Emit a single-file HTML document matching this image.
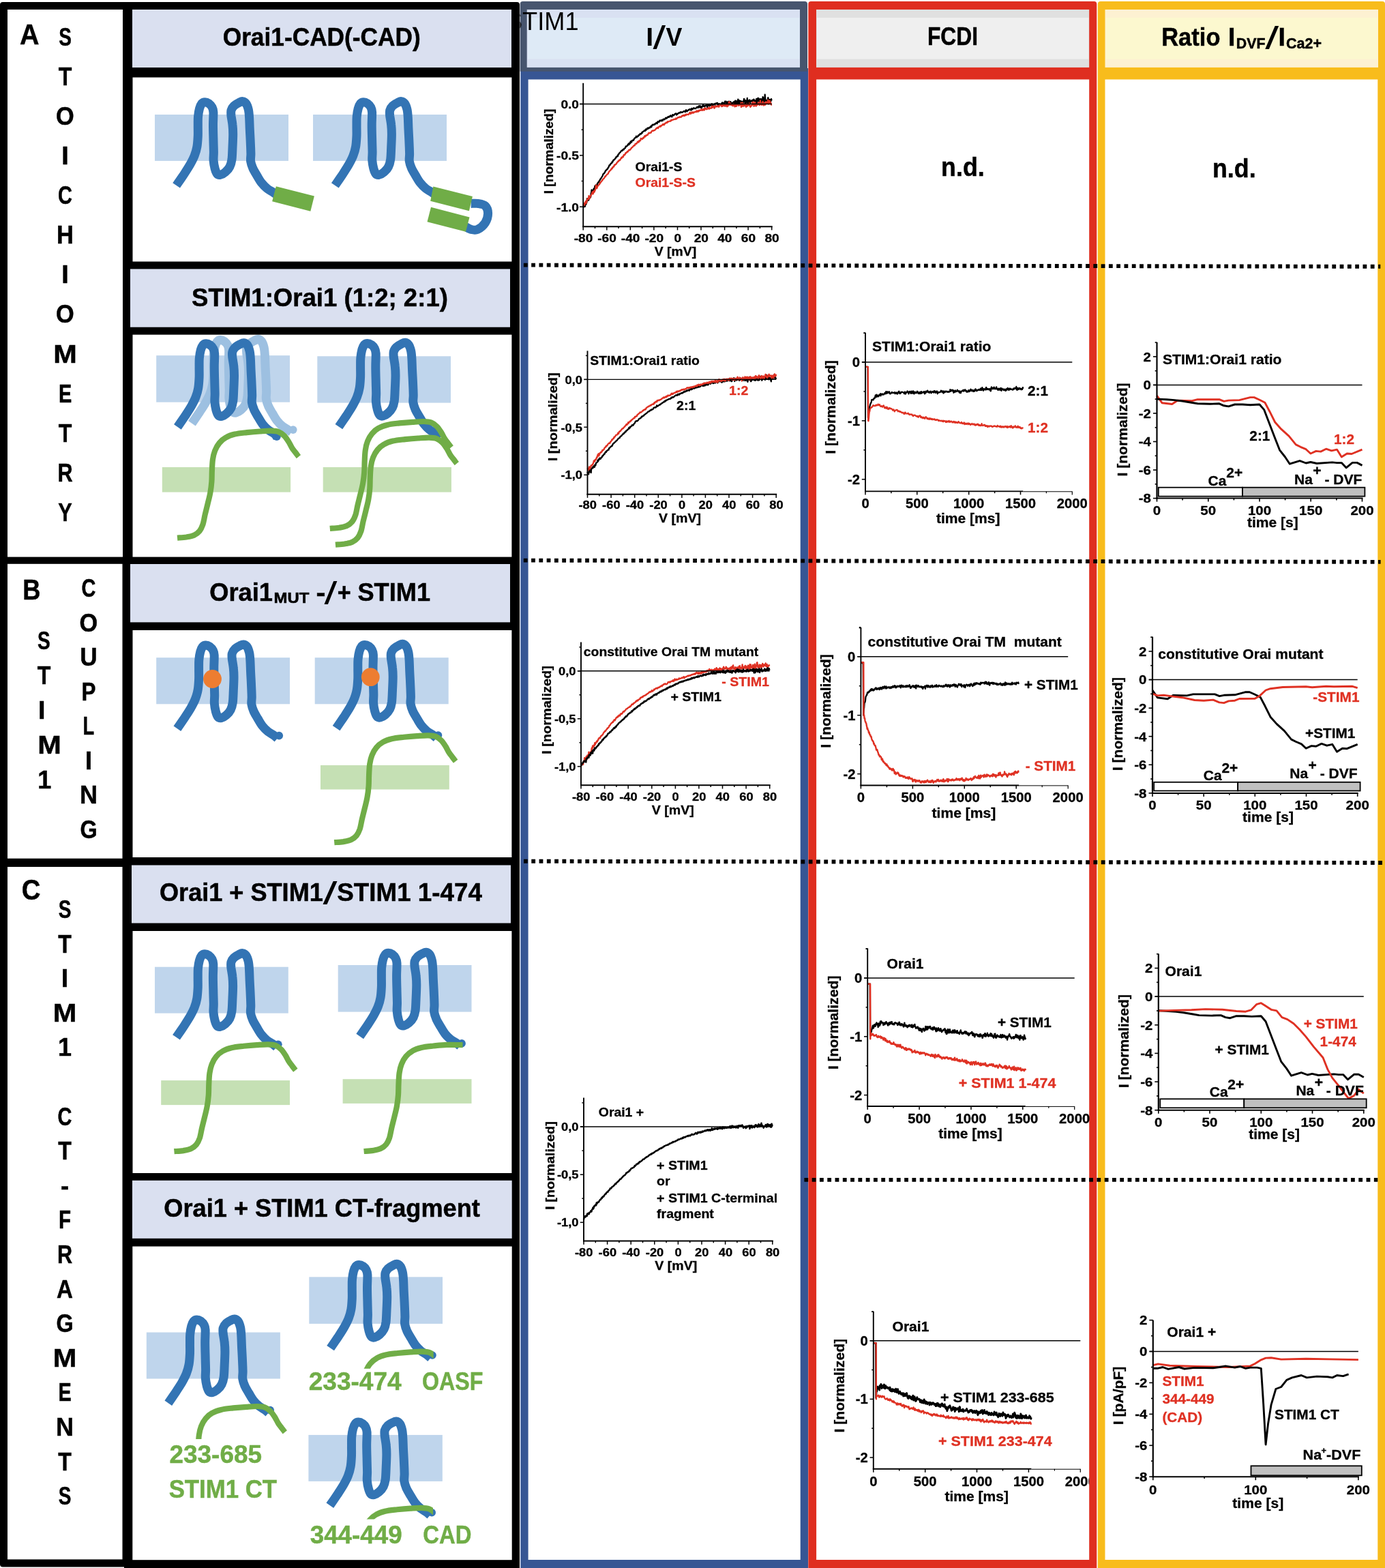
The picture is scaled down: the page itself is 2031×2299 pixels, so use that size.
<!DOCTYPE html>
<html lang="en">
<head>
<meta charset="utf-8">
<title>STIM1 / Orai1 stoichiometry, coupling and CT-fragments</title>
<style>
html,body{margin:0;padding:0;background:#fff;}
body{width:2031px;height:2299px;overflow:hidden;}
svg{display:block;font-family:"Liberation Sans",sans-serif;font-weight:bold;}
</style>
</head>
<body>
<svg width="2031" height="2299" viewBox="0 0 2031 2299">
<rect x="0" y="0" width="2031" height="2299" fill="#fff"/>
<path d="M0 7Q0 3 4 3H758Q762 3 762 7V2299H182V2297.5H4Q0 2297.5 0 2293.5Z" fill="#000"/>
<rect x="11" y="14" width="169" height="802.6" fill="#fff"/>
<rect x="11" y="826.8" width="168.5" height="431.9" fill="#fff"/>
<rect x="11" y="1271" width="168.5" height="1015.4" fill="#fff"/>
<rect x="194" y="14" width="556" height="85" fill="#DAE0F0"/>
<rect x="191" y="394.4" width="557" height="85.3" fill="#DAE0F0"/>
<rect x="191" y="827" width="557" height="85.4" fill="#DAE0F0"/>
<rect x="193" y="1268.5" width="556" height="85" fill="#DAE0F0"/>
<rect x="194" y="1730.8" width="556.7" height="85" fill="#DAE0F0"/>
<rect x="194.5" y="113.5" width="555.9" height="270" fill="#fff"/>
<rect x="194.5" y="490.7" width="555.9" height="325.9" fill="#fff"/>
<rect x="194.5" y="924" width="555.9" height="333" fill="#fff"/>
<rect x="194.5" y="1365" width="555.9" height="355" fill="#fff"/>
<rect x="194.3" y="1827.5" width="556.4" height="459.7" fill="#fff"/>
<rect x="763.3" y="100" width="421.7" height="2199" fill="#375694"/>
<rect x="774.6" y="116.5" width="399.1" height="2170.5" fill="#fff"/>
<path d="M762.7 6Q762.7 2 766.7 2H1180Q1184 2 1184 6V104.8H762.7Z" fill="#47556E"/>
<rect x="772.7" y="14" width="400.3" height="84.9" fill="#D9E1F2"/>
<rect x="774" y="26" width="398.5" height="60.6" fill="#DEEAF6"/>
<path d="M1185.3 6Q1185.3 2 1189.3 2H1604.3Q1608.3 2 1608.3 6V2299H1185.3Z" fill="#DF2E20"/>
<rect x="1197.1" y="116.5" width="400.1" height="2170.5" fill="#fff"/>
<rect x="1197" y="14" width="400.2" height="84.9" fill="#E0E0E0"/>
<rect x="1198" y="26" width="398.5" height="60.6" fill="#EFEFEF"/>
<path d="M1609.8 6Q1609.8 2 1613.8 2H2027Q2031 2 2031 6V2299H1609.8Z" fill="#F8BC1C"/>
<rect x="1620.5" y="116.5" width="399.8" height="2170.5" fill="#fff"/>
<rect x="1620.5" y="14" width="400.5" height="84.9" fill="#FDF1D2"/>
<rect x="1621.5" y="26" width="398.5" height="60.6" fill="#FCF8CF"/>
<clipPath id="cst"><rect x="762.6" y="0" width="200" height="110"/></clipPath>
<g clip-path="url(#cst)">
<text x="742" y="43.7" font-size="36" font-weight="normal" textLength="106.5" lengthAdjust="spacingAndGlyphs">STIM1</text>
</g>
<path d="M767.9 388.6L2024.3 390.8" stroke="#000" stroke-width="5.9" stroke-dasharray="5.8 5.49" fill="none"/>
<path d="M767.8 821.6L2024.6 823.9" stroke="#000" stroke-width="5.9" stroke-dasharray="5.8 5.49" fill="none"/>
<path d="M768 1262.7L2027.9 1265" stroke="#000" stroke-width="5.9" stroke-dasharray="5.8 5.49" fill="none"/>
<path d="M1179.4 1729.9L2020.3 1729.9" stroke="#000" stroke-width="5.9" stroke-dasharray="5.8 5.49" fill="none"/>
<text><tspan x="947.6" y="66.8" font-size="37.4" stroke="#000" stroke-width="0.2">I</tspan><tspan x="957.6" y="72.4" font-size="48.6" font-weight="normal" textLength="18.6" lengthAdjust="spacingAndGlyphs">/</tspan><tspan x="976.6" y="66.8" font-size="37.4" stroke="#000" stroke-width="0" textLength="23.9" lengthAdjust="spacingAndGlyphs">V</tspan></text>
<text x="1359.9" y="66.4" font-size="37.4" stroke="#000" stroke-width="0.5" textLength="74.1" lengthAdjust="spacingAndGlyphs">FCDI</text>
<text x="1380" y="257.5" font-size="38.4" stroke="#000" stroke-width="0.5" textLength="63.8" lengthAdjust="spacingAndGlyphs">n.d.</text>
<text x="1778" y="260.2" font-size="38.4" stroke="#000" stroke-width="0.5" textLength="63.6" lengthAdjust="spacingAndGlyphs">n.d.</text>
<text><tspan x="1703.2" y="67" font-size="37.4" stroke="#000" stroke-width="0.5" textLength="86.3" lengthAdjust="spacingAndGlyphs">Ratio</tspan> <tspan x="1801.1" y="67" font-size="37.4" stroke="#000" stroke-width="0.5">I</tspan><tspan x="1812.8" y="70.8" font-size="22.5" stroke="#000" stroke-width="0.5" textLength="42.7" lengthAdjust="spacingAndGlyphs">DVF</tspan><tspan x="1855.3" y="71.6" font-size="47" font-weight="normal" textLength="20" lengthAdjust="spacingAndGlyphs">/</tspan><tspan x="1874.5" y="67" font-size="37.4" stroke="#000" stroke-width="0.5">I</tspan><tspan x="1886" y="70.8" font-size="22.5" stroke="#000" stroke-width="0.5" textLength="52" lengthAdjust="spacingAndGlyphs">Ca2+</tspan></text>
<text x="326.7" y="67.1" font-size="37.4" stroke="#000" stroke-width="0.5" textLength="290.1" lengthAdjust="spacingAndGlyphs">Orai1-CAD(-CAD)</text>
<text x="281" y="448.5" font-size="37.4" stroke="#000" stroke-width="0.5" textLength="375.9" lengthAdjust="spacingAndGlyphs">STIM1:Orai1 (1:2; 2:1)</text>
<text><tspan x="307.3" y="880.5" font-size="37.4" stroke="#000" stroke-width="0.5" textLength="92.7" lengthAdjust="spacingAndGlyphs">Orai1</tspan><tspan x="401.4" y="884.2" font-size="22.5" stroke="#000" stroke-width="0.5" textLength="52" lengthAdjust="spacingAndGlyphs">MUT</tspan> <tspan x="463.4" y="880.5" font-size="37.4" stroke="#000" stroke-width="0.5" textLength="14" lengthAdjust="spacingAndGlyphs">-</tspan><tspan x="475.4" y="885.6" font-size="47" font-weight="normal" textLength="18.9" lengthAdjust="spacingAndGlyphs">/</tspan><tspan x="494.8" y="880.5" font-size="37.4" stroke="#000" stroke-width="0.5" textLength="19.9" lengthAdjust="spacingAndGlyphs">+</tspan> <tspan x="524.5" y="880.5" font-size="37.4" stroke="#000" stroke-width="0.5" textLength="106.5" lengthAdjust="spacingAndGlyphs">STIM1</tspan></text>
<text><tspan x="234" y="1321" font-size="37.4" stroke="#000" stroke-width="0.5" textLength="239.8" lengthAdjust="spacingAndGlyphs">Orai1 + STIM1</tspan><tspan x="473.6" y="1326.2" font-size="47" font-weight="normal" textLength="21" lengthAdjust="spacingAndGlyphs">/</tspan><tspan x="494.3" y="1321" font-size="37.4" stroke="#000" stroke-width="0.5" textLength="212.6" lengthAdjust="spacingAndGlyphs">STIM1 1-474</tspan></text>
<text x="240.3" y="1784.2" font-size="37.4" stroke="#000" stroke-width="0.5" textLength="463.6" lengthAdjust="spacingAndGlyphs">Orai1 + STIM1 CT-fragment</text>
<text x="28.9" y="65" font-size="43.4" stroke="#000" stroke-width="0.5" textLength="28.5" lengthAdjust="spacingAndGlyphs">A</text>
<text><tspan x="86.2" y="66.9" font-size="37.4" stroke="#000" stroke-width="0.5" textLength="18.7" lengthAdjust="spacingAndGlyphs">S</tspan><tspan x="85.7" y="125" font-size="37.4" stroke="#000" stroke-width="0.5" textLength="19.6" lengthAdjust="spacingAndGlyphs">T</tspan><tspan x="82.1" y="183" font-size="37.4" stroke="#000" stroke-width="0.5" textLength="26.7" lengthAdjust="spacingAndGlyphs">O</tspan><tspan x="90.2" y="241.1" font-size="37.4" stroke="#000" stroke-width="0.5" textLength="10.5" lengthAdjust="spacingAndGlyphs">I</tspan><tspan x="85.1" y="299.2" font-size="37.4" stroke="#000" stroke-width="0.5" textLength="20.9" lengthAdjust="spacingAndGlyphs">C</tspan><tspan x="83.1" y="357.2" font-size="37.4" stroke="#000" stroke-width="0.5" textLength="24.9" lengthAdjust="spacingAndGlyphs">H</tspan><tspan x="90.2" y="415.3" font-size="37.4" stroke="#000" stroke-width="0.5" textLength="10.5" lengthAdjust="spacingAndGlyphs">I</tspan><tspan x="82.1" y="473.4" font-size="37.4" stroke="#000" stroke-width="0.5" textLength="26.7" lengthAdjust="spacingAndGlyphs">O</tspan><tspan x="78.2" y="531.5" font-size="37.4" stroke="#000" stroke-width="0.5" textLength="34.6" lengthAdjust="spacingAndGlyphs">M</tspan><tspan x="85.9" y="589.5" font-size="37.4" stroke="#000" stroke-width="0.5" textLength="19.3" lengthAdjust="spacingAndGlyphs">E</tspan><tspan x="85.7" y="647.6" font-size="37.4" stroke="#000" stroke-width="0.5" textLength="19.6" lengthAdjust="spacingAndGlyphs">T</tspan><tspan x="84.4" y="705.7" font-size="37.4" stroke="#000" stroke-width="0.5" textLength="22.2" lengthAdjust="spacingAndGlyphs">R</tspan><tspan x="85.2" y="763.7" font-size="37.4" stroke="#000" stroke-width="0.5" textLength="20.5" lengthAdjust="spacingAndGlyphs">Y</tspan></text>
<text x="33.3" y="878.7" font-size="43.4" stroke="#000" stroke-width="0.5" textLength="26.2" lengthAdjust="spacingAndGlyphs">B</text>
<text><tspan x="119.6" y="875" font-size="37.4" stroke="#000" stroke-width="0.5" textLength="20.9" lengthAdjust="spacingAndGlyphs">C</tspan><tspan x="116.6" y="925.5" font-size="37.4" stroke="#000" stroke-width="0.5" textLength="26.7" lengthAdjust="spacingAndGlyphs">O</tspan><tspan x="117.3" y="976" font-size="37.4" stroke="#000" stroke-width="0.5" textLength="25.4" lengthAdjust="spacingAndGlyphs">U</tspan><tspan x="119.5" y="1026.5" font-size="37.4" stroke="#000" stroke-width="0.5" textLength="21" lengthAdjust="spacingAndGlyphs">P</tspan><tspan x="121.6" y="1077" font-size="37.4" stroke="#000" stroke-width="0.5" textLength="16.7" lengthAdjust="spacingAndGlyphs">L</tspan><tspan x="124.7" y="1127.5" font-size="37.4" stroke="#000" stroke-width="0.5" textLength="10.5" lengthAdjust="spacingAndGlyphs">I</tspan><tspan x="117" y="1178" font-size="37.4" stroke="#000" stroke-width="0.5" textLength="26" lengthAdjust="spacingAndGlyphs">N</tspan><tspan x="117.4" y="1228.5" font-size="37.4" stroke="#000" stroke-width="0.5" textLength="25.2" lengthAdjust="spacingAndGlyphs">G</tspan></text>
<text><tspan x="54.9" y="952" font-size="37.4" stroke="#000" stroke-width="0.5" textLength="18.7" lengthAdjust="spacingAndGlyphs">S</tspan><tspan x="54.7" y="1003.2" font-size="37.4" stroke="#000" stroke-width="0.5" textLength="19.6" lengthAdjust="spacingAndGlyphs">T</tspan><tspan x="55.9" y="1053.6" font-size="37.4" stroke="#000" stroke-width="0.5" textLength="10.5" lengthAdjust="spacingAndGlyphs">I</tspan><tspan x="55.2" y="1104.8" font-size="37.4" stroke="#000" stroke-width="0.5" textLength="34.6" lengthAdjust="spacingAndGlyphs">M</tspan><tspan x="55.3" y="1155.5" font-size="37.4" stroke="#000" stroke-width="0.5" textLength="20" lengthAdjust="spacingAndGlyphs">1</tspan></text>
<text x="31.8" y="1319" font-size="43.4" stroke="#000" stroke-width="0.5" textLength="27.7" lengthAdjust="spacingAndGlyphs">C</text>
<text><tspan x="85.7" y="1346" font-size="37.4" stroke="#000" stroke-width="0.5" textLength="18.7" lengthAdjust="spacingAndGlyphs">S</tspan><tspan x="85.2" y="1396.6" font-size="37.4" stroke="#000" stroke-width="0.5" textLength="19.6" lengthAdjust="spacingAndGlyphs">T</tspan><tspan x="89.7" y="1447.2" font-size="37.4" stroke="#000" stroke-width="0.5" textLength="10.5" lengthAdjust="spacingAndGlyphs">I</tspan><tspan x="77.7" y="1497.8" font-size="37.4" stroke="#000" stroke-width="0.5" textLength="34.6" lengthAdjust="spacingAndGlyphs">M</tspan><tspan x="85" y="1548.4" font-size="37.4" stroke="#000" stroke-width="0.5" textLength="20" lengthAdjust="spacingAndGlyphs">1</tspan> <tspan x="84.6" y="1649.6" font-size="37.4" stroke="#000" stroke-width="0.5" textLength="20.9" lengthAdjust="spacingAndGlyphs">C</tspan><tspan x="85.2" y="1700.2" font-size="37.4" stroke="#000" stroke-width="0.5" textLength="19.6" lengthAdjust="spacingAndGlyphs">T</tspan><tspan x="89" y="1750.8" font-size="37.4" stroke="#000" stroke-width="0.5" textLength="12.1" lengthAdjust="spacingAndGlyphs">-</tspan><tspan x="85.9" y="1801.4" font-size="37.4" stroke="#000" stroke-width="0.5" textLength="18.1" lengthAdjust="spacingAndGlyphs">F</tspan><tspan x="83.9" y="1852" font-size="37.4" stroke="#000" stroke-width="0.5" textLength="22.2" lengthAdjust="spacingAndGlyphs">R</tspan><tspan x="83.1" y="1902.6" font-size="37.4" stroke="#000" stroke-width="0.5" textLength="23.9" lengthAdjust="spacingAndGlyphs">A</tspan><tspan x="82.4" y="1953.2" font-size="37.4" stroke="#000" stroke-width="0.5" textLength="25.2" lengthAdjust="spacingAndGlyphs">G</tspan><tspan x="77.7" y="2003.8" font-size="37.4" stroke="#000" stroke-width="0.5" textLength="34.6" lengthAdjust="spacingAndGlyphs">M</tspan><tspan x="85.4" y="2054.4" font-size="37.4" stroke="#000" stroke-width="0.5" textLength="19.3" lengthAdjust="spacingAndGlyphs">E</tspan><tspan x="82" y="2105" font-size="37.4" stroke="#000" stroke-width="0.5" textLength="26" lengthAdjust="spacingAndGlyphs">N</tspan><tspan x="85.2" y="2155.6" font-size="37.4" stroke="#000" stroke-width="0.5" textLength="19.6" lengthAdjust="spacingAndGlyphs">T</tspan><tspan x="85.7" y="2206.2" font-size="37.4" stroke="#000" stroke-width="0.5" textLength="18.7" lengthAdjust="spacingAndGlyphs">S</tspan></text>
<text><tspan x="248.5" y="2144.9" font-size="37.4" stroke="#70AD47" stroke-width="0.5" fill="#70AD47" textLength="135.5" lengthAdjust="spacingAndGlyphs">233-685</tspan> <tspan x="247.7" y="2196.2" font-size="37.4" stroke="#70AD47" stroke-width="0.5" fill="#70AD47" textLength="158.3" lengthAdjust="spacingAndGlyphs">STIM1 CT</tspan></text>
<text><tspan x="452.7" y="2038" font-size="37.4" stroke="#70AD47" stroke-width="0.5" fill="#70AD47" textLength="136" lengthAdjust="spacingAndGlyphs">233-474</tspan> <tspan x="618.9" y="2038" font-size="37.4" stroke="#70AD47" stroke-width="0.5" fill="#70AD47" textLength="89.4" lengthAdjust="spacingAndGlyphs">OASF</tspan></text>
<text><tspan x="454.7" y="2262.7" font-size="37.4" stroke="#70AD47" stroke-width="0.5" fill="#70AD47" textLength="134.9" lengthAdjust="spacingAndGlyphs">344-449</tspan> <tspan x="620.3" y="2262.7" font-size="37.4" stroke="#70AD47" stroke-width="0.5" fill="#70AD47" textLength="71.2" lengthAdjust="spacingAndGlyphs">CAD</tspan></text>
<rect x="227" y="168" width="196" height="67.9" fill="#BFD5EC"/>
<rect x="459" y="168" width="196" height="67.9" fill="#BFD5EC"/>
<path d="M258.6 271.9C260.4 269.3 265.9 261.3 269.3 256.3C272.6 251.2 275.9 246.3 278.6 241.6C281.2 237 283.5 232.8 285.2 228.3C286.9 223.9 288.1 219.9 288.9 215.1C289.8 210.2 290 204.4 290.3 199.1C290.5 193.8 290.2 187.8 290.3 183.2C290.3 178.5 290.2 175.2 290.5 171.2C290.9 167.2 291.6 162.5 292.5 159.2C293.4 156 294.5 153.5 295.8 151.9C297.2 150.3 298.7 149.7 300.5 149.7C302.3 149.7 304.7 150.7 306.5 151.9C308.3 153.2 310.1 155.1 311.1 157.3C312.2 159.4 312.6 160.2 312.9 164.6C313.1 168.9 312.5 176.7 312.5 183.2C312.5 189.6 312.7 196.5 312.9 203.1C313 209.7 313.3 217.7 313.4 223C313.4 228.3 312.8 231 313.1 235C313.4 239 314.2 243.6 315.1 247C316 250.3 317.1 253.4 318.4 254.9C319.8 256.5 321.1 256.7 323.1 256.3C325.1 255.8 328.1 254.3 330.4 252.3C332.7 250.3 335.5 247.4 337 244.3C338.6 241.2 339.3 238.3 340 233.7C340.6 229 340.7 222.6 341 216.4C341.3 210.2 341.7 202 341.7 196.5C341.7 190.9 341.5 187.6 341 183.2C340.6 178.7 339.4 173.4 339 169.9C338.7 166.3 338.4 164.3 339 161.9C339.7 159.5 341.1 157.1 343 155.3C344.9 153.4 348.2 151.7 350.3 150.6C352.4 149.5 353.9 148.4 355.6 148.6C357.4 148.8 359.5 149.9 361 151.9C362.4 153.9 363.5 157.1 364.3 160.6C365.1 164 365.3 167.7 365.6 172.5C365.9 177.4 366 183.6 366.3 189.8C366.6 196 367.1 203.8 367.3 209.7C367.6 215.7 367.8 221.3 367.9 225.7C367.9 230.1 367.1 232.8 367.6 236.3C368.1 239.9 369.4 243.4 370.9 247C372.5 250.5 374.8 254 376.9 257.6C379 261.1 381.1 265.1 383.6 268.2C386 271.3 388.7 273.9 391.5 276.2C394.4 278.5 398.5 280.6 400.8 282.2C403.2 283.7 404.7 284.9 405.5 285.5" fill="none" stroke="#3374B4" stroke-width="13" stroke-linejoin="round"/>
<polygon points="404.8,273.3 460.9,287.5 455.3,309.7 399.1,295.2" fill="#70AD47"/>
<path d="M491.3 271.9C493.1 269.3 498.6 261.3 502 256.3C505.3 251.2 508.6 246.3 511.3 241.6C513.9 237 516.2 232.8 517.9 228.3C519.6 223.9 520.8 219.9 521.6 215.1C522.5 210.2 522.7 204.4 523 199.1C523.2 193.8 522.9 187.8 523 183.2C523 178.5 522.9 175.2 523.2 171.2C523.6 167.2 524.3 162.5 525.2 159.2C526.1 156 527.2 153.5 528.5 151.9C529.9 150.3 531.4 149.7 533.2 149.7C535 149.7 537.4 150.7 539.2 151.9C541 153.2 542.8 155.1 543.8 157.3C544.9 159.4 545.3 160.2 545.6 164.6C545.8 168.9 545.2 176.7 545.2 183.2C545.2 189.6 545.4 196.5 545.6 203.1C545.7 209.7 546 217.7 546.1 223C546.1 228.3 545.5 231 545.8 235C546.1 239 546.9 243.6 547.8 247C548.7 250.3 549.8 253.4 551.1 254.9C552.5 256.5 553.8 256.7 555.8 256.3C557.8 255.8 560.8 254.3 563.1 252.3C565.4 250.3 568.2 247.4 569.7 244.3C571.3 241.2 572 238.3 572.7 233.7C573.3 229 573.4 222.6 573.7 216.4C574 210.2 574.4 202 574.4 196.5C574.4 190.9 574.2 187.6 573.7 183.2C573.3 178.7 572.1 173.4 571.7 169.9C571.4 166.3 571.1 164.3 571.7 161.9C572.4 159.5 573.8 157.1 575.7 155.3C577.6 153.4 580.9 151.7 583 150.6C585.1 149.5 586.6 148.4 588.3 148.6C590.1 148.8 592.2 149.9 593.7 151.9C595.1 153.9 596.2 157.1 597 160.6C597.8 164 598 167.7 598.3 172.5C598.6 177.4 598.7 183.6 599 189.8C599.3 196 599.8 203.8 600 209.7C600.3 215.7 600.5 221.3 600.6 225.7C600.6 230.1 599.8 232.8 600.3 236.3C600.8 239.9 602.1 243.4 603.6 247C605.2 250.5 607.5 254 609.6 257.6C611.7 261.1 613.8 265.1 616.3 268.2C618.7 271.3 621.4 273.9 624.2 276.2C627.1 278.5 631.2 280.6 633.5 282.2C635.9 283.7 637.4 284.9 638.2 285.5" fill="none" stroke="#3374B4" stroke-width="13" stroke-linejoin="round"/>
<path d="M690.7 298.4C692.3 298.4 696.9 297.9 700.4 298.4C703.8 299 708.9 299.4 711.5 301.8C714 304.2 715.6 308.7 715.6 312.8C715.6 317 714 322.8 711.5 326.7C708.9 330.6 703.8 334.8 700.4 336.4C696.9 338 693.7 337.1 690.7 336.4C687.7 335.7 683.8 332.9 682.4 332.2" fill="none" stroke="#3374B4" stroke-width="13"/>
<polygon points="635.3,273.5 692.9,288 687.9,309.2 631.2,294.8" fill="#70AD47"/>
<polygon points="632,303.7 688.5,318.4 683,339.7 626.5,325.3" fill="#70AD47"/>
<rect x="229.2" y="521.2" width="195.8" height="68.5" fill="#BFD5EC"/>
<rect x="237.8" y="685" width="188.3" height="36.6" fill="#C5E0B4"/>
<rect x="465.3" y="522.3" width="195.7" height="68.3" fill="#BFD5EC"/>
<rect x="473.7" y="685" width="188.2" height="36.6" fill="#C5E0B4"/>
<path d="M281.4 620.7C283.2 618.1 288.7 610.1 292.1 605.1C295.4 600 298.7 595.1 301.4 590.4C304 585.8 306.3 581.6 308 577.1C309.7 572.7 310.9 568.7 311.7 563.9C312.6 559 312.8 553.2 313.1 547.9C313.3 542.6 313 536.6 313.1 532C313.1 527.3 313 524 313.3 520C313.7 516 314.4 511.3 315.3 508C316.2 504.8 317.3 502.3 318.6 500.7C320 499.1 321.5 498.5 323.3 498.5C325.1 498.5 327.5 499.5 329.3 500.7C331.1 502 332.9 503.9 333.9 506.1C335 508.2 335.4 509 335.7 513.4C335.9 517.7 335.3 525.5 335.3 532C335.3 538.4 335.5 545.3 335.7 551.9C335.8 558.5 336.1 566.5 336.2 571.8C336.2 577.1 335.6 579.8 335.9 583.8C336.2 587.8 337 592.4 337.9 595.8C338.8 599.1 339.9 602.2 341.2 603.7C342.6 605.3 343.9 605.5 345.9 605.1C347.9 604.6 350.9 603.1 353.2 601.1C355.5 599.1 358.3 596.2 359.8 593.1C361.4 590 362.1 587.1 362.8 582.5C363.4 577.8 363.5 571.4 363.8 565.2C364.1 559 364.5 550.8 364.5 545.3C364.5 539.7 364.3 536.4 363.8 532C363.4 527.5 362.2 522.2 361.8 518.7C361.5 515.1 361.2 513.1 361.8 510.7C362.5 508.3 363.9 505.9 365.8 504.1C367.7 502.2 371 500.5 373.1 499.4C375.2 498.3 376.7 497.2 378.4 497.4C380.2 497.6 382.3 498.7 383.8 500.7C385.2 502.7 386.3 505.9 387.1 509.4C387.9 512.8 388.1 516.5 388.4 521.3C388.7 526.2 388.8 532.4 389.1 538.6C389.4 544.8 389.9 552.6 390.1 558.5C390.4 564.5 390.6 570.1 390.7 574.5C390.7 578.9 389.9 581.6 390.4 585.1C390.9 588.7 392.2 592.2 393.7 595.8C395.3 599.3 397.6 602.8 399.7 606.4C401.8 609.9 403.9 613.9 406.4 617C408.8 620.1 411.5 622.7 414.3 625C417.2 627.3 421.5 629.5 423.6 631C425.8 632.4 426.7 633.2 427.3 633.6" fill="none" stroke="#9DC0E1" stroke-width="13" stroke-linejoin="round"/>
<circle cx="429.8" cy="630.1" r="5.8" fill="#9DC0E1"/>
<path d="M260.4 626C262.2 623.4 267.7 615.4 271.1 610.4C274.4 605.3 277.7 600.4 280.4 595.7C283 591.1 285.3 586.9 287 582.4C288.7 578 289.9 574 290.7 569.2C291.6 564.3 291.8 558.5 292.1 553.2C292.3 547.9 292 541.9 292.1 537.3C292.1 532.6 292 529.3 292.3 525.3C292.7 521.3 293.4 516.6 294.3 513.3C295.2 510.1 296.3 507.6 297.6 506C299 504.4 300.5 503.8 302.3 503.8C304.1 503.8 306.5 504.8 308.3 506C310.1 507.3 311.9 509.2 312.9 511.4C314 513.5 314.4 514.3 314.7 518.7C314.9 523 314.3 530.8 314.3 537.3C314.3 543.7 314.5 550.6 314.7 557.2C314.8 563.8 315.1 571.8 315.2 577.1C315.2 582.4 314.6 585.1 314.9 589.1C315.2 593.1 316 597.7 316.9 601.1C317.8 604.4 318.9 607.5 320.2 609C321.6 610.6 322.9 610.8 324.9 610.4C326.9 609.9 329.9 608.4 332.2 606.4C334.5 604.4 337.3 601.5 338.8 598.4C340.4 595.3 341.1 592.4 341.8 587.8C342.4 583.1 342.5 576.7 342.8 570.5C343.1 564.3 343.5 556.1 343.5 550.6C343.5 545 343.3 541.7 342.8 537.3C342.4 532.8 341.2 527.5 340.8 524C340.5 520.4 340.2 518.4 340.8 516C341.5 513.6 342.9 511.2 344.8 509.4C346.7 507.5 350 505.8 352.1 504.7C354.2 503.6 355.7 502.5 357.4 502.7C359.2 502.9 361.3 504 362.8 506C364.2 508 365.3 511.2 366.1 514.7C366.9 518.1 367.1 521.8 367.4 526.6C367.7 531.5 367.8 537.7 368.1 543.9C368.4 550.1 368.9 557.9 369.1 563.8C369.4 569.8 369.6 575.4 369.7 579.8C369.7 584.2 368.9 586.9 369.4 590.4C369.9 594 371.2 597.5 372.7 601.1C374.3 604.6 376.6 608.1 378.7 611.7C380.8 615.2 382.9 619.2 385.4 622.3C387.8 625.4 390.5 628 393.3 630.3C396.2 632.6 400.5 634.4 402.6 636.3C404.8 638.1 405.7 640.5 406.3 641.4" fill="none" stroke="#3374B4" stroke-width="13" stroke-linejoin="round"/>
<circle cx="405.8" cy="639.9" r="6" fill="#3374B4"/>
<path d="M260 788.6C262.2 788.4 269.2 788.1 273.3 787.5C277.3 786.8 281.3 786.2 284.6 784.7C287.8 783.2 290.5 781.2 292.6 778.6C294.8 775.9 296.1 772.9 297.5 768.9C298.8 764.9 299.5 759.5 300.7 754.4C301.9 749.3 303.4 743.6 304.7 738.2C306 732.9 307.5 727.5 308.4 722.1C309.4 716.7 310 711.3 310.4 706C310.8 700.6 310.6 695.2 310.9 689.8C311.1 684.4 311.3 678.5 312 673.7C312.7 668.8 313.6 664.8 315.2 660.8C316.8 656.7 319 652.7 321.7 649.5C324.4 646.2 327.6 643.5 331.4 641.4C335.1 639.2 339.2 637.8 344.3 636.6C349.4 635.3 355.8 634.8 362 634.1C368.2 633.5 375.5 632.9 381.4 632.5C387.3 632.1 393 631.6 397.5 631.7C402.1 631.8 405.6 632.1 408.8 633.3C412.1 634.5 414.5 636.6 416.9 639C419.3 641.4 421.5 644.9 423.4 647.9C425.2 650.8 426.6 654.2 428.2 656.7C429.8 659.3 431.4 661 433 663.2C434.7 665.3 437.1 668.6 437.9 669.6" fill="none" stroke="#70AD47" stroke-width="8.2" stroke-linejoin="round"/>
<path d="M496.9 625.6C498.7 623 504.2 615 507.6 610C510.9 604.9 514.2 600 516.9 595.3C519.5 590.7 521.8 586.5 523.5 582C525.2 577.6 526.4 573.6 527.2 568.8C528.1 563.9 528.3 558.1 528.6 552.8C528.8 547.5 528.5 541.5 528.6 536.9C528.6 532.2 528.5 528.9 528.8 524.9C529.2 520.9 529.9 516.2 530.8 512.9C531.7 509.7 532.8 507.2 534.1 505.6C535.5 504 537 503.4 538.8 503.4C540.6 503.4 543 504.4 544.8 505.6C546.6 506.9 548.4 508.8 549.4 511C550.5 513.1 550.9 513.9 551.2 518.3C551.4 522.6 550.8 530.4 550.8 536.9C550.8 543.3 551 550.2 551.2 556.8C551.3 563.4 551.6 571.4 551.7 576.7C551.7 582 551.1 584.7 551.4 588.7C551.7 592.7 552.5 597.3 553.4 600.7C554.3 604 555.4 607.1 556.7 608.6C558.1 610.2 559.4 610.4 561.4 610C563.4 609.5 566.4 608 568.7 606C571 604 573.8 601.1 575.3 598C576.9 594.9 577.6 592 578.3 587.4C578.9 582.7 579 576.3 579.3 570.1C579.6 563.9 580 555.7 580 550.2C580 544.6 579.8 541.3 579.3 536.9C578.9 532.4 577.7 527.1 577.3 523.6C577 520 576.7 518 577.3 515.6C578 513.2 579.4 510.8 581.3 509C583.2 507.1 586.5 505.4 588.6 504.3C590.7 503.2 592.2 502.1 593.9 502.3C595.7 502.5 597.8 503.6 599.3 505.6C600.7 507.6 601.8 510.8 602.6 514.3C603.4 517.7 603.6 521.4 603.9 526.2C604.2 531.1 604.3 537.3 604.6 543.5C604.9 549.7 605.4 557.5 605.6 563.4C605.9 569.4 606.1 575 606.2 579.4C606.2 583.8 605.4 586.5 605.9 590C606.4 593.6 607.7 597.1 609.2 600.7C610.8 604.2 613.1 607.7 615.2 611.3C617.3 614.8 619.4 618.8 621.9 621.9C624.3 625 627 627.6 629.8 629.9C632.7 632.2 637.1 634.4 639.1 635.9C641.1 637.4 641.4 638.5 641.8 639" fill="none" stroke="#3374B4" stroke-width="13" stroke-linejoin="round"/>
<circle cx="641.3" cy="637.5" r="6" fill="#3374B4"/>
<path d="M483.8 774.9C486 774.7 493 774.4 497.1 773.8C501.1 773.1 505.1 772.5 508.4 771C511.6 769.5 514.3 767.5 516.4 764.9C518.6 762.2 519.9 759.2 521.3 755.2C522.6 751.2 523.3 745.8 524.5 740.7C525.7 735.6 527.2 729.9 528.5 724.5C529.8 719.2 531.3 713.8 532.2 708.4C533.2 703 533.8 697.6 534.2 692.3C534.6 686.9 534.4 681.5 534.7 676.1C534.9 670.7 535.1 664.8 535.8 660C536.5 655.1 537.4 651.1 539 647.1C540.6 643 542.8 639 545.5 635.8C548.2 632.5 551.4 629.8 555.2 627.7C558.9 625.5 563 624.1 568.1 622.9C573.2 621.6 579.6 621.1 585.8 620.4C592 619.8 599.3 619.2 605.2 618.8C611.1 618.4 616.8 617.9 621.3 618C625.9 618.1 629.4 618.4 632.6 619.6C635.9 620.8 638.3 622.9 640.7 625.3C643.1 627.7 645.3 631.2 647.2 634.2C649 637.1 650.4 640.5 652 643C653.6 645.6 655.2 647.3 656.8 649.5C658.5 651.6 660.9 654.9 661.7 655.9" fill="none" stroke="#70AD47" stroke-width="8.2" stroke-linejoin="round"/>
<path d="M491.9 798.6C494.1 798.4 501.1 798.1 505.2 797.5C509.2 796.8 513.2 796.2 516.5 794.7C519.7 793.2 522.4 791.2 524.5 788.6C526.7 785.9 528 782.9 529.4 778.9C530.7 774.9 531.4 769.5 532.6 764.4C533.8 759.3 535.3 753.6 536.6 748.2C537.9 742.9 539.4 737.5 540.3 732.1C541.3 726.7 541.9 721.3 542.3 716C542.7 710.6 542.5 705.2 542.8 699.8C543 694.4 543.2 688.5 543.9 683.7C544.6 678.8 545.5 674.8 547.1 670.8C548.7 666.7 550.9 662.7 553.6 659.5C556.3 656.2 559.5 653.5 563.3 651.4C567 649.2 571.1 647.8 576.2 646.6C581.3 645.3 587.7 644.8 593.9 644.1C600.1 643.5 607.4 642.9 613.3 642.5C619.2 642.1 624.9 641.6 629.4 641.7C634 641.8 637.5 642.1 640.7 643.3C644 644.5 646.4 646.6 648.8 649C651.2 651.4 653.4 654.9 655.3 657.9C657.1 660.8 658.5 664.2 660.1 666.7C661.7 669.3 663.3 671 664.9 673.2C666.6 675.3 669 678.6 669.8 679.6" fill="none" stroke="#70AD47" stroke-width="8.2" stroke-linejoin="round"/>
<rect x="229.2" y="964.2" width="195.8" height="68.1" fill="#BFD5EC"/>
<rect x="461.7" y="964.2" width="196" height="68.1" fill="#BFD5EC"/>
<rect x="470" y="1122" width="188.8" height="35.5" fill="#C5E0B4"/>
<path d="M259.9 1068.2C261.7 1065.6 267.2 1057.6 270.6 1052.6C273.9 1047.5 277.2 1042.6 279.9 1037.9C282.5 1033.3 284.8 1029.1 286.5 1024.6C288.2 1020.2 289.4 1016.2 290.2 1011.4C291.1 1006.5 291.3 1000.7 291.6 995.4C291.8 990.1 291.5 984.1 291.6 979.5C291.6 974.8 291.5 971.5 291.8 967.5C292.2 963.5 292.9 958.8 293.8 955.5C294.7 952.3 295.8 949.8 297.1 948.2C298.5 946.6 300 946 301.8 946C303.6 946 306 947 307.8 948.2C309.6 949.5 311.4 951.4 312.4 953.6C313.5 955.7 313.9 956.5 314.2 960.9C314.4 965.2 313.8 973 313.8 979.5C313.8 985.9 314 992.8 314.2 999.4C314.3 1006 314.6 1014 314.7 1019.3C314.7 1024.6 314.1 1027.3 314.4 1031.3C314.7 1035.3 315.5 1039.9 316.4 1043.3C317.3 1046.6 318.4 1049.7 319.7 1051.2C321.1 1052.8 322.4 1053 324.4 1052.6C326.4 1052.1 329.4 1050.6 331.7 1048.6C334 1046.6 336.8 1043.7 338.3 1040.6C339.9 1037.5 340.6 1034.6 341.3 1030C341.9 1025.3 342 1018.9 342.3 1012.7C342.6 1006.5 343 998.3 343 992.8C343 987.2 342.8 983.9 342.3 979.5C341.9 975 340.7 969.7 340.3 966.2C340 962.6 339.7 960.6 340.3 958.2C341 955.8 342.4 953.4 344.3 951.6C346.2 949.7 349.5 948 351.6 946.9C353.7 945.8 355.2 944.7 356.9 944.9C358.7 945.1 360.8 946.2 362.3 948.2C363.7 950.2 364.8 953.4 365.6 956.9C366.4 960.3 366.6 964 366.9 968.8C367.2 973.7 367.3 979.9 367.6 986.1C367.9 992.3 368.4 1000.1 368.6 1006C368.9 1012 369.1 1017.6 369.2 1022C369.2 1026.4 368.4 1029.1 368.9 1032.6C369.4 1036.2 370.7 1039.7 372.2 1043.3C373.8 1046.8 376.1 1050.3 378.2 1053.9C380.3 1057.4 382.4 1061.4 384.9 1064.5C387.3 1067.6 390 1070.2 392.8 1072.5C395.7 1074.8 399.8 1076.8 402.1 1078.5C404.5 1080.2 406 1081.9 406.8 1082.6" fill="none" stroke="#3374B4" stroke-width="13" stroke-linejoin="round"/>
<circle cx="409.3" cy="1078.6" r="5.8" fill="#3374B4"/>
<circle cx="311.5" cy="995.5" r="13.4" fill="#ED7D31"/>
<path d="M493.1 1067.6C494.9 1065 500.4 1057 503.8 1052C507.1 1046.9 510.4 1042 513.1 1037.3C515.7 1032.7 518 1028.5 519.7 1024C521.4 1019.6 522.6 1015.6 523.4 1010.8C524.3 1005.9 524.5 1000.1 524.8 994.8C525 989.5 524.7 983.5 524.8 978.9C524.8 974.2 524.7 970.9 525 966.9C525.4 962.9 526.1 958.2 527 954.9C527.9 951.7 529 949.2 530.3 947.6C531.7 946 533.2 945.4 535 945.4C536.8 945.4 539.2 946.4 541 947.6C542.8 948.9 544.6 950.8 545.6 953C546.7 955.1 547.1 955.9 547.4 960.3C547.6 964.6 547 972.4 547 978.9C547 985.3 547.2 992.2 547.4 998.8C547.5 1005.4 547.8 1013.4 547.9 1018.7C547.9 1024 547.3 1026.7 547.6 1030.7C547.9 1034.7 548.7 1039.3 549.6 1042.7C550.5 1046 551.6 1049.1 552.9 1050.6C554.3 1052.2 555.6 1052.4 557.6 1052C559.6 1051.5 562.6 1050 564.9 1048C567.2 1046 570 1043.1 571.5 1040C573.1 1036.9 573.8 1034 574.5 1029.4C575.1 1024.7 575.2 1018.3 575.5 1012.1C575.8 1005.9 576.2 997.7 576.2 992.2C576.2 986.6 576 983.3 575.5 978.9C575.1 974.4 573.9 969.1 573.5 965.6C573.2 962 572.9 960 573.5 957.6C574.2 955.2 575.6 952.8 577.5 951C579.4 949.1 582.7 947.4 584.8 946.3C586.9 945.2 588.4 944.1 590.1 944.3C591.9 944.5 594 945.6 595.5 947.6C596.9 949.6 598 952.8 598.8 956.3C599.6 959.7 599.8 963.4 600.1 968.2C600.4 973.1 600.5 979.3 600.8 985.5C601.1 991.7 601.6 999.5 601.8 1005.4C602.1 1011.4 602.3 1017 602.4 1021.4C602.4 1025.8 601.6 1028.5 602.1 1032C602.6 1035.6 603.9 1039.1 605.4 1042.7C607 1046.2 609.3 1049.7 611.4 1053.3C613.5 1056.8 615.6 1060.8 618.1 1063.9C620.5 1067 623.2 1069.6 626 1071.9C628.9 1074.2 633 1076.2 635.3 1077.9C637.7 1079.6 639.2 1081.3 640 1082" fill="none" stroke="#3374B4" stroke-width="13" stroke-linejoin="round"/>
<circle cx="642.5" cy="1078" r="5.8" fill="#3374B4"/>
<circle cx="543.3" cy="992.7" r="13.4" fill="#ED7D31"/>
<path d="M490.2 1235.2C492.4 1235 499.4 1234.7 503.5 1234.1C507.5 1233.4 511.5 1232.8 514.8 1231.3C518 1229.8 520.7 1227.8 522.8 1225.2C525 1222.5 526.3 1219.5 527.7 1215.5C529 1211.5 529.7 1206.1 530.9 1201C532.1 1195.9 533.6 1190.2 534.9 1184.8C536.2 1179.5 537.7 1174.1 538.6 1168.7C539.6 1163.3 540.2 1157.9 540.6 1152.6C541 1147.2 540.8 1141.8 541.1 1136.4C541.3 1131 541.5 1125.1 542.2 1120.3C542.9 1115.4 543.8 1111.4 545.4 1107.4C547 1103.3 549.2 1099.3 551.9 1096.1C554.6 1092.8 557.8 1090.1 561.6 1088C565.3 1085.8 569.4 1084.4 574.5 1083.2C579.6 1081.9 586 1081.4 592.2 1080.7C598.4 1080.1 605.7 1079.5 611.6 1079.1C617.5 1078.7 623.2 1078.2 627.7 1078.3C632.3 1078.4 635.8 1078.7 639 1079.9C642.3 1081.1 644.7 1083.2 647.1 1085.6C649.5 1088 651.7 1091.5 653.6 1094.5C655.4 1097.4 656.8 1100.8 658.4 1103.3C660 1105.9 661.6 1107.6 663.2 1109.8C664.9 1111.9 667.3 1115.2 668.1 1116.2" fill="none" stroke="#70AD47" stroke-width="8.2" stroke-linejoin="round"/>
<rect x="227" y="1417.7" width="195.8" height="67.9" fill="#BFD5EC"/>
<rect x="236.2" y="1584.1" width="188.8" height="36" fill="#C5E0B4"/>
<rect x="495.7" y="1415" width="195.8" height="68.6" fill="#BFD5EC"/>
<rect x="502.6" y="1582.2" width="188.9" height="35.7" fill="#C5E0B4"/>
<path d="M258.5 1520.9C260.3 1518.3 265.8 1510.3 269.2 1505.3C272.5 1500.2 275.8 1495.3 278.5 1490.6C281.1 1486 283.4 1481.8 285.1 1477.3C286.8 1472.9 288 1468.9 288.8 1464.1C289.7 1459.2 289.9 1453.4 290.2 1448.1C290.4 1442.8 290.1 1436.8 290.2 1432.2C290.2 1427.5 290.1 1424.2 290.4 1420.2C290.8 1416.2 291.5 1411.5 292.4 1408.2C293.3 1405 294.4 1402.5 295.7 1400.9C297.1 1399.3 298.6 1398.7 300.4 1398.7C302.2 1398.7 304.6 1399.7 306.4 1400.9C308.2 1402.2 310 1404.1 311 1406.3C312.1 1408.4 312.5 1409.2 312.8 1413.6C313 1417.9 312.4 1425.7 312.4 1432.2C312.4 1438.6 312.6 1445.5 312.8 1452.1C312.9 1458.7 313.2 1466.7 313.3 1472C313.3 1477.3 312.7 1480 313 1484C313.3 1488 314.1 1492.6 315 1496C315.9 1499.3 317 1502.4 318.3 1503.9C319.7 1505.5 321 1505.7 323 1505.3C325 1504.8 328 1503.3 330.3 1501.3C332.6 1499.3 335.4 1496.4 336.9 1493.3C338.5 1490.2 339.2 1487.3 339.9 1482.7C340.5 1478 340.6 1471.6 340.9 1465.4C341.2 1459.2 341.6 1451 341.6 1445.5C341.6 1439.9 341.4 1436.6 340.9 1432.2C340.5 1427.7 339.3 1422.4 338.9 1418.9C338.6 1415.3 338.3 1413.3 338.9 1410.9C339.6 1408.5 341 1406.1 342.9 1404.3C344.8 1402.4 348.1 1400.7 350.2 1399.6C352.3 1398.5 353.8 1397.4 355.5 1397.6C357.3 1397.8 359.4 1398.9 360.9 1400.9C362.3 1402.9 363.4 1406.1 364.2 1409.6C365 1413 365.2 1416.7 365.5 1421.5C365.8 1426.4 365.9 1432.6 366.2 1438.8C366.5 1445 367 1452.8 367.2 1458.7C367.5 1464.7 367.7 1470.3 367.8 1474.7C367.8 1479.1 367 1481.8 367.5 1485.3C368 1488.9 369.3 1492.4 370.8 1496C372.4 1499.5 374.7 1503 376.8 1506.6C378.9 1510.1 381 1514.1 383.5 1517.2C385.9 1520.3 388.6 1522.9 391.4 1525.2C394.3 1527.5 398.4 1529.5 400.7 1531.2C403.1 1532.9 404.6 1534.6 405.4 1535.3" fill="none" stroke="#3374B4" stroke-width="13" stroke-linejoin="round"/>
<circle cx="407.9" cy="1531.3" r="5.8" fill="#3374B4"/>
<path d="M255.4 1688.2C257.6 1688 264.6 1687.7 268.7 1687.1C272.7 1686.4 276.7 1685.8 280 1684.3C283.2 1682.8 285.9 1680.8 288 1678.2C290.2 1675.5 291.5 1672.5 292.9 1668.5C294.2 1664.5 294.9 1659.1 296.1 1654C297.3 1648.9 298.8 1643.2 300.1 1637.8C301.4 1632.5 302.9 1627.1 303.8 1621.7C304.8 1616.3 305.4 1610.9 305.8 1605.6C306.2 1600.2 306 1594.8 306.3 1589.4C306.5 1584 306.7 1578.1 307.4 1573.3C308.1 1568.4 309 1564.4 310.6 1560.4C312.2 1556.3 314.4 1552.3 317.1 1549.1C319.8 1545.8 323 1543.1 326.8 1541C330.5 1538.8 334.6 1537.4 339.7 1536.2C344.8 1534.9 351.2 1534.4 357.4 1533.7C363.6 1533.1 370.9 1532.5 376.8 1532.1C382.7 1531.7 388.4 1531.2 392.9 1531.3C397.5 1531.4 401 1531.7 404.2 1532.9C407.5 1534.1 409.9 1536.2 412.3 1538.6C414.7 1541 416.9 1544.5 418.8 1547.5C420.6 1550.4 422 1553.8 423.6 1556.3C425.2 1558.9 426.8 1560.6 428.4 1562.8C430.1 1564.9 432.5 1568.2 433.3 1569.2" fill="none" stroke="#70AD47" stroke-width="8.2" stroke-linejoin="round"/>
<path d="M527.7 1519.5C529.5 1516.9 535 1508.9 538.4 1503.9C541.7 1498.8 545 1493.9 547.7 1489.2C550.3 1484.6 552.6 1480.4 554.3 1475.9C556 1471.5 557.2 1467.5 558 1462.7C558.9 1457.8 559.1 1452 559.4 1446.7C559.6 1441.4 559.3 1435.4 559.4 1430.8C559.4 1426.1 559.3 1422.8 559.6 1418.8C560 1414.8 560.7 1410.1 561.6 1406.8C562.5 1403.6 563.6 1401.1 564.9 1399.5C566.3 1397.9 567.8 1397.3 569.6 1397.3C571.4 1397.3 573.8 1398.3 575.6 1399.5C577.4 1400.8 579.2 1402.7 580.2 1404.9C581.3 1407 581.7 1407.8 582 1412.2C582.2 1416.5 581.6 1424.3 581.6 1430.8C581.6 1437.2 581.8 1444.1 582 1450.7C582.1 1457.3 582.4 1465.3 582.5 1470.6C582.5 1475.9 581.9 1478.6 582.2 1482.6C582.5 1486.6 583.3 1491.2 584.2 1494.6C585.1 1497.9 586.2 1501 587.5 1502.5C588.9 1504.1 590.2 1504.3 592.2 1503.9C594.2 1503.4 597.2 1501.9 599.5 1499.9C601.8 1497.9 604.6 1495 606.1 1491.9C607.7 1488.8 608.4 1485.9 609.1 1481.3C609.7 1476.6 609.8 1470.2 610.1 1464C610.4 1457.8 610.8 1449.6 610.8 1444.1C610.8 1438.5 610.6 1435.2 610.1 1430.8C609.7 1426.3 608.5 1421 608.1 1417.5C607.8 1413.9 607.5 1411.9 608.1 1409.5C608.8 1407.1 610.2 1404.7 612.1 1402.9C614 1401 617.3 1399.3 619.4 1398.2C621.5 1397.1 623 1396 624.7 1396.2C626.5 1396.4 628.6 1397.5 630.1 1399.5C631.5 1401.5 632.6 1404.7 633.4 1408.2C634.2 1411.6 634.4 1415.3 634.7 1420.1C635 1425 635.1 1431.2 635.4 1437.4C635.7 1443.6 636.2 1451.4 636.4 1457.3C636.7 1463.3 636.9 1468.9 637 1473.3C637 1477.7 636.2 1480.4 636.7 1483.9C637.2 1487.5 638.5 1491 640 1494.6C641.6 1498.1 643.9 1501.6 646 1505.2C648.1 1508.7 650.2 1512.7 652.7 1515.8C655.1 1518.9 657.8 1521.5 660.6 1523.8C663.5 1526.1 667.6 1528.1 669.9 1529.8C672.3 1531.5 673.8 1533.2 674.6 1533.9" fill="none" stroke="#3374B4" stroke-width="13" stroke-linejoin="round"/>
<circle cx="677.1" cy="1529.9" r="5.8" fill="#3374B4"/>
<path d="M533.6 1688C535.8 1687.8 542.8 1687.5 546.9 1686.9C550.9 1686.2 554.9 1685.6 558.2 1684.1C561.4 1682.6 564.1 1680.6 566.2 1678C568.4 1675.3 569.7 1672.3 571.1 1668.3C572.4 1664.3 573.1 1658.9 574.3 1653.8C575.5 1648.7 577 1643 578.3 1637.6C579.6 1632.3 581.1 1626.9 582 1621.5C583 1616.1 583.6 1610.7 584 1605.4C584.4 1600 584.2 1594.6 584.5 1589.2C584.7 1583.8 584.9 1577.9 585.6 1573.1C586.3 1568.2 587.2 1564.2 588.8 1560.2C590.4 1556.1 592.6 1552.1 595.3 1548.9C598 1545.6 601.2 1542.9 605 1540.8C608.7 1538.6 612.8 1537.2 617.9 1536C623 1534.7 629.4 1534.2 635.6 1533.5C641.8 1532.9 647.8 1532.2 655 1531.9C662.1 1531.7 674.6 1532.1 678.5 1532.1" fill="none" stroke="#70AD47" stroke-width="8.2" stroke-linejoin="round"/>
<rect x="214.8" y="1953.5" width="196.1" height="68" fill="#BFD5EC"/>
<rect x="453.3" y="1872.3" width="195.7" height="68.6" fill="#BFD5EC"/>
<rect x="452.4" y="2103.9" width="196.4" height="68" fill="#BFD5EC"/>
<path d="M246.8 2057.2C248.6 2054.6 254.1 2046.6 257.5 2041.6C260.8 2036.5 264.1 2031.6 266.8 2026.9C269.4 2022.3 271.7 2018.1 273.4 2013.6C275.1 2009.2 276.3 2005.2 277.1 2000.4C278 1995.5 278.2 1989.7 278.5 1984.4C278.7 1979.1 278.4 1973.1 278.5 1968.5C278.5 1963.8 278.4 1960.5 278.7 1956.5C279.1 1952.5 279.8 1947.8 280.7 1944.5C281.6 1941.3 282.7 1938.8 284 1937.2C285.4 1935.6 286.9 1935 288.7 1935C290.5 1935 292.9 1936 294.7 1937.2C296.5 1938.5 298.3 1940.4 299.3 1942.6C300.4 1944.7 300.8 1945.5 301.1 1949.9C301.3 1954.2 300.7 1962 300.7 1968.5C300.7 1974.9 300.9 1981.8 301.1 1988.4C301.2 1995 301.5 2003 301.6 2008.3C301.6 2013.6 301 2016.3 301.3 2020.3C301.6 2024.3 302.4 2028.9 303.3 2032.3C304.2 2035.6 305.3 2038.7 306.6 2040.2C308 2041.8 309.3 2042 311.3 2041.6C313.3 2041.1 316.3 2039.6 318.6 2037.6C320.9 2035.6 323.7 2032.7 325.2 2029.6C326.8 2026.5 327.5 2023.6 328.2 2019C328.8 2014.3 328.9 2007.9 329.2 2001.7C329.5 1995.5 329.9 1987.3 329.9 1981.8C329.9 1976.2 329.7 1972.9 329.2 1968.5C328.8 1964 327.6 1958.7 327.2 1955.2C326.9 1951.6 326.6 1949.6 327.2 1947.2C327.9 1944.8 329.3 1942.4 331.2 1940.6C333.1 1938.7 336.4 1937 338.5 1935.9C340.6 1934.8 342.1 1933.7 343.8 1933.9C345.6 1934.1 347.7 1935.2 349.2 1937.2C350.6 1939.2 351.7 1942.4 352.5 1945.9C353.3 1949.3 353.5 1953 353.8 1957.8C354.1 1962.7 354.2 1968.9 354.5 1975.1C354.8 1981.3 355.3 1989.1 355.5 1995C355.8 2001 356 2006.6 356.1 2011C356.1 2015.4 355.3 2018.1 355.8 2021.6C356.3 2025.2 357.6 2028.7 359.1 2032.3C360.7 2035.8 363 2039.3 365.1 2042.9C367.2 2046.4 369.3 2050.4 371.8 2053.5C374.2 2056.6 376.9 2059.2 379.7 2061.5C382.6 2063.8 386.7 2065.8 389 2067.5C391.4 2069.2 392.9 2070.9 393.7 2071.6" fill="none" stroke="#3374B4" stroke-width="13" stroke-linejoin="round"/>
<circle cx="396.2" cy="2067.6" r="5.8" fill="#3374B4"/>
<path d="M484.6 1976.6C486.4 1974 491.9 1966 495.3 1961C498.6 1955.9 501.9 1951 504.6 1946.3C507.2 1941.7 509.5 1937.5 511.2 1933C512.9 1928.6 514.1 1924.6 514.9 1919.8C515.8 1914.9 516 1909.1 516.3 1903.8C516.5 1898.5 516.2 1892.5 516.3 1887.9C516.3 1883.2 516.2 1879.9 516.5 1875.9C516.9 1871.9 517.6 1867.2 518.5 1863.9C519.4 1860.7 520.5 1858.2 521.8 1856.6C523.2 1855 524.7 1854.4 526.5 1854.4C528.3 1854.4 530.7 1855.4 532.5 1856.6C534.3 1857.9 536.1 1859.8 537.1 1862C538.2 1864.1 538.6 1864.9 538.9 1869.3C539.1 1873.6 538.5 1881.4 538.5 1887.9C538.5 1894.3 538.7 1901.2 538.9 1907.8C539 1914.4 539.3 1922.4 539.4 1927.7C539.4 1933 538.8 1935.7 539.1 1939.7C539.4 1943.7 540.2 1948.3 541.1 1951.7C542 1955 543.1 1958.1 544.4 1959.6C545.8 1961.2 547.1 1961.4 549.1 1961C551.1 1960.5 554.1 1959 556.4 1957C558.7 1955 561.5 1952.1 563 1949C564.6 1945.9 565.3 1943 566 1938.4C566.6 1933.7 566.7 1927.3 567 1921.1C567.3 1914.9 567.7 1906.7 567.7 1901.2C567.7 1895.6 567.5 1892.3 567 1887.9C566.6 1883.4 565.4 1878.1 565 1874.6C564.7 1871 564.4 1869 565 1866.6C565.7 1864.2 567.1 1861.8 569 1860C570.9 1858.1 574.2 1856.4 576.3 1855.3C578.4 1854.2 579.9 1853.1 581.6 1853.3C583.4 1853.5 585.5 1854.6 587 1856.6C588.4 1858.6 589.5 1861.8 590.3 1865.3C591.1 1868.7 591.3 1872.4 591.6 1877.2C591.9 1882.1 592 1888.3 592.3 1894.5C592.6 1900.7 593.1 1908.5 593.3 1914.4C593.6 1920.4 593.8 1926 593.9 1930.4C593.9 1934.8 593.1 1937.5 593.6 1941C594.1 1944.6 595.4 1948.1 596.9 1951.7C598.5 1955.2 600.8 1958.7 602.9 1962.3C605 1965.8 607.1 1969.8 609.6 1972.9C612 1976 614.7 1978.6 617.5 1980.9C620.4 1983.2 624.5 1985.2 626.8 1986.9C629.2 1988.6 630.7 1990.3 631.5 1991" fill="none" stroke="#3374B4" stroke-width="13" stroke-linejoin="round"/>
<circle cx="634" cy="1987" r="5.8" fill="#3374B4"/>
<path d="M483.8 2207.3C485.6 2204.7 491.1 2196.7 494.5 2191.7C497.8 2186.6 501.1 2181.7 503.8 2177C506.4 2172.4 508.7 2168.2 510.4 2163.7C512.1 2159.3 513.3 2155.3 514.1 2150.5C515 2145.6 515.2 2139.8 515.5 2134.5C515.7 2129.2 515.4 2123.2 515.5 2118.6C515.5 2113.9 515.4 2110.6 515.7 2106.6C516.1 2102.6 516.8 2097.9 517.7 2094.6C518.6 2091.4 519.7 2088.9 521 2087.3C522.4 2085.7 523.9 2085.1 525.7 2085.1C527.5 2085.1 529.9 2086.1 531.7 2087.3C533.5 2088.6 535.3 2090.5 536.3 2092.7C537.4 2094.8 537.8 2095.6 538.1 2100C538.3 2104.3 537.7 2112.1 537.7 2118.6C537.7 2125 537.9 2131.9 538.1 2138.5C538.2 2145.1 538.5 2153.1 538.6 2158.4C538.6 2163.7 538 2166.4 538.3 2170.4C538.6 2174.4 539.4 2179 540.3 2182.4C541.2 2185.7 542.3 2188.8 543.6 2190.3C545 2191.9 546.3 2192.1 548.3 2191.7C550.3 2191.2 553.3 2189.7 555.6 2187.7C557.9 2185.7 560.7 2182.8 562.2 2179.7C563.8 2176.6 564.5 2173.7 565.2 2169.1C565.8 2164.4 565.9 2158 566.2 2151.8C566.5 2145.6 566.9 2137.4 566.9 2131.9C566.9 2126.3 566.7 2123 566.2 2118.6C565.8 2114.1 564.6 2108.8 564.2 2105.3C563.9 2101.7 563.6 2099.7 564.2 2097.3C564.9 2094.9 566.3 2092.5 568.2 2090.7C570.1 2088.8 573.4 2087.1 575.5 2086C577.6 2084.9 579.1 2083.8 580.8 2084C582.6 2084.2 584.7 2085.3 586.2 2087.3C587.6 2089.3 588.7 2092.5 589.5 2096C590.3 2099.4 590.5 2103.1 590.8 2107.9C591.1 2112.8 591.2 2119 591.5 2125.2C591.8 2131.4 592.3 2139.2 592.5 2145.1C592.8 2151.1 593 2156.7 593.1 2161.1C593.1 2165.5 592.3 2168.2 592.8 2171.7C593.3 2175.3 594.6 2178.8 596.1 2182.4C597.7 2185.9 600 2189.4 602.1 2193C604.2 2196.5 606.3 2200.5 608.8 2203.6C611.2 2206.7 613.9 2209.3 616.7 2211.6C619.6 2213.9 623.7 2215.9 626 2217.6C628.4 2219.3 629.9 2221 630.7 2221.7" fill="none" stroke="#3374B4" stroke-width="13" stroke-linejoin="round"/>
<circle cx="633.2" cy="2217.7" r="5.8" fill="#3374B4"/>
<clipPath id="cs1"><rect x="200" y="2040" width="240" height="70"/></clipPath>
<g clip-path="url(#cs1)">
<path d="M239.9 2218.9C242.1 2218.7 249.1 2218.4 253.2 2217.8C257.2 2217.1 261.2 2216.5 264.5 2215C267.7 2213.5 270.4 2211.5 272.5 2208.9C274.7 2206.2 276 2203.2 277.4 2199.2C278.7 2195.2 279.4 2189.8 280.6 2184.7C281.8 2179.6 283.3 2173.9 284.6 2168.5C285.9 2163.2 287.4 2157.8 288.3 2152.4C289.3 2147 289.9 2141.6 290.3 2136.3C290.7 2130.9 290.5 2125.5 290.8 2120.1C291 2114.7 291.2 2108.8 291.9 2104C292.6 2099.1 293.5 2095.1 295.1 2091.1C296.7 2087 298.9 2083 301.6 2079.8C304.3 2076.5 307.5 2073.8 311.3 2071.7C315 2069.5 319.1 2068.1 324.2 2066.9C329.3 2065.6 335.7 2065.1 341.9 2064.4C348.1 2063.8 355.4 2063.2 361.3 2062.8C367.2 2062.4 372.9 2061.9 377.4 2062C382 2062.1 385.5 2062.4 388.7 2063.6C392 2064.8 394.4 2066.9 396.8 2069.3C399.2 2071.7 401.4 2075.2 403.3 2078.2C405.1 2081.1 406.5 2084.5 408.1 2087C409.7 2089.6 411.3 2091.3 412.9 2093.5C414.6 2095.6 417 2098.9 417.8 2099.9" fill="none" stroke="#70AD47" stroke-width="8.2" stroke-linejoin="round"/>
</g>
<clipPath id="cs2"><rect x="500" y="1960" width="135.7" height="46.7"/></clipPath>
<g clip-path="url(#cs2)">
<path d="M481.2 2138.5C483.4 2138.3 490.4 2138 494.5 2137.4C498.5 2136.7 502.5 2136.1 505.8 2134.6C509 2133.1 511.7 2131.1 513.8 2128.5C516 2125.8 517.3 2122.8 518.7 2118.8C520 2114.8 520.7 2109.4 521.9 2104.3C523.1 2099.2 524.6 2093.5 525.9 2088.1C527.2 2082.8 528.7 2077.4 529.6 2072C530.6 2066.6 531.2 2061.2 531.6 2055.9C532 2050.5 531.8 2045.1 532.1 2039.7C532.3 2034.3 532.5 2028.4 533.2 2023.6C533.9 2018.7 534.8 2014.7 536.4 2010.7C538 2006.6 540.2 2002.6 542.9 1999.4C545.6 1996.1 548.8 1993.4 552.6 1991.3C556.3 1989.1 560.4 1987.7 565.5 1986.5C570.6 1985.2 577 1984.7 583.2 1984C589.4 1983.4 596.7 1982.8 602.6 1982.4C608.5 1982 614.2 1981.5 618.7 1981.6C623.3 1981.7 626.8 1982 630 1983.2C633.3 1984.4 635.7 1986.5 638.1 1988.9C640.5 1991.3 642.7 1994.8 644.6 1997.8C646.4 2000.7 647.8 2004.1 649.4 2006.6C651 2009.2 652.6 2010.9 654.2 2013.1C655.9 2015.2 658.3 2018.5 659.1 2019.5" fill="none" stroke="#70AD47" stroke-width="8.2" stroke-linejoin="round"/>
</g>
<clipPath id="cs3"><rect x="500" y="2190" width="135" height="37.4"/></clipPath>
<g clip-path="url(#cs3)">
<path d="M480.5 2367.7C482.7 2367.5 489.7 2367.2 493.8 2366.6C497.8 2365.9 501.8 2365.3 505.1 2363.8C508.3 2362.3 511 2360.3 513.1 2357.7C515.3 2355 516.6 2352 518 2348C519.3 2344 520 2338.6 521.2 2333.5C522.4 2328.4 523.9 2322.7 525.2 2317.3C526.5 2312 528 2306.6 528.9 2301.2C529.9 2295.8 530.5 2290.4 530.9 2285.1C531.3 2279.7 531.1 2274.3 531.4 2268.9C531.6 2263.5 531.8 2257.6 532.5 2252.8C533.2 2247.9 534.1 2243.9 535.7 2239.9C537.3 2235.8 539.5 2231.8 542.2 2228.6C544.9 2225.3 548.1 2222.6 551.9 2220.5C555.6 2218.3 559.7 2216.9 564.8 2215.7C569.9 2214.4 576.3 2213.9 582.5 2213.2C588.7 2212.6 596 2212 601.9 2211.6C607.8 2211.2 613.5 2210.7 618 2210.8C622.6 2210.9 626.1 2211.2 629.3 2212.4C632.6 2213.6 635 2215.7 637.4 2218.1C639.8 2220.5 642 2224 643.9 2227C645.7 2229.9 647.1 2233.3 648.7 2235.8C650.3 2238.4 651.9 2240.1 653.5 2242.3C655.2 2244.4 657.6 2247.7 658.4 2248.7" fill="none" stroke="#70AD47" stroke-width="8.2" stroke-linejoin="round"/>
</g>
<path d="M855.2 304.4L855.7 303.4L856.2 303L856.8 302L857.3 299.5L857.8 302.9L858.3 300.4L858.8 299.7L859.3 299.7L859.9 297.7L860.4 296.5L860.9 291.2L861.4 293.6L861.9 293.7L862.5 291.4L863 293.7L863.5 292.5L864 289.4L864.5 290L865.1 290.2L865.6 288.7L866.1 289L866.6 283.8L867.1 282L867.6 278.5L868.2 282.3L868.7 281.9L869.2 281L869.7 278.8L870.2 278.6L870.8 276.4L871.3 277.3L871.8 278.7L872.3 272.9L872.8 275L873.3 271.7L873.9 273.1L874.4 271.8L874.9 274.1L875.4 272.5L875.9 269.4L876.5 268.4L877 268L877.5 267L878 267.4L878.5 265.6L879 265.1L879.6 264.5L880.1 262.9L880.6 262.5L881.1 262L881.6 260.9L882.2 260.1L882.7 259.2L883.2 258.2L883.7 257.7L884.2 256.1L884.8 254.8L885.3 254.3L885.8 254.4L886.3 253.9L886.8 252.6L887.3 252.1L887.9 250.4L888.4 250.2L888.9 249.4L889.4 249.3L889.9 248.2L890.5 248.2L891 247.8L891.5 246.1L892 246.1L892.5 245.1L893 243.5L893.6 242.2L894.1 242.4L894.6 242.1L895.1 240.7L895.6 239.8L896.2 239.4L896.7 239.6L897.2 238.8L897.7 237.2L898.2 237.7L898.7 236.5L899.3 235L899.8 234.4L900.3 234.7L900.8 234L901.3 233.3L901.9 233.2L902.4 231.9L902.9 231.8L903.4 230.3L903.9 230.6L904.5 229.9L905 229.2L905.5 228.2L906 229.1L906.5 226.6L907 226.4L907.6 225.7L908.1 224.4L908.6 224.4L909.1 223.7L909.6 223.3L910.2 222.3L910.7 221.8L911.2 220.9L911.7 221.1L912.2 221.2L912.7 220L913.3 220.2L913.8 219.1L914.3 218.7L914.8 219.3L915.3 217.8L915.9 217.5L916.4 217.2L916.9 217.1L917.4 215.2L917.9 214.4L918.4 214.9L919 214.5L919.5 213.9L920 213.5L920.5 212.1L921 212.4L921.6 210.8L922.1 212.2L922.6 211.7L923.1 209.6L923.6 209.6L924.2 210.2L924.7 207.3L925.2 207.4L925.7 207.2L926.2 208.5L926.7 206.2L927.3 206.1L927.8 205.7L928.3 205.4L928.8 205.9L929.3 205.2L929.9 203.7L930.4 202.8L930.9 202.4L931.4 202.2L931.9 201.9L932.4 201.3L933 199.8L933.5 200.5L934 201.2L934.5 199.8L935 199.7L935.6 199.8L936.1 199.5L936.6 197.9L937.1 198.2L937.6 197.6L938.2 197.6L938.7 196L939.2 196.4L939.7 196.1L940.2 196.4L940.7 195.9L941.3 194.1L941.8 194.8L942.3 193.3L942.8 193.1L943.3 192.8L943.9 192.5L944.4 192.3L944.9 191.2L945.4 191.4L945.9 192L946.4 191.1L947 189.5L947.5 190.7L948 189.8L948.5 189.4L949 188.3L949.6 189.1L950.1 187.5L950.6 188.5L951.1 187.6L951.6 187.9L952.1 186.9L952.7 186.9L953.2 187.2L953.7 185.8L954.2 186.1L954.7 184.9L955.3 186.4L955.8 183.8L956.3 184.2L956.8 182.8L957.3 183L957.9 183.1L958.4 183L958.9 182.9L959.4 181.9L959.9 182L960.4 182.5L961 181.6L961.5 180.7L962 180.6L962.5 180.2L963 179.8L963.6 181.2L964.1 179.6L964.6 178.3L965.1 178.5L965.6 178.7L966.1 179L966.7 178.5L967.2 176.7L967.7 177.6L968.2 176.9L968.7 176.9L969.3 176.2L969.8 177L970.3 177.4L970.8 176.3L971.3 175.6L971.8 176.9L972.4 175.4L972.9 174.7L973.4 174.7L973.9 174.6L974.4 175.3L975 174.5L975.5 174.4L976 173L976.5 172.9L977 172.6L977.6 173.6L978.1 173.3L978.6 172.2L979.1 172L979.6 171.1L980.1 171.8L980.7 171.8L981.2 170.7L981.7 171.4L982.2 171.1L982.7 169.8L983.3 169.3L983.8 170.2L984.3 170.8L984.8 170.2L985.3 171.4L985.8 169.1L986.4 168.1L986.9 168.6L987.4 169.2L987.9 169.3L988.4 168.8L989 168.1L989.5 167.4L990 167L990.5 166.4L991 167L991.5 166.5L992.1 168.5L992.6 167.9L993.1 166.8L993.6 167.2L994.1 166.6L994.7 166.1L995.2 165.5L995.7 165.6L996.2 165.5L996.7 165.6L997.3 165L997.8 164.3L998.3 165.1L998.8 164.6L999.3 164.4L999.8 164.5L1000.4 164.9L1000.9 164.6L1001.4 164.3L1001.9 163.5L1002.4 163.3L1003 162.9L1003.5 163.2L1004 163.8L1004.5 162.9L1005 164.1L1005.5 162.3L1006.1 161.3L1006.6 162.7L1007.1 162.6L1007.6 163.4L1008.1 162.2L1008.7 162L1009.2 161.4L1009.7 161.1L1010.2 161.3L1010.7 160.3L1011.2 160.2L1011.8 160.9L1012.3 160.1L1012.8 161.2L1013.3 161.5L1013.8 161.2L1014.4 158.9L1014.9 160.4L1015.4 160.4L1015.9 159.7L1016.4 159.4L1017 158.6L1017.5 158.1L1018 158.9L1018.5 159.1L1019 159.2L1019.5 159.2L1020.1 159.1L1020.6 158.6L1021.1 157.9L1021.6 157.1L1022.1 157.1L1022.7 157.6L1023.2 156.8L1023.7 158L1024.2 155.9L1024.7 156.2L1025.2 155.2L1025.8 156.4L1026.3 157.6L1026.8 155.1L1027.3 156.3L1027.8 157.1L1028.4 158.1L1028.9 158.2L1029.4 156L1029.9 155.3L1030.4 156.1L1031 154L1031.5 155.3L1032 154.7L1032.5 156.2L1033 156.2L1033.5 156.4L1034.1 154.7L1034.6 154.8L1035.1 154.9L1035.6 154.5L1036.1 154.6L1036.7 154.3L1037.2 157.3L1037.7 154.2L1038.2 153.7L1038.7 153.1L1039.2 154L1039.8 154.9L1040.3 155.5L1040.8 153.2L1041.3 154.6L1041.8 153L1042.4 153.3L1042.9 154.7L1043.4 153.6L1043.9 152.1L1044.4 153L1044.9 155.2L1045.5 153.5L1046 153.6L1046.5 152.9L1047 153.2L1047.5 152.4L1048.1 153.6L1048.6 152.8L1049.1 151.6L1049.6 151.9L1050.1 152.2L1050.7 152.1L1051.2 151.1L1051.7 150.9L1052.2 151.4L1052.7 154.3L1053.2 154.2L1053.8 153.3L1054.3 152.3L1054.8 153.5L1055.3 154.3L1055.8 152.4L1056.4 153.1L1056.9 153.3L1057.4 153L1057.9 153.2L1058.4 151.6L1058.9 150.4L1059.5 151.8L1060 152.8L1060.5 150.7L1061 152.3L1061.5 151.7L1062.1 151.9L1062.6 152.1L1063.1 148.6L1063.6 149.8L1064.1 149L1064.6 148.7L1065.2 150.2L1065.7 153.7L1066.2 150.3L1066.7 149.5L1067.2 152.7L1067.8 152.1L1068.3 148.9L1068.8 149.3L1069.3 148.8L1069.8 151.5L1070.4 149.4L1070.9 150.3L1071.4 149.2L1071.9 152.3L1072.4 150.8L1072.9 153.8L1073.5 152.1L1074 151.2L1074.5 150.5L1075 150.9L1075.5 151.2L1076.1 149.3L1076.6 150.1L1077.1 152.2L1077.6 149.5L1078.1 147.7L1078.6 149.8L1079.2 151.8L1079.7 148L1080.2 148.5L1080.7 153L1081.2 150.2L1081.8 150.5L1082.3 145.7L1082.8 149.1L1083.3 151.7L1083.8 148.8L1084.3 147.4L1084.9 152.5L1085.4 150L1085.9 150.2L1086.4 148L1086.9 148.5L1087.5 150.7L1088 149.1L1088.5 149.3L1089 152.4L1089.5 152L1090.1 148.1L1090.6 147.5L1091.1 144.8L1091.6 148.5L1092.1 148L1092.6 151.8L1093.2 147.1L1093.7 151.2L1094.2 151.1L1094.7 148.6L1095.2 150.7L1095.8 143.8L1096.3 149.7L1096.8 152.2L1097.3 150.1L1097.8 147.5L1098.3 150.7L1098.9 147.1L1099.4 146.4L1099.9 152.1L1100.4 148.1L1100.9 148.4L1101.5 148.2L1102 147.8L1102.5 147.2L1103 149.1L1103.5 147.4L1104 149.4L1104.6 145.9L1105.1 146.3L1105.6 145.7L1106.1 147.6L1106.6 147.6L1107.2 148.8L1107.7 150L1108.2 147.2L1108.7 151.7L1109.2 144.8L1109.8 145.9L1110.3 151.2L1110.8 146.7L1111.3 144L1111.8 143.8L1112.3 147.4L1112.9 146.6L1113.4 151.2L1113.9 146.4L1114.4 144.8L1114.9 145.5L1115.5 146.3L1116 146.4L1116.5 145.3L1117 148.8L1117.5 151.2L1118 149.2L1118.6 142.2L1119.1 143L1119.6 145.7L1120.1 150.7L1120.6 146L1121.2 148.3L1121.7 138.6L1122.2 143.9L1122.7 148.2L1123.2 149.1L1123.8 147.2L1124.3 148.1L1124.8 147.7L1125.3 148.4L1125.8 145.9L1126.3 143.2L1126.9 147.5L1127.4 145.7L1127.9 145.9L1128.4 151.1L1128.9 147L1129.5 146.3L1130 149.2L1130.5 147.2L1131 145.1L1131.5 147.5" fill="none" stroke="#000" stroke-width="2.3" stroke-linejoin="round"/>
<path d="M855.2 302L855.7 299.5L856.2 297.9L856.8 299.5L857.3 300.6L857.8 298.5L858.3 296.9L858.8 295.3L859.3 297.9L859.9 297.9L860.4 294.4L860.9 293.7L861.4 291.4L861.9 291.3L862.5 292.3L863 292.1L863.5 287.2L864 290.1L864.5 290.6L865.1 290.5L865.6 288.1L866.1 286.9L866.6 286.8L867.1 285.8L867.6 284.4L868.2 283L868.7 281.5L869.2 282L869.7 284.3L870.2 280.4L870.8 282.3L871.3 280.2L871.8 281.2L872.3 278.6L872.8 278.8L873.3 276.8L873.9 271.4L874.4 275L874.9 273.6L875.4 276.1L875.9 273.9L876.5 272.7L877 272.4L877.5 271.5L878 271L878.5 270.9L879 269.5L879.6 269.5L880.1 267.5L880.6 267.9L881.1 266.8L881.6 266.4L882.2 265.3L882.7 265.4L883.2 264.1L883.7 263.9L884.2 262.6L884.8 262.2L885.3 261.8L885.8 261.7L886.3 260.4L886.8 259.8L887.3 258.5L887.9 258.9L888.4 257.9L888.9 257.2L889.4 256.7L889.9 256.1L890.5 255.5L891 255.3L891.5 255L892 254.1L892.5 252.9L893 251.7L893.6 251.3L894.1 250.6L894.6 250.2L895.1 249.6L895.6 249.3L896.2 248.4L896.7 247.2L897.2 247.6L897.7 247.3L898.2 245.4L898.7 245.5L899.3 244.6L899.8 244L900.3 244.4L900.8 242.1L901.3 241.6L901.9 241.9L902.4 241.1L902.9 240.8L903.4 240.8L903.9 239.9L904.5 239L905 238L905.5 237.6L906 237.3L906.5 236.1L907 236.6L907.6 235.4L908.1 234.5L908.6 234.7L909.1 235L909.6 234.1L910.2 232.9L910.7 232.1L911.2 231L911.7 231.7L912.2 230.8L912.7 229.9L913.3 229.7L913.8 230.3L914.3 228.4L914.8 226.8L915.3 226.8L915.9 227.4L916.4 226.7L916.9 225.9L917.4 224.1L917.9 224.4L918.4 224.3L919 223.1L919.5 223.3L920 221.9L920.5 222.6L921 222.1L921.6 221L922.1 220L922.6 219.9L923.1 219.6L923.6 220.2L924.2 219.3L924.7 218.7L925.2 218.2L925.7 217.1L926.2 217L926.7 216L927.3 215.8L927.8 215.5L928.3 214.8L928.8 214.2L929.3 213.4L929.9 213.6L930.4 213.1L930.9 213.2L931.4 211.3L931.9 210.7L932.4 211L933 210.8L933.5 210.8L934 209.6L934.5 209.1L935 207.6L935.6 207.9L936.1 208.1L936.6 208.6L937.1 206.4L937.6 206.3L938.2 206.8L938.7 205.6L939.2 205.9L939.7 203L940.2 203.4L940.7 203.4L941.3 203.4L941.8 204.1L942.3 202.8L942.8 203L943.3 201.6L943.9 202.4L944.4 201.6L944.9 200.1L945.4 199.3L945.9 200.3L946.4 200.3L947 198.7L947.5 198.2L948 198.7L948.5 198.3L949 198L949.6 197.9L950.1 197.3L950.6 195.9L951.1 195.7L951.6 194.6L952.1 195.3L952.7 195.1L953.2 195.2L953.7 194.5L954.2 194.7L954.7 194.7L955.3 193.1L955.8 192.2L956.3 192.1L956.8 191.5L957.3 191.7L957.9 191.9L958.4 191.3L958.9 191.1L959.4 191.2L959.9 191.2L960.4 190.8L961 189.7L961.5 189.2L962 189.1L962.5 187.9L963 188.1L963.6 187.6L964.1 186.9L964.6 187.6L965.1 188L965.6 186.4L966.1 186.6L966.7 185.4L967.2 185.4L967.7 184.8L968.2 184.6L968.7 185.7L969.3 184.2L969.8 184.4L970.3 184.2L970.8 183.8L971.3 182.8L971.8 182.4L972.4 182L972.9 183.1L973.4 182.4L973.9 183L974.4 181.7L975 180.9L975.5 181.2L976 180.5L976.5 180.2L977 179.5L977.6 180.2L978.1 180L978.6 179.8L979.1 178.2L979.6 178.1L980.1 178.5L980.7 178.2L981.2 178L981.7 177.7L982.2 177.7L982.7 177.5L983.3 177.8L983.8 177.3L984.3 175.9L984.8 176L985.3 176.1L985.8 176.1L986.4 175.7L986.9 175.3L987.4 175.6L987.9 175L988.4 174.8L989 175L989.5 174.9L990 174.8L990.5 174.7L991 173.5L991.5 174.8L992.1 173.7L992.6 173.6L993.1 173.4L993.6 172.8L994.1 172L994.7 172.2L995.2 172.2L995.7 172.3L996.2 171.9L996.7 171.1L997.3 171.5L997.8 171.8L998.3 171.7L998.8 171.5L999.3 171.4L999.8 170L1000.4 170L1000.9 170.1L1001.4 169.1L1001.9 169.9L1002.4 169.1L1003 168.8L1003.5 169.8L1004 169.8L1004.5 169.4L1005 168.2L1005.5 167.7L1006.1 168.7L1006.6 167.6L1007.1 168L1007.6 167.9L1008.1 167.8L1008.7 167.6L1009.2 168.1L1009.7 167.7L1010.2 167.6L1010.7 166.5L1011.2 165.4L1011.8 164.7L1012.3 166.1L1012.8 166.9L1013.3 166.2L1013.8 166.2L1014.4 164.5L1014.9 164.9L1015.4 165.5L1015.9 164.5L1016.4 164.5L1017 165.6L1017.5 165L1018 164.6L1018.5 164.3L1019 164L1019.5 164.1L1020.1 163.7L1020.6 164L1021.1 164.1L1021.6 162.4L1022.1 162.8L1022.7 162.7L1023.2 163.9L1023.7 163L1024.2 162.1L1024.7 163.3L1025.2 161.7L1025.8 162.3L1026.3 161.8L1026.8 161.9L1027.3 161.6L1027.8 160.7L1028.4 161.6L1028.9 160.2L1029.4 161.6L1029.9 161.8L1030.4 160.5L1031 161.5L1031.5 161L1032 159.8L1032.5 159.3L1033 161.5L1033.5 159.9L1034.1 158.4L1034.6 158.6L1035.1 159.7L1035.6 160L1036.1 159.7L1036.7 160.3L1037.2 159.5L1037.7 159.3L1038.2 159.1L1038.7 157.8L1039.2 158.7L1039.8 159.8L1040.3 157.7L1040.8 159.1L1041.3 158.7L1041.8 158.3L1042.4 158.3L1042.9 158.8L1043.4 158.1L1043.9 155.6L1044.4 157.8L1044.9 157.6L1045.5 156.2L1046 156.3L1046.5 156.2L1047 156L1047.5 158.7L1048.1 157.9L1048.6 156.7L1049.1 156.1L1049.6 155.1L1050.1 155.7L1050.7 156.4L1051.2 156.2L1051.7 156.3L1052.2 155.8L1052.7 155.2L1053.2 156.1L1053.8 156.6L1054.3 156.7L1054.8 154.5L1055.3 153.9L1055.8 154.1L1056.4 154.2L1056.9 154.1L1057.4 155L1057.9 154.3L1058.4 156.1L1058.9 155.3L1059.5 155.7L1060 154.1L1060.5 155.3L1061 154.9L1061.5 154.1L1062.1 152.9L1062.6 155.1L1063.1 155.6L1063.6 153.6L1064.1 155.5L1064.6 153.9L1065.2 154.8L1065.7 154.4L1066.2 156.3L1066.7 153.5L1067.2 154.5L1067.8 155.2L1068.3 151.5L1068.8 152.6L1069.3 149.2L1069.8 152.6L1070.4 154L1070.9 153.6L1071.4 151.6L1071.9 153.4L1072.4 153L1072.9 152.9L1073.5 154.7L1074 153.6L1074.5 154.2L1075 155.3L1075.5 152.6L1076.1 152.5L1076.6 153.2L1077.1 154.7L1077.6 156.4L1078.1 153.2L1078.6 153.5L1079.2 155.8L1079.7 153.8L1080.2 155.6L1080.7 153.8L1081.2 153.3L1081.8 152.9L1082.3 153L1082.8 153.1L1083.3 155L1083.8 154.2L1084.3 154.3L1084.9 154L1085.4 153.2L1085.9 152.6L1086.4 151L1086.9 157L1087.5 153.5L1088 153.9L1088.5 150.3L1089 151.8L1089.5 156L1090.1 153.5L1090.6 154.5L1091.1 152.4L1091.6 155.3L1092.1 154.2L1092.6 154.1L1093.2 154.1L1093.7 154.8L1094.2 156.9L1094.7 153.6L1095.2 152.3L1095.8 153.8L1096.3 155.5L1096.8 153.8L1097.3 152.9L1097.8 154L1098.3 153.8L1098.9 151.5L1099.4 155.2L1099.9 154.8L1100.4 156.9L1100.9 155.2L1101.5 155L1102 155.3L1102.5 154.8L1103 150.5L1103.5 153.2L1104 153.4L1104.6 149.4L1105.1 152.6L1105.6 155.9L1106.1 152.7L1106.6 154.4L1107.2 150.2L1107.7 154.5L1108.2 153.9L1108.7 155.6L1109.2 152.8L1109.8 154.3L1110.3 152.8L1110.8 153L1111.3 153.4L1111.8 150.7L1112.3 150.2L1112.9 151.7L1113.4 153.6L1113.9 154.1L1114.4 151.7L1114.9 147.4L1115.5 152L1116 153.2L1116.5 153.2L1117 153.9L1117.5 153.8L1118 152.3L1118.6 148.9L1119.1 151.1L1119.6 152.4L1120.1 154.6L1120.6 151.4L1121.2 151.4L1121.7 153.6L1122.2 153.7L1122.7 151.6L1123.2 149.3L1123.8 149.6L1124.3 150.5L1124.8 151.6L1125.3 150.5L1125.8 150.9L1126.3 146.6L1126.9 152.5L1127.4 151.9L1127.9 148.5L1128.4 151L1128.9 148L1129.5 150.4L1130 150.4L1130.5 151.4L1131 153.6L1131.5 153.1" fill="none" stroke="#DF3123" stroke-width="2.3" stroke-linejoin="round"/>
<path d="M850.2 152.5H1131.7" stroke="#000" stroke-width="1.4"/>
<path d="M855.2 121.8V333.1" stroke="#000" stroke-width="1.9"/>
<path d="M854.2 332.2H1132.7" stroke="#000" stroke-width="1.9"/>
<path d="M850 152.5H855.2" stroke="#000" stroke-width="1.5"/>
<path d="M852.6 190.2H855.2" stroke="#000" stroke-width="1.5"/>
<path d="M850 227.8H855.2" stroke="#000" stroke-width="1.5"/>
<path d="M852.6 265.5H855.2" stroke="#000" stroke-width="1.5"/>
<path d="M850 303.2H855.2" stroke="#000" stroke-width="1.5"/>
<text x="822.4" y="158.8" font-size="17.4" stroke="#000" stroke-width="0.3" textLength="26.6" lengthAdjust="spacingAndGlyphs">0.0</text>
<text x="816" y="234.1" font-size="17.4" stroke="#000" stroke-width="0.3" textLength="33" lengthAdjust="spacingAndGlyphs">-0.5</text>
<text x="816" y="309.5" font-size="17.4" stroke="#000" stroke-width="0.3" textLength="33" lengthAdjust="spacingAndGlyphs">-1.0</text>
<path d="M855.2 332.2V337.4" stroke="#000" stroke-width="1.5"/>
<path d="M872.5 332.2V335" stroke="#000" stroke-width="1.5"/>
<path d="M889.8 332.2V337.4" stroke="#000" stroke-width="1.5"/>
<path d="M907 332.2V335" stroke="#000" stroke-width="1.5"/>
<path d="M924.3 332.2V337.4" stroke="#000" stroke-width="1.5"/>
<path d="M941.6 332.2V335" stroke="#000" stroke-width="1.5"/>
<path d="M958.9 332.2V337.4" stroke="#000" stroke-width="1.5"/>
<path d="M976.2 332.2V335" stroke="#000" stroke-width="1.5"/>
<path d="M993.5 332.2V337.4" stroke="#000" stroke-width="1.5"/>
<path d="M1010.7 332.2V335" stroke="#000" stroke-width="1.5"/>
<path d="M1028 332.2V337.4" stroke="#000" stroke-width="1.5"/>
<path d="M1045.3 332.2V335" stroke="#000" stroke-width="1.5"/>
<path d="M1062.6 332.2V337.4" stroke="#000" stroke-width="1.5"/>
<path d="M1079.9 332.2V335" stroke="#000" stroke-width="1.5"/>
<path d="M1097.1 332.2V337.4" stroke="#000" stroke-width="1.5"/>
<path d="M1114.4 332.2V335" stroke="#000" stroke-width="1.5"/>
<path d="M1131.7 332.2V337.4" stroke="#000" stroke-width="1.5"/>
<text x="841.7" y="355" font-size="17.4" stroke="#000" stroke-width="0.3" textLength="27.7" lengthAdjust="spacingAndGlyphs">-80</text>
<text x="876.2" y="355" font-size="17.4" stroke="#000" stroke-width="0.3" textLength="27.7" lengthAdjust="spacingAndGlyphs">-60</text>
<text x="910.8" y="355" font-size="17.4" stroke="#000" stroke-width="0.3" textLength="27.7" lengthAdjust="spacingAndGlyphs">-40</text>
<text x="945.4" y="355" font-size="17.4" stroke="#000" stroke-width="0.3" textLength="27.7" lengthAdjust="spacingAndGlyphs">-20</text>
<text x="988.4" y="355" font-size="17.4" stroke="#000" stroke-width="0.3" textLength="10.6" lengthAdjust="spacingAndGlyphs">0</text>
<text x="1017.7" y="355" font-size="17.4" stroke="#000" stroke-width="0.3" textLength="21.3" lengthAdjust="spacingAndGlyphs">20</text>
<text x="1052.2" y="355" font-size="17.4" stroke="#000" stroke-width="0.3" textLength="21.3" lengthAdjust="spacingAndGlyphs">40</text>
<text x="1086.8" y="355" font-size="17.4" stroke="#000" stroke-width="0.3" textLength="21.3" lengthAdjust="spacingAndGlyphs">60</text>
<text x="1121.4" y="355" font-size="17.4" stroke="#000" stroke-width="0.3" textLength="21.3" lengthAdjust="spacingAndGlyphs">80</text>
<text x="959.8" y="375" font-size="19" stroke="#000" stroke-width="0.3" textLength="61.4" lengthAdjust="spacingAndGlyphs">V [mV]</text>
<text transform="translate(811.3 222) scale(1 1) rotate(-90)" font-size="19.2" text-anchor="middle" stroke="#000" stroke-width="0.35">I [normalized]</text>
<text x="931.6" y="250.6" font-size="19" stroke="#000" stroke-width="0.3" textLength="68.9" lengthAdjust="spacingAndGlyphs">Orai1-S</text>
<text x="931.6" y="274" font-size="19" stroke="#DF3123" stroke-width="0.3" fill="#DF3123" textLength="88.3" lengthAdjust="spacingAndGlyphs">Orai1-S-S</text>
<path d="M861.5 691.8L862 694.1L862.5 692.7L863.1 695.4L863.6 692.7L864.1 689.8L864.6 688.7L865.1 691.9L865.7 691.2L866.2 690.2L866.7 693L867.2 686.9L867.7 686.8L868.2 686.5L868.8 685.3L869.3 686.5L869.8 685.3L870.3 683.8L870.8 683.1L871.4 684.1L871.9 684.8L872.4 681.7L872.9 681L873.4 682.4L874 679L874.5 678.6L875 678.2L875.5 678.1L876 676.8L876.5 674.9L877.1 676.5L877.6 673.7L878.1 674.5L878.6 673.8L879.1 671.7L879.7 672.7L880.2 672L880.7 672.8L881.2 671.6L881.7 670.7L882.3 670.6L882.8 670.1L883.3 668.7L883.8 667.9L884.3 668.2L884.8 667.6L885.4 666.3L885.9 665.5L886.4 665.8L886.9 665.1L887.4 663.7L888 662.6L888.5 662.4L889 662.9L889.5 661.2L890 661.1L890.6 660.7L891.1 659.8L891.6 659.8L892.1 659.2L892.6 659.6L893.1 657.2L893.7 656.8L894.2 656.6L894.7 655.9L895.2 655.3L895.7 654.9L896.3 654.5L896.8 653.8L897.3 654.2L897.8 653.4L898.3 652.2L898.9 650.8L899.4 650.5L899.9 649.9L900.4 649.3L900.9 649.3L901.4 648.5L902 648.1L902.5 647.8L903 647.2L903.5 646.4L904 646.3L904.6 645.9L905.1 645L905.6 644.5L906.1 643.9L906.6 642.9L907.2 642.8L907.7 642.4L908.2 642.2L908.7 642L909.2 640.7L909.7 640.1L910.3 639.6L910.8 639.1L911.3 639.1L911.8 638.2L912.3 637.7L912.9 637L913.4 637L913.9 635.8L914.4 635.2L914.9 635.7L915.5 634.9L916 634.3L916.5 633.5L917 632.6L917.5 633.4L918.1 631.8L918.6 631.3L919.1 631.4L919.6 631L920.1 629.9L920.6 629.7L921.2 629.4L921.7 628.8L922.2 627.2L922.7 628.4L923.2 626.3L923.8 627.2L924.3 625.7L924.8 625.8L925.3 625.1L925.8 624.9L926.4 624.4L926.9 623.1L927.4 623.5L927.9 623.8L928.4 622.6L928.9 623L929.5 621.8L930 621L930.5 620.7L931 620.2L931.5 618.6L932.1 617.8L932.6 617.5L933.1 617.2L933.6 617.3L934.1 617.5L934.7 617.1L935.2 616.8L935.7 616.3L936.2 615.7L936.7 614.7L937.2 613.8L937.8 613.8L938.3 613.3L938.8 613.5L939.3 612.6L939.8 612.7L940.4 612.1L940.9 610.7L941.4 610.8L941.9 610.8L942.4 610L943 610.2L943.5 609.5L944 609.5L944.5 608.3L945 608.3L945.5 607.9L946.1 607.3L946.6 606.9L947.1 606.5L947.6 606.3L948.1 606L948.7 605.3L949.2 604.9L949.7 604.2L950.2 603.7L950.7 603.2L951.3 603.5L951.8 603.4L952.3 602.7L952.8 602.4L953.3 601.6L953.8 601.7L954.4 601L954.9 601.5L955.4 600.4L955.9 600.5L956.4 600.4L957 600.3L957.5 599.9L958 599.3L958.5 597.9L959 597.7L959.6 597.6L960.1 597.7L960.6 597.1L961.1 597.4L961.6 597.5L962.1 596.9L962.7 596L963.2 594.4L963.7 595.9L964.2 595.5L964.7 595.2L965.3 594.9L965.8 594.6L966.3 594L966.8 593.9L967.3 593.1L967.9 593.5L968.4 592.9L968.9 592.6L969.4 592.1L969.9 591.3L970.5 591.5L971 590.9L971.5 590.8L972 590.2L972.5 589.7L973 589.7L973.6 588.9L974.1 589.4L974.6 588L975.1 588.8L975.6 588L976.2 587.5L976.7 586.8L977.2 587.2L977.7 586.7L978.2 586.5L978.8 586L979.3 585.9L979.8 585.7L980.3 585.5L980.8 584.8L981.3 584.8L981.9 584.8L982.4 585L982.9 584.6L983.4 584.6L983.9 583.3L984.5 582.8L985 583.5L985.5 582.9L986 582.1L986.5 582.4L987.1 582.4L987.6 582.6L988.1 582L988.6 581.3L989.1 580.9L989.6 580.4L990.2 580.3L990.7 579.8L991.2 579.2L991.7 579.4L992.2 579.4L992.8 580L993.3 578.9L993.8 578.6L994.3 577.8L994.8 578.8L995.4 578.3L995.9 578.9L996.4 577.7L996.9 577.1L997.4 577.6L997.9 576.8L998.5 576.9L999 576.3L999.5 576.1L1000 576.3L1000.5 576.6L1001.1 576.1L1001.6 575.2L1002.1 574.8L1002.6 575.2L1003.1 574.5L1003.7 573.6L1004.2 574.6L1004.7 574L1005.2 573.7L1005.7 574.1L1006.2 573.8L1006.8 572.4L1007.3 572.7L1007.8 572.3L1008.3 573L1008.8 572.2L1009.4 572L1009.9 571.6L1010.4 572.4L1010.9 572.7L1011.4 571.2L1012 570.5L1012.5 570.7L1013 570.3L1013.5 571.3L1014 569.9L1014.5 569.8L1015.1 570.6L1015.6 570.2L1016.1 569.1L1016.6 568.4L1017.1 568.9L1017.7 569.1L1018.2 569.6L1018.7 569.1L1019.2 569.1L1019.7 568.4L1020.3 568.2L1020.8 567.3L1021.3 568.4L1021.8 567.9L1022.3 568.1L1022.9 567.5L1023.4 566.5L1023.9 567.6L1024.4 567.1L1024.9 566.3L1025.4 567.4L1026 566.8L1026.5 565.3L1027 566.8L1027.5 565L1028 565.3L1028.6 564.8L1029.1 565.4L1029.6 565.3L1030.1 565.7L1030.6 565.2L1031.2 564.8L1031.7 566L1032.2 564.4L1032.7 563.4L1033.2 564.2L1033.7 565.5L1034.3 563.3L1034.8 564.6L1035.3 564.2L1035.8 564.1L1036.3 562.3L1036.9 564.3L1037.4 563.2L1037.9 563.9L1038.4 564.3L1038.9 563.2L1039.5 562.5L1040 562.2L1040.5 561.5L1041 562.1L1041.5 562.1L1042 562.8L1042.6 561.2L1043.1 561.5L1043.6 561.1L1044.1 560L1044.6 559.7L1045.2 559.1L1045.7 562.2L1046.2 561.8L1046.7 561.8L1047.2 561.2L1047.8 560.1L1048.3 560.4L1048.8 561.6L1049.3 559.5L1049.8 558.9L1050.3 560L1050.9 560.3L1051.4 559.2L1051.9 559.3L1052.4 561.4L1052.9 559.8L1053.5 559.1L1054 557L1054.5 559.4L1055 559L1055.5 557.7L1056.1 559.2L1056.6 559L1057.1 559.6L1057.6 558.3L1058.1 559L1058.6 560.8L1059.2 558.7L1059.7 558.5L1060.2 558.4L1060.7 559.4L1061.2 559.4L1061.8 556L1062.3 558.8L1062.8 559.4L1063.3 557.1L1063.8 556.3L1064.4 557.5L1064.9 558.8L1065.4 557.7L1065.9 558.1L1066.4 556.7L1066.9 558.5L1067.5 557.5L1068 557.3L1068.5 557.5L1069 555.4L1069.5 556.9L1070.1 558.4L1070.6 556.9L1071.1 556.8L1071.6 557.4L1072.1 556.3L1072.7 559.2L1073.2 559L1073.7 556.6L1074.2 555.8L1074.7 556.7L1075.3 555L1075.8 556.5L1076.3 554.2L1076.8 557L1077.3 559L1077.8 557.5L1078.4 556.9L1078.9 556.9L1079.4 557L1079.9 556.2L1080.4 557.6L1081 556.3L1081.5 556.4L1082 556.5L1082.5 555.4L1083 555.3L1083.6 555.4L1084.1 557.9L1084.6 556L1085.1 557L1085.6 556.5L1086.1 555.2L1086.7 554.8L1087.2 555.5L1087.7 555.9L1088.2 555.9L1088.7 555.7L1089.3 557.1L1089.8 557.8L1090.3 556.1L1090.8 555.9L1091.3 556.1L1091.9 554.3L1092.4 558.2L1092.9 556.5L1093.4 557.8L1093.9 556.2L1094.4 555.5L1095 557.1L1095.5 556.5L1096 559.4L1096.5 559.7L1097 555.8L1097.6 556.6L1098.1 556.3L1098.6 555.8L1099.1 552.8L1099.6 557.4L1100.2 555.3L1100.7 558.1L1101.2 559.2L1101.7 558.5L1102.2 557.2L1102.7 554.7L1103.3 554.1L1103.8 556.8L1104.3 556.8L1104.8 555.4L1105.3 556.6L1105.9 553.1L1106.4 557.5L1106.9 557.6L1107.4 554.8L1107.9 557.8L1108.5 556.7L1109 556L1109.5 555.6L1110 556.8L1110.5 555.7L1111 555.3L1111.6 557.8L1112.1 556L1112.6 555L1113.1 555L1113.6 557.3L1114.2 555.2L1114.7 554.9L1115.2 551.8L1115.7 555.9L1116.2 554.9L1116.8 554.3L1117.3 557.8L1117.8 556.1L1118.3 553.9L1118.8 555.5L1119.3 554.9L1119.9 554.1L1120.4 555.6L1120.9 554.5L1121.4 552.2L1121.9 557L1122.5 554.7L1123 553.4L1123.5 552.6L1124 550L1124.5 555.2L1125.1 553.9L1125.6 554.5L1126.1 554.2L1126.6 552.4L1127.1 556.4L1127.7 555.1L1128.2 554.7L1128.7 553.8L1129.2 555.7L1129.7 554.4L1130.2 557.1L1130.8 559.3L1131.3 552.7L1131.8 551.3L1132.3 552.3L1132.8 554.9L1133.4 552.8L1133.9 553.9L1134.4 554.5L1134.9 551.4L1135.4 549.2L1136 554.3L1136.5 554.1L1137 553L1137.5 555.4L1138 553.7" fill="none" stroke="#000" stroke-width="2.3" stroke-linejoin="round"/>
<path d="M861.5 688L862 686.7L862.5 689L863.1 689.1L863.6 687L864.1 684.4L864.6 685.3L865.1 687.1L865.7 686.3L866.2 684.7L866.7 682.5L867.2 682.9L867.7 682.8L868.2 682L868.8 680.7L869.3 681.1L869.8 679.5L870.3 678.3L870.8 675.6L871.4 676.8L871.9 674.9L872.4 676.6L872.9 673.7L873.4 673.5L874 673.8L874.5 672.4L875 670.3L875.5 671L876 668.7L876.5 667L877.1 666.1L877.6 665.3L878.1 668.5L878.6 666.3L879.1 666.8L879.7 664.1L880.2 664.3L880.7 663.7L881.2 662.7L881.7 663.4L882.3 662.2L882.8 661.9L883.3 660L883.8 660.4L884.3 659.7L884.8 659.9L885.4 659.3L885.9 658.4L886.4 657L886.9 656.3L887.4 655.9L888 655.8L888.5 654.1L889 654.7L889.5 654.2L890 653L890.6 653.1L891.1 652L891.6 651L892.1 650.8L892.6 650.1L893.1 649.7L893.7 649.5L894.2 650.1L894.7 648.8L895.2 647.6L895.7 647.6L896.3 646.7L896.8 645.7L897.3 644.5L897.8 645.1L898.3 644.3L898.9 643.4L899.4 642.6L899.9 642.9L900.4 641L900.9 641.4L901.4 640.1L902 640.1L902.5 639.3L903 638.1L903.5 637.9L904 637.7L904.6 637.7L905.1 637.1L905.6 636.9L906.1 634.8L906.6 635.7L907.2 635.8L907.7 633.4L908.2 632.8L908.7 633L909.2 632L909.7 632.2L910.3 631.6L910.8 630.6L911.3 630L911.8 629.9L912.3 628.5L912.9 628.2L913.4 628L913.9 628.2L914.4 627.1L914.9 626.7L915.5 626.1L916 625.2L916.5 625.3L917 624.4L917.5 623.6L918.1 623.3L918.6 621.9L919.1 623.2L919.6 622.1L920.1 622.1L920.6 621.1L921.2 619.3L921.7 620.6L922.2 619.7L922.7 618.7L923.2 618.4L923.8 617.6L924.3 618.2L924.8 616.7L925.3 617L925.8 616.7L926.4 615.5L926.9 614.9L927.4 615L927.9 614.6L928.4 613.9L928.9 613.3L929.5 612.9L930 612.9L930.5 613.1L931 611L931.5 610.9L932.1 611.2L932.6 611L933.1 610.2L933.6 609.6L934.1 609.9L934.7 607.9L935.2 607.7L935.7 607.7L936.2 607L936.7 606.6L937.2 605.8L937.8 605.8L938.3 604.9L938.8 604.3L939.3 604.8L939.8 604.6L940.4 604.4L940.9 603.7L941.4 603.5L941.9 602.8L942.4 602.2L943 601.7L943.5 602.1L944 600.8L944.5 600.9L945 600.5L945.5 600.3L946.1 600.7L946.6 599.4L947.1 599.8L947.6 598.2L948.1 598.2L948.7 597.1L949.2 597.1L949.7 596.8L950.2 596.1L950.7 596.4L951.3 595.4L951.8 595.7L952.3 595.3L952.8 595.4L953.3 594.5L953.8 594L954.4 594.2L954.9 594.3L955.4 593.5L955.9 592.9L956.4 592.8L957 592.9L957.5 592.5L958 591.9L958.5 592.7L959 591.6L959.6 590.2L960.1 591L960.6 590.4L961.1 589.1L961.6 589.1L962.1 588.7L962.7 588.9L963.2 589.3L963.7 587.1L964.2 587.7L964.7 587.6L965.3 586.7L965.8 586.7L966.3 586.8L966.8 587.1L967.3 586.4L967.9 586.1L968.4 586.1L968.9 585.9L969.4 585.7L969.9 585L970.5 584.9L971 584.2L971.5 583.6L972 583.6L972.5 583.5L973 582.5L973.6 582.6L974.1 583.4L974.6 582.9L975.1 582.2L975.6 582.4L976.2 581.5L976.7 582.3L977.2 582.3L977.7 580.7L978.2 580.4L978.8 581.2L979.3 580.3L979.8 579.4L980.3 580.2L980.8 580.2L981.3 580L981.9 579.7L982.4 579.8L982.9 579L983.4 579.1L983.9 578.3L984.5 576.9L985 578.1L985.5 577.1L986 576.7L986.5 578.1L987.1 577L987.6 576.7L988.1 576.6L988.6 575.9L989.1 576.2L989.6 575.7L990.2 575.8L990.7 575.5L991.2 575.6L991.7 574L992.2 574.7L992.8 575.1L993.3 573.6L993.8 573.4L994.3 574L994.8 574.1L995.4 574L995.9 572.9L996.4 573.4L996.9 573.4L997.4 572.6L997.9 572.8L998.5 572.6L999 571.5L999.5 571.6L1000 571.3L1000.5 571.5L1001.1 571L1001.6 571.5L1002.1 570.9L1002.6 570.6L1003.1 571.1L1003.7 571.4L1004.2 570.5L1004.7 570.5L1005.2 570.1L1005.7 570.4L1006.2 569.8L1006.8 569.4L1007.3 568.5L1007.8 568.5L1008.3 569.1L1008.8 568.5L1009.4 569.3L1009.9 568.4L1010.4 568.7L1010.9 568L1011.4 568.3L1012 568.4L1012.5 568.6L1013 567.5L1013.5 567.8L1014 567.4L1014.5 567.4L1015.1 568.4L1015.6 567.2L1016.1 567.3L1016.6 566.9L1017.1 566.6L1017.7 567.6L1018.2 566.9L1018.7 566.5L1019.2 566.1L1019.7 565.6L1020.3 566.2L1020.8 566L1021.3 565.4L1021.8 566.4L1022.3 564.5L1022.9 565.6L1023.4 564.4L1023.9 564.7L1024.4 563.7L1024.9 563.8L1025.4 564.3L1026 565.3L1026.5 564.2L1027 563.8L1027.5 563.5L1028 564.4L1028.6 564.2L1029.1 564L1029.6 563.2L1030.1 563.6L1030.6 563.1L1031.2 562.3L1031.7 562.9L1032.2 561.7L1032.7 562.1L1033.2 562.4L1033.7 561.5L1034.3 561.6L1034.8 562L1035.3 562.2L1035.8 561.8L1036.3 561.3L1036.9 560.6L1037.4 561L1037.9 561.6L1038.4 562.1L1038.9 560.9L1039.5 560.5L1040 559.8L1040.5 560.9L1041 561.5L1041.5 559.9L1042 560.3L1042.6 561.1L1043.1 558.9L1043.6 559.1L1044.1 559.7L1044.6 559.5L1045.2 560.2L1045.7 558.8L1046.2 559.7L1046.7 559.8L1047.2 559.6L1047.8 560.2L1048.3 558.4L1048.8 557.5L1049.3 558L1049.8 560.4L1050.3 559.2L1050.9 559.3L1051.4 558.3L1051.9 560.3L1052.4 560.6L1052.9 559L1053.5 557.5L1054 558.2L1054.5 556.1L1055 558.5L1055.5 558L1056.1 558L1056.6 558.6L1057.1 556.8L1057.6 558.8L1058.1 558.8L1058.6 558.1L1059.2 558L1059.7 556.4L1060.2 557.7L1060.7 556.9L1061.2 557.7L1061.8 556L1062.3 557L1062.8 556.8L1063.3 558.6L1063.8 556.5L1064.4 557.5L1064.9 556L1065.4 556.2L1065.9 556.1L1066.4 555.4L1066.9 556L1067.5 557.4L1068 556.5L1068.5 556.3L1069 557.6L1069.5 555.9L1070.1 554.6L1070.6 555.7L1071.1 555.9L1071.6 555.5L1072.1 554.7L1072.7 556.3L1073.2 554.8L1073.7 556.5L1074.2 555.2L1074.7 555L1075.3 556.9L1075.8 554.9L1076.3 555.1L1076.8 557.3L1077.3 556.1L1077.8 556.1L1078.4 556.3L1078.9 554.8L1079.4 555.9L1079.9 555L1080.4 556.2L1081 555.3L1081.5 552.6L1082 553.9L1082.5 556.4L1083 556L1083.6 554.9L1084.1 556.6L1084.6 553.5L1085.1 554.3L1085.6 554.4L1086.1 554.3L1086.7 555.1L1087.2 555.8L1087.7 558.5L1088.2 556.9L1088.7 554.3L1089.3 553.3L1089.8 554.2L1090.3 556.6L1090.8 554.9L1091.3 554.2L1091.9 555.8L1092.4 552.5L1092.9 555.4L1093.4 554.3L1093.9 555.6L1094.4 553L1095 555.7L1095.5 555.6L1096 552.7L1096.5 555.6L1097 555.1L1097.6 553.4L1098.1 553.5L1098.6 556.5L1099.1 553.5L1099.6 554.4L1100.2 552.3L1100.7 556.3L1101.2 553.2L1101.7 553.3L1102.2 554.4L1102.7 554.6L1103.3 553.4L1103.8 554.8L1104.3 554.5L1104.8 555.1L1105.3 553.7L1105.9 552.7L1106.4 555.9L1106.9 553.9L1107.4 553.2L1107.9 551.2L1108.5 554.3L1109 551.6L1109.5 553.8L1110 552.6L1110.5 552.8L1111 552.7L1111.6 553.6L1112.1 554.7L1112.6 550.9L1113.1 550.3L1113.6 552.7L1114.2 553.1L1114.7 553.2L1115.2 555L1115.7 554.8L1116.2 552.3L1116.8 551L1117.3 552.7L1117.8 554L1118.3 554.5L1118.8 553.7L1119.3 551.4L1119.9 552.1L1120.4 554.6L1120.9 554.5L1121.4 552L1121.9 551.6L1122.5 549L1123 549.1L1123.5 551.3L1124 553L1124.5 551.8L1125.1 553.8L1125.6 553.4L1126.1 550.3L1126.6 550.5L1127.1 549.9L1127.7 548.7L1128.2 552L1128.7 550.3L1129.2 551.3L1129.7 551L1130.2 551.1L1130.8 550.5L1131.3 553.9L1131.8 554.3L1132.3 551.7L1132.8 550.6L1133.4 552.2L1133.9 551.7L1134.4 554L1134.9 550L1135.4 550.3L1136 548.4L1136.5 551.6L1137 551.5L1137.5 551.2L1138 548.6" fill="none" stroke="#DF3123" stroke-width="2.3" stroke-linejoin="round"/>
<path d="M856.5 556.4H1138.2" stroke="#000" stroke-width="1.4"/>
<path d="M861.5 514.4V725.7" stroke="#000" stroke-width="1.9"/>
<path d="M860.5 724.7H1139.2" stroke="#000" stroke-width="1.9"/>
<path d="M858.9 521.4H861.5" stroke="#000" stroke-width="1.5"/>
<path d="M856.3 556.4H861.5" stroke="#000" stroke-width="1.5"/>
<path d="M858.9 591.4H861.5" stroke="#000" stroke-width="1.5"/>
<path d="M856.3 626.3H861.5" stroke="#000" stroke-width="1.5"/>
<path d="M858.9 661.3H861.5" stroke="#000" stroke-width="1.5"/>
<path d="M856.3 696.3H861.5" stroke="#000" stroke-width="1.5"/>
<text x="828.5" y="562.5" font-size="17" stroke="#000" stroke-width="0.3" textLength="25.5" lengthAdjust="spacingAndGlyphs">0,0</text>
<text x="822.4" y="632.5" font-size="17" stroke="#000" stroke-width="0.3" textLength="31.6" lengthAdjust="spacingAndGlyphs">-0,5</text>
<text x="822.4" y="702.4" font-size="17" stroke="#000" stroke-width="0.3" textLength="31.6" lengthAdjust="spacingAndGlyphs">-1,0</text>
<path d="M861.5 724.7V729.9" stroke="#000" stroke-width="1.5"/>
<path d="M878.8 724.7V727.5" stroke="#000" stroke-width="1.5"/>
<path d="M896.1 724.7V729.9" stroke="#000" stroke-width="1.5"/>
<path d="M913.4 724.7V727.5" stroke="#000" stroke-width="1.5"/>
<path d="M930.7 724.7V729.9" stroke="#000" stroke-width="1.5"/>
<path d="M948 724.7V727.5" stroke="#000" stroke-width="1.5"/>
<path d="M965.3 724.7V729.9" stroke="#000" stroke-width="1.5"/>
<path d="M982.6 724.7V727.5" stroke="#000" stroke-width="1.5"/>
<path d="M999.9 724.7V729.9" stroke="#000" stroke-width="1.5"/>
<path d="M1017.1 724.7V727.5" stroke="#000" stroke-width="1.5"/>
<path d="M1034.4 724.7V729.9" stroke="#000" stroke-width="1.5"/>
<path d="M1051.7 724.7V727.5" stroke="#000" stroke-width="1.5"/>
<path d="M1069 724.7V729.9" stroke="#000" stroke-width="1.5"/>
<path d="M1086.3 724.7V727.5" stroke="#000" stroke-width="1.5"/>
<path d="M1103.6 724.7V729.9" stroke="#000" stroke-width="1.5"/>
<path d="M1120.9 724.7V727.5" stroke="#000" stroke-width="1.5"/>
<path d="M1138.2 724.7V729.9" stroke="#000" stroke-width="1.5"/>
<text x="848.5" y="746.3" font-size="17" stroke="#000" stroke-width="0.3" textLength="26.5" lengthAdjust="spacingAndGlyphs">-80</text>
<text x="883.1" y="746.3" font-size="17" stroke="#000" stroke-width="0.3" textLength="26.5" lengthAdjust="spacingAndGlyphs">-60</text>
<text x="917.7" y="746.3" font-size="17" stroke="#000" stroke-width="0.3" textLength="26.5" lengthAdjust="spacingAndGlyphs">-40</text>
<text x="952.3" y="746.3" font-size="17" stroke="#000" stroke-width="0.3" textLength="26.5" lengthAdjust="spacingAndGlyphs">-20</text>
<text x="995" y="746.3" font-size="17" stroke="#000" stroke-width="0.3" textLength="10.2" lengthAdjust="spacingAndGlyphs">0</text>
<text x="1024.5" y="746.3" font-size="17" stroke="#000" stroke-width="0.3" textLength="20.4" lengthAdjust="spacingAndGlyphs">20</text>
<text x="1059.1" y="746.3" font-size="17" stroke="#000" stroke-width="0.3" textLength="20.4" lengthAdjust="spacingAndGlyphs">40</text>
<text x="1093.7" y="746.3" font-size="17" stroke="#000" stroke-width="0.3" textLength="20.4" lengthAdjust="spacingAndGlyphs">60</text>
<text x="1128.3" y="746.3" font-size="17" stroke="#000" stroke-width="0.3" textLength="20.4" lengthAdjust="spacingAndGlyphs">80</text>
<text x="965.9" y="766" font-size="18.5" stroke="#000" stroke-width="0.3" textLength="62.1" lengthAdjust="spacingAndGlyphs">V [mV]</text>
<text transform="translate(816.5 611.3) scale(0.94 1) rotate(-90)" font-size="20" text-anchor="middle" stroke="#000" stroke-width="0.35">I [normalized]</text>
<text x="865.3" y="534.5" font-size="18.3" stroke="#000" stroke-width="0.3" textLength="160.6" lengthAdjust="spacingAndGlyphs">STIM1:Orai1 ratio</text>
<text x="992" y="601" font-size="18.5" stroke="#000" stroke-width="0.3" textLength="28.3" lengthAdjust="spacingAndGlyphs">2:1</text>
<text x="1069" y="578.5" font-size="18.5" stroke="#DF3123" stroke-width="0.3" fill="#DF3123" textLength="28.3" lengthAdjust="spacingAndGlyphs">1:2</text>
<path d="M852 1123.7L852.5 1122.5L853 1119.2L853.6 1120.2L854.1 1120L854.6 1118.5L855.1 1120.9L855.6 1117.3L856.2 1115.8L856.7 1116.9L857.2 1111.1L857.7 1114.9L858.2 1114.5L858.7 1113.1L859.3 1111.1L859.8 1109.1L860.3 1113.7L860.8 1112.8L861.3 1107.3L861.9 1108.5L862.4 1108.1L862.9 1106.8L863.4 1102.7L863.9 1103.8L864.5 1104.9L865 1105.5L865.5 1104.6L866 1102.4L866.5 1102.6L867 1102.3L867.6 1097.4L868.1 1096.2L868.6 1097.7L869.1 1093.3L869.6 1094L870.2 1095.2L870.7 1092.9L871.2 1092.3L871.7 1093.4L872.2 1089.2L872.8 1091.6L873.3 1089.8L873.8 1089.6L874.3 1088.1L874.8 1087.6L875.3 1086.5L875.9 1087.6L876.4 1086.2L876.9 1084.6L877.4 1084.6L877.9 1082.6L878.5 1082.4L879 1081.7L879.5 1081.9L880 1082.4L880.5 1080.5L881.1 1079.7L881.6 1078.6L882.1 1078.6L882.6 1078.5L883.1 1077.6L883.6 1077.4L884.2 1076.5L884.7 1075.2L885.2 1074.4L885.7 1073.4L886.2 1073.5L886.8 1072.1L887.3 1071.8L887.8 1072L888.3 1071.3L888.8 1070.1L889.4 1069.7L889.9 1069.2L890.4 1067.9L890.9 1068.2L891.4 1067.1L891.9 1066.8L892.5 1066.6L893 1065.3L893.5 1063.8L894 1063.9L894.5 1063.6L895.1 1061.9L895.6 1061.5L896.1 1061L896.6 1060.1L897.1 1060L897.7 1059.7L898.2 1058.6L898.7 1058.3L899.2 1058.7L899.7 1056.9L900.2 1056.7L900.8 1055.2L901.3 1055.6L901.8 1056.3L902.3 1054.8L902.8 1054.3L903.4 1052.6L903.9 1052.2L904.4 1051.6L904.9 1052.1L905.4 1051.4L906 1050.1L906.5 1051L907 1049.8L907.5 1048.8L908 1049.3L908.6 1048.6L909.1 1049.5L909.6 1047.1L910.1 1047.8L910.6 1046.1L911.1 1046.1L911.7 1046.7L912.2 1046.4L912.7 1045.8L913.2 1044.9L913.7 1043.5L914.3 1043.7L914.8 1043L915.3 1043.6L915.8 1042.3L916.3 1042.1L916.9 1041.5L917.4 1040.9L917.9 1039.8L918.4 1039.6L918.9 1039.3L919.4 1039.1L920 1039L920.5 1038.1L921 1037.6L921.5 1037.5L922 1037L922.6 1036.8L923.1 1036.9L923.6 1035.8L924.1 1036.3L924.6 1035.1L925.2 1035.2L925.7 1034.4L926.2 1033L926.7 1032.9L927.2 1032.4L927.7 1032.6L928.3 1032.8L928.8 1031.3L929.3 1030.7L929.8 1031L930.3 1030.7L930.9 1030.2L931.4 1029.9L931.9 1028.9L932.4 1028.3L932.9 1028.6L933.5 1027.2L934 1027.9L934.5 1027.1L935 1026.4L935.5 1027.4L936 1026.2L936.6 1026.1L937.1 1025.5L937.6 1024.8L938.1 1024.6L938.6 1024.9L939.2 1022.9L939.7 1022.7L940.2 1022.9L940.7 1022.7L941.2 1021.9L941.8 1022.4L942.3 1021.3L942.8 1021.9L943.3 1020.7L943.8 1020.2L944.3 1020.3L944.9 1020.1L945.4 1019.6L945.9 1019.8L946.4 1019.6L946.9 1018.8L947.5 1018.2L948 1018.6L948.5 1017.9L949 1017.3L949.5 1017L950.1 1017L950.6 1016.4L951.1 1016.1L951.6 1015.1L952.1 1014.8L952.6 1015.1L953.2 1014L953.7 1014.5L954.2 1014.6L954.7 1014.4L955.2 1013.7L955.8 1012.2L956.3 1012.4L956.8 1013.7L957.3 1012.7L957.8 1012.6L958.4 1012.4L958.9 1010.9L959.4 1010.5L959.9 1011.2L960.4 1010.4L961 1010L961.5 1009.7L962 1008.9L962.5 1008.9L963 1009.3L963.5 1008.7L964.1 1009.6L964.6 1008.9L965.1 1007.9L965.6 1007.8L966.1 1008.1L966.7 1007.9L967.2 1007.6L967.7 1006.7L968.2 1007L968.7 1006.1L969.3 1006.2L969.8 1005.5L970.3 1005.8L970.8 1006.3L971.3 1004.5L971.8 1004.7L972.4 1004.4L972.9 1003.7L973.4 1003L973.9 1003.5L974.4 1003L975 1002.6L975.5 1002.3L976 1003.3L976.5 1003.3L977 1003.1L977.6 1003L978.1 1002.7L978.6 1002.1L979.1 1001.8L979.6 1000.1L980.1 1000.3L980.7 1000.2L981.2 1000L981.7 999.5L982.2 1000.8L982.7 1000.1L983.3 1000L983.8 998.9L984.3 999.1L984.8 998.8L985.3 998.7L985.9 998.8L986.4 997.5L986.9 997.8L987.4 999L987.9 997.3L988.4 998.5L989 996.9L989.5 995.5L990 997.4L990.5 996.3L991 996.6L991.6 997L992.1 995.8L992.6 996.6L993.1 996.4L993.6 996.5L994.2 995.9L994.7 996L995.2 995.9L995.7 994.5L996.2 994.5L996.7 995.3L997.3 995L997.8 994.7L998.3 994.8L998.8 994.2L999.3 994.2L999.9 993.4L1000.4 994.2L1000.9 993.6L1001.4 993.5L1001.9 993.5L1002.5 992.3L1003 992.6L1003.5 994.3L1004 992.6L1004.5 993L1005 992.9L1005.6 992.5L1006.1 992.1L1006.6 992.2L1007.1 992.2L1007.6 991.3L1008.2 991L1008.7 990.6L1009.2 990.9L1009.7 991.4L1010.2 990.3L1010.8 990.4L1011.3 990.5L1011.8 990.2L1012.3 989.9L1012.8 990.6L1013.4 989.8L1013.9 989.1L1014.4 989.3L1014.9 989.3L1015.4 988.8L1015.9 989.2L1016.5 988.8L1017 988.4L1017.5 988.1L1018 988.6L1018.5 987.6L1019.1 988.7L1019.6 987.2L1020.1 988L1020.6 987L1021.1 986.1L1021.7 985.8L1022.2 986.8L1022.7 987.4L1023.2 986.8L1023.7 988L1024.2 985.8L1024.8 987.9L1025.3 986.3L1025.8 987.7L1026.3 987.3L1026.8 986.1L1027.4 987.1L1027.9 986.5L1028.4 987.8L1028.9 984.7L1029.4 986.3L1030 985.5L1030.5 985.2L1031 986.2L1031.5 986L1032 984.7L1032.5 984.9L1033.1 985.4L1033.6 984.7L1034.1 985.4L1034.6 984.3L1035.1 984L1035.7 985.3L1036.2 983.4L1036.7 983.9L1037.2 984.1L1037.7 982.9L1038.3 984.3L1038.8 982.8L1039.3 983L1039.8 982.4L1040.3 981L1040.8 983.4L1041.4 982.9L1041.9 982.2L1042.4 982.6L1042.9 982.3L1043.4 981.7L1044 984.2L1044.5 983.3L1045 983.7L1045.5 982.3L1046 983.7L1046.6 982.4L1047.1 981.8L1047.6 981.9L1048.1 980.6L1048.6 981L1049.1 982L1049.7 982.5L1050.2 981.5L1050.7 979.1L1051.2 981.5L1051.7 981.9L1052.3 984.3L1052.8 981L1053.3 981.7L1053.8 982.7L1054.3 980.8L1054.9 983L1055.4 979.4L1055.9 981.7L1056.4 980.1L1056.9 980.3L1057.4 981.3L1058 983.6L1058.5 981L1059 983.3L1059.5 981.1L1060 979.6L1060.6 980.2L1061.1 977.7L1061.6 979L1062.1 980.6L1062.6 981.3L1063.2 979.9L1063.7 980.2L1064.2 980.2L1064.7 977.7L1065.2 978.2L1065.8 980.4L1066.3 981.5L1066.8 980L1067.3 980.4L1067.8 979.9L1068.3 980.5L1068.9 980.4L1069.4 979.9L1069.9 982.1L1070.4 979.6L1070.9 978.7L1071.5 981.4L1072 978.5L1072.5 979.4L1073 977.8L1073.5 980.5L1074.1 977L1074.6 976.4L1075.1 975.4L1075.6 978.9L1076.1 980.3L1076.6 980.7L1077.2 980.7L1077.7 982.1L1078.2 978.1L1078.7 982.6L1079.2 981.9L1079.8 982.5L1080.3 979.5L1080.8 978.4L1081.3 981.3L1081.8 981.4L1082.4 979L1082.9 980.6L1083.4 977.2L1083.9 979.7L1084.4 976.5L1084.9 976.3L1085.5 980.1L1086 979.9L1086.5 979L1087 979.7L1087.5 980.1L1088.1 978L1088.6 974.4L1089.1 979.6L1089.6 981.4L1090.1 978.8L1090.7 979.6L1091.2 977.6L1091.7 979.5L1092.2 979.5L1092.7 976L1093.2 979.3L1093.8 976.7L1094.3 980.9L1094.8 978.4L1095.3 978.3L1095.8 979.2L1096.4 977L1096.9 975.7L1097.4 976L1097.9 980L1098.4 980.7L1099 978.8L1099.5 974.1L1100 980.9L1100.5 978.4L1101 974.4L1101.5 977.7L1102.1 977.2L1102.6 978.6L1103.1 979.6L1103.6 979.8L1104.1 974.9L1104.7 977.1L1105.2 979.8L1105.7 980.2L1106.2 980.6L1106.7 973.6L1107.3 976.5L1107.8 976.9L1108.3 979.9L1108.8 976.5L1109.3 976.2L1109.8 972L1110.4 971.1L1110.9 975.3L1111.4 978.2L1111.9 978.6L1112.4 979.3L1113 978.9L1113.5 974.6L1114 975.9L1114.5 974.8L1115 978.3L1115.6 976L1116.1 975.3L1116.6 978.8L1117.1 977.2L1117.6 976.8L1118.2 972.8L1118.7 976.1L1119.2 975.8L1119.7 977.5L1120.2 974.4L1120.7 976L1121.3 974.5L1121.8 975.8L1122.3 974.7L1122.8 972.4L1123.3 977L1123.9 974.3L1124.4 977.3L1124.9 974.1L1125.4 979.9L1125.9 976.8L1126.5 976.4L1127 976.7L1127.5 976.1L1128 975.1L1128.5 974.5" fill="none" stroke="#DF3123" stroke-width="2.3" stroke-linejoin="round"/>
<path d="M852 1120.5L852.5 1120.6L853 1121.6L853.6 1119.1L854.1 1119.1L854.6 1118.7L855.1 1118.4L855.6 1116.4L856.2 1116.4L856.7 1115.6L857.2 1116.7L857.7 1116.6L858.2 1116.8L858.7 1115.4L859.3 1117.5L859.8 1112.3L860.3 1112.7L860.8 1112.3L861.3 1110.7L861.9 1111.4L862.4 1110.2L862.9 1108.8L863.4 1110.8L863.9 1106.7L864.5 1107.3L865 1106.3L865.5 1107.5L866 1106.7L866.5 1103.3L867 1104.8L867.6 1104.4L868.1 1102.7L868.6 1100.8L869.1 1104.6L869.6 1100.1L870.2 1100.3L870.7 1099.1L871.2 1100.6L871.7 1098.8L872.2 1096.5L872.8 1097.8L873.3 1097.5L873.8 1096.8L874.3 1096.2L874.8 1095.1L875.3 1094.6L875.9 1094.3L876.4 1093.2L876.9 1093.3L877.4 1093L877.9 1090.8L878.5 1091.2L879 1089.8L879.5 1089.8L880 1089.3L880.5 1088.4L881.1 1088.4L881.6 1087.8L882.1 1087L882.6 1086.4L883.1 1085.4L883.6 1084.2L884.2 1084.8L884.7 1084.3L885.2 1083.1L885.7 1082.5L886.2 1081.7L886.8 1081.8L887.3 1080.8L887.8 1080.5L888.3 1080.6L888.8 1079.3L889.4 1079.5L889.9 1078.2L890.4 1077.9L890.9 1077.3L891.4 1075.8L891.9 1075.4L892.5 1075.3L893 1074.9L893.5 1074.9L894 1073.6L894.5 1073.2L895.1 1073.3L895.6 1073.2L896.1 1072.1L896.6 1071.5L897.1 1070.6L897.7 1070.8L898.2 1070.3L898.7 1069.3L899.2 1068.8L899.7 1068L900.2 1067.3L900.8 1067.6L901.3 1067.9L901.8 1066.5L902.3 1066.1L902.8 1065.3L903.4 1065.9L903.9 1064.5L904.4 1063.8L904.9 1063.5L905.4 1062.6L906 1062.2L906.5 1061.6L907 1060.7L907.5 1060.1L908 1059.6L908.6 1059.4L909.1 1059.1L909.6 1058.4L910.1 1058L910.6 1057.9L911.1 1057L911.7 1056.2L912.2 1056.2L912.7 1056L913.2 1054.9L913.7 1054.9L914.3 1054.7L914.8 1053.8L915.3 1053.7L915.8 1052.5L916.3 1052.3L916.9 1051.6L917.4 1050.6L917.9 1050.1L918.4 1050.1L918.9 1050.6L919.4 1049.5L920 1049.2L920.5 1048L921 1047.1L921.5 1046.9L922 1046.5L922.6 1046.1L923.1 1045.6L923.6 1045.6L924.1 1044.7L924.6 1044.7L925.2 1044.6L925.7 1043.8L926.2 1042.6L926.7 1042.8L927.2 1043.1L927.7 1041.6L928.3 1041.4L928.8 1040.9L929.3 1040.8L929.8 1040.1L930.3 1039.1L930.9 1039.6L931.4 1038.7L931.9 1038.4L932.4 1038.5L932.9 1037.7L933.5 1037.1L934 1037.2L934.5 1036.1L935 1036.5L935.5 1035.3L936 1035L936.6 1034.8L937.1 1034.8L937.6 1034.5L938.1 1034.7L938.6 1033.5L939.2 1033L939.7 1032.4L940.2 1031.8L940.7 1031.7L941.2 1031.6L941.8 1030.7L942.3 1030.7L942.8 1030.3L943.3 1030.4L943.8 1029.2L944.3 1029.5L944.9 1028.1L945.4 1028.8L945.9 1028.4L946.4 1027.8L946.9 1027.7L947.5 1027.7L948 1027.3L948.5 1026.8L949 1026.2L949.5 1025.4L950.1 1025.1L950.6 1024.9L951.1 1024.4L951.6 1025.2L952.1 1024.4L952.6 1024L953.2 1023.8L953.7 1022.9L954.2 1023L954.7 1022.9L955.2 1021.8L955.8 1021.9L956.3 1021.5L956.8 1021.7L957.3 1020.5L957.8 1020.4L958.4 1019.5L958.9 1018.8L959.4 1019.1L959.9 1019.3L960.4 1019.2L961 1017.9L961.5 1018.2L962 1017.7L962.5 1017.5L963 1018.7L963.5 1017.2L964.1 1016.7L964.6 1016.4L965.1 1016.2L965.6 1015.8L966.1 1016L966.7 1015.1L967.2 1015.2L967.7 1014.6L968.2 1013.7L968.7 1013.9L969.3 1014.2L969.8 1013.5L970.3 1013.8L970.8 1013L971.3 1012.1L971.8 1012.8L972.4 1012.3L972.9 1012.2L973.4 1011.6L973.9 1011.2L974.4 1011L975 1010.9L975.5 1011.3L976 1010.7L976.5 1010.3L977 1009.5L977.6 1010.2L978.1 1008.9L978.6 1009.2L979.1 1009.4L979.6 1008L980.1 1008L980.7 1008.3L981.2 1007.7L981.7 1007.2L982.2 1007.8L982.7 1006.5L983.3 1007L983.8 1006.2L984.3 1006.4L984.8 1006.7L985.3 1006.1L985.9 1005.8L986.4 1005.3L986.9 1005.7L987.4 1005.3L987.9 1004.5L988.4 1004.5L989 1004.4L989.5 1003.8L990 1004.2L990.5 1002.7L991 1003.4L991.6 1002.9L992.1 1002.8L992.6 1002.2L993.1 1002.5L993.6 1002.5L994.2 1001.9L994.7 1001.4L995.2 1001.5L995.7 1000.5L996.2 1000.6L996.7 1000.2L997.3 1000L997.8 999.9L998.3 1000.2L998.8 999.4L999.3 999.9L999.9 999.6L1000.4 998.8L1000.9 998.7L1001.4 999.4L1001.9 999L1002.5 999L1003 998L1003.5 998.3L1004 998L1004.5 998.1L1005 997.9L1005.6 997.2L1006.1 997.7L1006.6 997.1L1007.1 997.1L1007.6 996.9L1008.2 997.1L1008.7 996L1009.2 996.8L1009.7 996.6L1010.2 996.1L1010.8 995.7L1011.3 995.8L1011.8 996.1L1012.3 995.5L1012.8 995.5L1013.4 995.2L1013.9 994L1014.4 995.4L1014.9 994.5L1015.4 994.1L1015.9 994.2L1016.5 994.1L1017 993.3L1017.5 993.6L1018 994.3L1018.5 993.6L1019.1 993L1019.6 993.2L1020.1 993.2L1020.6 992.7L1021.1 992.8L1021.7 992.4L1022.2 991.9L1022.7 992.4L1023.2 992.9L1023.7 991.2L1024.2 991.4L1024.8 991.9L1025.3 992.3L1025.8 991.4L1026.3 991L1026.8 990.7L1027.4 990.6L1027.9 990.9L1028.4 990.9L1028.9 991.4L1029.4 990.9L1030 990.6L1030.5 989.5L1031 990.7L1031.5 988.7L1032 989L1032.5 989.8L1033.1 989.8L1033.6 989.2L1034.1 988.9L1034.6 988.6L1035.1 990L1035.7 989.2L1036.2 988.4L1036.7 987.9L1037.2 988.1L1037.7 988.4L1038.3 988L1038.8 988.5L1039.3 986.9L1039.8 987.1L1040.3 987.4L1040.8 988.1L1041.4 987.7L1041.9 987.3L1042.4 987.3L1042.9 986.1L1043.4 985.5L1044 986.1L1044.5 987.7L1045 986.5L1045.5 987.2L1046 986.8L1046.6 985.2L1047.1 987.7L1047.6 987.7L1048.1 987.1L1048.6 985.8L1049.1 986.5L1049.7 987.8L1050.2 986L1050.7 985.5L1051.2 984.9L1051.7 985.6L1052.3 984.8L1052.8 986.1L1053.3 985L1053.8 984.5L1054.3 985.6L1054.9 985.8L1055.4 984.4L1055.9 985.8L1056.4 986.1L1056.9 985.3L1057.4 984.7L1058 984.2L1058.5 985.3L1059 984.5L1059.5 985.6L1060 986L1060.6 982.8L1061.1 985.1L1061.6 986.1L1062.1 984.6L1062.6 985.3L1063.2 984L1063.7 986.8L1064.2 985.9L1064.7 983.7L1065.2 984L1065.8 985.2L1066.3 983L1066.8 983.1L1067.3 984.4L1067.8 983.1L1068.3 983.4L1068.9 985.3L1069.4 985.1L1069.9 984.1L1070.4 985.2L1070.9 985.8L1071.5 984.8L1072 983.4L1072.5 983.8L1073 985L1073.5 986.6L1074.1 983.6L1074.6 984.1L1075.1 983.1L1075.6 983.9L1076.1 984.4L1076.6 983.7L1077.2 984.6L1077.7 984.5L1078.2 984.9L1078.7 986.3L1079.2 983L1079.8 982.5L1080.3 984.2L1080.8 984.3L1081.3 981.3L1081.8 982.8L1082.4 984.1L1082.9 985.2L1083.4 982L1083.9 982L1084.4 984.4L1084.9 983L1085.5 984.7L1086 984.2L1086.5 982.5L1087 983.8L1087.5 984.5L1088.1 985.5L1088.6 983.3L1089.1 983.9L1089.6 985.2L1090.1 981.5L1090.7 984.2L1091.2 984.4L1091.7 983.3L1092.2 983.9L1092.7 983.6L1093.2 983.1L1093.8 984.1L1094.3 984.8L1094.8 984.1L1095.3 982.3L1095.8 983.3L1096.4 981.5L1096.9 983L1097.4 984.5L1097.9 983.2L1098.4 983.6L1099 984L1099.5 983.6L1100 982.1L1100.5 981.9L1101 982.5L1101.5 982.7L1102.1 982.2L1102.6 981.9L1103.1 982.3L1103.6 983.8L1104.1 981.4L1104.7 981.1L1105.2 980.8L1105.7 986.4L1106.2 982.5L1106.7 982.4L1107.3 986.3L1107.8 981.5L1108.3 985.1L1108.8 983.6L1109.3 982.4L1109.8 981L1110.4 982.6L1110.9 983.3L1111.4 985.1L1111.9 983.1L1112.4 981.6L1113 984.2L1113.5 980.4L1114 986L1114.5 983.6L1115 983.1L1115.6 982.2L1116.1 981.7L1116.6 980.5L1117.1 982.8L1117.6 984.5L1118.2 984.2L1118.7 982.9L1119.2 983.5L1119.7 982.7L1120.2 982.4L1120.7 982L1121.3 980.6L1121.8 981.1L1122.3 983.8L1122.8 983.3L1123.3 983L1123.9 982.9L1124.4 980.8L1124.9 980.3L1125.4 981.1L1125.9 979.4L1126.5 982.9L1127 981.9L1127.5 980L1128 981.5L1128.5 982.7" fill="none" stroke="#000" stroke-width="2.5" stroke-linejoin="round"/>
<path d="M847 983.8H1128.7" stroke="#000" stroke-width="1.4"/>
<path d="M852 941.5V1152.2" stroke="#000" stroke-width="1.9"/>
<path d="M851 1151.3H1129.7" stroke="#000" stroke-width="1.9"/>
<path d="M849.4 948.8H852" stroke="#000" stroke-width="1.5"/>
<path d="M846.8 983.8H852" stroke="#000" stroke-width="1.5"/>
<path d="M849.4 1018.8H852" stroke="#000" stroke-width="1.5"/>
<path d="M846.8 1053.8H852" stroke="#000" stroke-width="1.5"/>
<path d="M849.4 1088.8H852" stroke="#000" stroke-width="1.5"/>
<path d="M846.8 1123.8H852" stroke="#000" stroke-width="1.5"/>
<text x="819" y="989.9" font-size="17" stroke="#000" stroke-width="0.3" textLength="25.5" lengthAdjust="spacingAndGlyphs">0,0</text>
<text x="812.9" y="1059.9" font-size="17" stroke="#000" stroke-width="0.3" textLength="31.6" lengthAdjust="spacingAndGlyphs">-0,5</text>
<text x="812.9" y="1129.9" font-size="17" stroke="#000" stroke-width="0.3" textLength="31.6" lengthAdjust="spacingAndGlyphs">-1,0</text>
<path d="M852 1151.3V1156.5" stroke="#000" stroke-width="1.5"/>
<path d="M869.3 1151.3V1154.1" stroke="#000" stroke-width="1.5"/>
<path d="M886.6 1151.3V1156.5" stroke="#000" stroke-width="1.5"/>
<path d="M903.9 1151.3V1154.1" stroke="#000" stroke-width="1.5"/>
<path d="M921.2 1151.3V1156.5" stroke="#000" stroke-width="1.5"/>
<path d="M938.5 1151.3V1154.1" stroke="#000" stroke-width="1.5"/>
<path d="M955.8 1151.3V1156.5" stroke="#000" stroke-width="1.5"/>
<path d="M973.1 1151.3V1154.1" stroke="#000" stroke-width="1.5"/>
<path d="M990.4 1151.3V1156.5" stroke="#000" stroke-width="1.5"/>
<path d="M1007.6 1151.3V1154.1" stroke="#000" stroke-width="1.5"/>
<path d="M1024.9 1151.3V1156.5" stroke="#000" stroke-width="1.5"/>
<path d="M1042.2 1151.3V1154.1" stroke="#000" stroke-width="1.5"/>
<path d="M1059.5 1151.3V1156.5" stroke="#000" stroke-width="1.5"/>
<path d="M1076.8 1151.3V1154.1" stroke="#000" stroke-width="1.5"/>
<path d="M1094.1 1151.3V1156.5" stroke="#000" stroke-width="1.5"/>
<path d="M1111.4 1151.3V1154.1" stroke="#000" stroke-width="1.5"/>
<path d="M1128.7 1151.3V1156.5" stroke="#000" stroke-width="1.5"/>
<text x="839" y="1173.8" font-size="17" stroke="#000" stroke-width="0.3" textLength="26.5" lengthAdjust="spacingAndGlyphs">-80</text>
<text x="873.6" y="1173.8" font-size="17" stroke="#000" stroke-width="0.3" textLength="26.5" lengthAdjust="spacingAndGlyphs">-60</text>
<text x="908.2" y="1173.8" font-size="17" stroke="#000" stroke-width="0.3" textLength="26.5" lengthAdjust="spacingAndGlyphs">-40</text>
<text x="942.8" y="1173.8" font-size="17" stroke="#000" stroke-width="0.3" textLength="26.5" lengthAdjust="spacingAndGlyphs">-20</text>
<text x="985.5" y="1173.8" font-size="17" stroke="#000" stroke-width="0.3" textLength="10.2" lengthAdjust="spacingAndGlyphs">0</text>
<text x="1015" y="1173.8" font-size="17" stroke="#000" stroke-width="0.3" textLength="20.4" lengthAdjust="spacingAndGlyphs">20</text>
<text x="1049.6" y="1173.8" font-size="17" stroke="#000" stroke-width="0.3" textLength="20.4" lengthAdjust="spacingAndGlyphs">40</text>
<text x="1084.2" y="1173.8" font-size="17" stroke="#000" stroke-width="0.3" textLength="20.4" lengthAdjust="spacingAndGlyphs">60</text>
<text x="1118.8" y="1173.8" font-size="17" stroke="#000" stroke-width="0.3" textLength="20.4" lengthAdjust="spacingAndGlyphs">80</text>
<text x="955.7" y="1193.5" font-size="18.5" stroke="#000" stroke-width="0.3" textLength="62.1" lengthAdjust="spacingAndGlyphs">V [mV]</text>
<text transform="translate(808 1041) scale(0.94 1) rotate(-90)" font-size="20" text-anchor="middle" stroke="#000" stroke-width="0.35">I [normalized]</text>
<text x="855.8" y="961.9" font-size="18.3" stroke="#000" stroke-width="0.3" textLength="256.5" lengthAdjust="spacingAndGlyphs">constitutive Orai TM mutant</text>
<text x="983.4" y="1027.8" font-size="18.5" stroke="#000" stroke-width="0.3" textLength="74.6" lengthAdjust="spacingAndGlyphs">+ STIM1</text>
<text x="1058.3" y="1005.8" font-size="18.5" stroke="#DF3123" stroke-width="0.3" fill="#DF3123" textLength="69.7" lengthAdjust="spacingAndGlyphs">- STIM1</text>
<path d="M856 1788.2L856.5 1785.5L857 1784.5L857.6 1784.8L858.1 1783.1L858.6 1784.4L859.1 1783.1L859.6 1782.5L860.2 1781.9L860.7 1783L861.2 1779.6L861.7 1780.5L862.2 1779.5L862.7 1778.8L863.3 1780.2L863.8 1779.9L864.3 1777.8L864.8 1777.8L865.3 1777.5L865.9 1776.8L866.4 1775.2L866.9 1775.2L867.4 1776.5L867.9 1774.3L868.5 1772.9L869 1772.8L869.5 1770.4L870 1772.5L870.5 1771.5L871.1 1768.4L871.6 1769L872.1 1768L872.6 1767.5L873.1 1766.6L873.6 1766.2L874.2 1767.3L874.7 1763.6L875.2 1765L875.7 1764.3L876.2 1762.8L876.8 1762.9L877.3 1762.5L877.8 1762.6L878.3 1762L878.8 1760.6L879.4 1760.1L879.9 1759.2L880.4 1758.7L880.9 1758.7L881.4 1758L882 1756.5L882.5 1756.8L883 1756.7L883.5 1754.9L884 1755L884.5 1754L885.1 1754.4L885.6 1753.7L886.1 1752.6L886.6 1752.1L887.1 1751.3L887.7 1750.6L888.2 1750.1L888.7 1750.4L889.2 1748.8L889.7 1748.2L890.3 1748L890.8 1747.5L891.3 1747.8L891.8 1746.5L892.3 1745.6L892.8 1745.6L893.4 1744.8L893.9 1744.6L894.4 1743.3L894.9 1742.4L895.4 1742.7L896 1742.4L896.5 1742.1L897 1740.7L897.5 1740.4L898 1740.1L898.6 1739.6L899.1 1739.4L899.6 1739.1L900.1 1738L900.6 1738L901.2 1737.1L901.7 1736.6L902.2 1735.5L902.7 1735.5L903.2 1736L903.7 1734.6L904.3 1734.1L904.8 1733.4L905.3 1733.4L905.8 1732.6L906.3 1732.5L906.9 1732.1L907.4 1730.9L907.9 1731L908.4 1730L908.9 1728.9L909.5 1728.9L910 1728.8L910.5 1728.4L911 1728.2L911.5 1727.1L912.1 1726.6L912.6 1726.2L913.1 1725.2L913.6 1725.3L914.1 1724.3L914.6 1724L915.2 1723.6L915.7 1723.3L916.2 1723.1L916.7 1722.5L917.2 1721.8L917.8 1721.2L918.3 1719.7L918.8 1719.9L919.3 1719.5L919.8 1719L920.4 1718.8L920.9 1718.3L921.4 1717.9L921.9 1718L922.4 1717.2L923 1716L923.5 1716.4L924 1715.5L924.5 1714.9L925 1714.4L925.5 1713.3L926.1 1713L926.6 1712.8L927.1 1712.7L927.6 1712.3L928.1 1712.1L928.7 1711.8L929.2 1711.3L929.7 1711.4L930.2 1710.6L930.7 1709.1L931.3 1709.8L931.8 1708.7L932.3 1708.8L932.8 1707.8L933.3 1706.9L933.9 1707.2L934.4 1706.9L934.9 1706.5L935.4 1705.9L935.9 1705.4L936.4 1706L937 1704.3L937.5 1704.2L938 1703.3L938.5 1703.9L939 1703.2L939.6 1702.9L940.1 1702.7L940.6 1702.2L941.1 1701.9L941.6 1701.4L942.2 1700.7L942.7 1699.9L943.2 1699.8L943.7 1699.5L944.2 1699.7L944.7 1699.4L945.3 1698.5L945.8 1698.1L946.3 1698L946.8 1697.4L947.3 1696.8L947.9 1696.8L948.4 1696L948.9 1696L949.4 1696.1L949.9 1695.5L950.5 1695.2L951 1694.8L951.5 1694.1L952 1693.5L952.5 1693.2L953.1 1693.2L953.6 1692.9L954.1 1692L954.6 1692.7L955.1 1692.1L955.6 1691.8L956.2 1690.9L956.7 1691.4L957.2 1690.7L957.7 1690.7L958.2 1690.4L958.8 1689.7L959.3 1689.8L959.8 1689.1L960.3 1688.6L960.8 1688.4L961.4 1688.1L961.9 1687.3L962.4 1687.1L962.9 1687.3L963.4 1687.2L964 1686.5L964.5 1686.5L965 1686.5L965.5 1685.4L966 1685.2L966.5 1684.7L967.1 1684.9L967.6 1683.9L968.1 1683.9L968.6 1683.5L969.1 1683.7L969.7 1683.9L970.2 1682.8L970.7 1682.8L971.2 1682.7L971.7 1682.3L972.3 1682.2L972.8 1681.1L973.3 1680.9L973.8 1681.1L974.3 1680.4L974.9 1680.1L975.4 1679.9L975.9 1679.8L976.4 1679.2L976.9 1679.2L977.4 1679.1L978 1679.1L978.5 1678.7L979 1678.7L979.5 1678.6L980 1677.7L980.6 1678.1L981.1 1677.4L981.6 1677.3L982.1 1676.5L982.6 1676.4L983.2 1676.5L983.7 1676.4L984.2 1675.9L984.7 1675.8L985.2 1675.2L985.8 1675L986.3 1675.3L986.8 1674L987.3 1674.1L987.8 1674.4L988.3 1673.9L988.9 1673.9L989.4 1673.6L989.9 1673.8L990.4 1673.3L990.9 1673.1L991.5 1672.4L992 1672.5L992.5 1672L993 1672L993.5 1672L994.1 1671.3L994.6 1670.5L995.1 1670.7L995.6 1670.9L996.1 1670.7L996.6 1670.5L997.2 1670.2L997.7 1669.6L998.2 1669.6L998.7 1669.5L999.2 1669.1L999.8 1669.4L1000.3 1669L1000.8 1668.5L1001.3 1667.9L1001.8 1668.7L1002.4 1667.4L1002.9 1667.3L1003.4 1667.6L1003.9 1667.3L1004.4 1667.7L1005 1666.8L1005.5 1666.6L1006 1666.6L1006.5 1666.5L1007 1665.9L1007.5 1666L1008.1 1665.3L1008.6 1665.4L1009.1 1666.1L1009.6 1665L1010.1 1665L1010.7 1664.7L1011.2 1665.1L1011.7 1665.4L1012.2 1664.7L1012.7 1664.4L1013.3 1664.4L1013.8 1663.5L1014.3 1663L1014.8 1663.7L1015.3 1663L1015.9 1663.4L1016.4 1663.5L1016.9 1663.8L1017.4 1663.2L1017.9 1663.2L1018.4 1662.8L1019 1662.4L1019.5 1661.5L1020 1661.6L1020.5 1660.9L1021 1661.5L1021.6 1662.5L1022.1 1662.5L1022.6 1661.9L1023.1 1661.1L1023.6 1659.8L1024.2 1660.1L1024.7 1661L1025.2 1660.2L1025.7 1660.2L1026.2 1660.1L1026.8 1659.4L1027.3 1660.8L1027.8 1660L1028.3 1660.3L1028.8 1659.8L1029.3 1659.3L1029.9 1658.5L1030.4 1659.7L1030.9 1659.1L1031.4 1659.1L1031.9 1658.8L1032.5 1658.3L1033 1658.2L1033.5 1657.6L1034 1658.3L1034.5 1658.3L1035.1 1657.4L1035.6 1657.9L1036.1 1657.5L1036.6 1656.8L1037.1 1657.4L1037.7 1656.4L1038.2 1657.5L1038.7 1656.5L1039.2 1656.6L1039.7 1657.6L1040.2 1656.4L1040.8 1656.2L1041.3 1657.1L1041.8 1657.8L1042.3 1656.2L1042.8 1656.7L1043.4 1656.7L1043.9 1654.3L1044.4 1655.7L1044.9 1656.9L1045.4 1655.7L1046 1655.5L1046.5 1655.9L1047 1654.7L1047.5 1654.6L1048 1654.5L1048.5 1655.7L1049.1 1654.7L1049.6 1654.5L1050.1 1654.5L1050.6 1654.4L1051.1 1655.3L1051.7 1654.3L1052.2 1655.7L1052.7 1654L1053.2 1655.1L1053.7 1654.3L1054.3 1654.2L1054.8 1653.8L1055.3 1654.5L1055.8 1653.1L1056.3 1654.7L1056.9 1653.6L1057.4 1653.5L1057.9 1654.1L1058.4 1654.2L1058.9 1655.3L1059.4 1653.7L1060 1652.6L1060.5 1653.9L1061 1652.9L1061.5 1653.3L1062 1654.4L1062.6 1653.4L1063.1 1652.7L1063.6 1653.6L1064.1 1653.7L1064.6 1653.4L1065.2 1653.7L1065.7 1653.8L1066.2 1653.6L1066.7 1653.6L1067.2 1653L1067.8 1653.2L1068.3 1653.2L1068.8 1653.1L1069.3 1653.5L1069.8 1652.3L1070.3 1651.4L1070.9 1653.3L1071.4 1651.4L1071.9 1654.1L1072.4 1652.6L1072.9 1652.8L1073.5 1650.5L1074 1651.7L1074.5 1653.1L1075 1653.3L1075.5 1651.3L1076.1 1652.2L1076.6 1652.7L1077.1 1652.7L1077.6 1651.8L1078.1 1651.3L1078.7 1653.3L1079.2 1653.1L1079.7 1652.8L1080.2 1653.1L1080.7 1650.7L1081.2 1651.2L1081.8 1651.8L1082.3 1653.8L1082.8 1651L1083.3 1650.2L1083.8 1650.2L1084.4 1650.4L1084.9 1651.1L1085.4 1650.2L1085.9 1650.3L1086.4 1650.2L1087 1651L1087.5 1650.1L1088 1650.4L1088.5 1649.5L1089 1650.9L1089.5 1650.9L1090.1 1653.8L1090.6 1652.9L1091.1 1652.7L1091.6 1652.5L1092.1 1652.2L1092.7 1651.5L1093.2 1652.8L1093.7 1654.2L1094.2 1652.8L1094.7 1651.3L1095.3 1653.1L1095.8 1651.4L1096.3 1651.5L1096.8 1651L1097.3 1650.8L1097.9 1651.3L1098.4 1651.2L1098.9 1650.3L1099.4 1655L1099.9 1653.6L1100.4 1650.5L1101 1652.5L1101.5 1652.3L1102 1650.2L1102.5 1650.4L1103 1653.5L1103.6 1652.3L1104.1 1651.9L1104.6 1652.3L1105.1 1651.1L1105.6 1652.6L1106.2 1653.2L1106.7 1651L1107.2 1651.4L1107.7 1649.3L1108.2 1650.7L1108.8 1650.9L1109.3 1649.6L1109.8 1650L1110.3 1651.4L1110.8 1652.5L1111.3 1651.8L1111.9 1651.5L1112.4 1648.2L1112.9 1649.5L1113.4 1652.1L1113.9 1650.3L1114.5 1649.6L1115 1650L1115.5 1648.6L1116 1651.1L1116.5 1646.8L1117.1 1649.4L1117.6 1649.7L1118.1 1650.5L1118.6 1650.8L1119.1 1651.4L1119.7 1653.7L1120.2 1651.3L1120.7 1651.6L1121.2 1651.8L1121.7 1651.1L1122.2 1650.5L1122.8 1649.1L1123.3 1650.2L1123.8 1651.7L1124.3 1652.4L1124.8 1649.2L1125.4 1648L1125.9 1650.3L1126.4 1650.4L1126.9 1648.8L1127.4 1650.4L1128 1649.7L1128.5 1649.6L1129 1650.8L1129.5 1649L1130 1652L1130.6 1652.7L1131.1 1649.8L1131.6 1647.8L1132.1 1650.8L1132.6 1649" fill="none" stroke="#000" stroke-width="2.5" stroke-linejoin="round"/>
<path d="M851 1652H1132.8" stroke="#000" stroke-width="1.4"/>
<path d="M856 1609.5V1820.5" stroke="#000" stroke-width="1.9"/>
<path d="M855 1819.5H1133.8" stroke="#000" stroke-width="1.9"/>
<path d="M853.4 1616.9H856" stroke="#000" stroke-width="1.5"/>
<path d="M850.8 1652H856" stroke="#000" stroke-width="1.5"/>
<path d="M853.4 1687.1H856" stroke="#000" stroke-width="1.5"/>
<path d="M850.8 1722.2H856" stroke="#000" stroke-width="1.5"/>
<path d="M853.4 1757.2H856" stroke="#000" stroke-width="1.5"/>
<path d="M850.8 1792.3H856" stroke="#000" stroke-width="1.5"/>
<text x="823" y="1658.1" font-size="17" stroke="#000" stroke-width="0.3" textLength="25.5" lengthAdjust="spacingAndGlyphs">0,0</text>
<text x="816.9" y="1728.3" font-size="17" stroke="#000" stroke-width="0.3" textLength="31.6" lengthAdjust="spacingAndGlyphs">-0,5</text>
<text x="816.9" y="1798.4" font-size="17" stroke="#000" stroke-width="0.3" textLength="31.6" lengthAdjust="spacingAndGlyphs">-1,0</text>
<path d="M856 1819.5V1824.7" stroke="#000" stroke-width="1.5"/>
<path d="M873.3 1819.5V1822.3" stroke="#000" stroke-width="1.5"/>
<path d="M890.6 1819.5V1824.7" stroke="#000" stroke-width="1.5"/>
<path d="M907.9 1819.5V1822.3" stroke="#000" stroke-width="1.5"/>
<path d="M925.2 1819.5V1824.7" stroke="#000" stroke-width="1.5"/>
<path d="M942.5 1819.5V1822.3" stroke="#000" stroke-width="1.5"/>
<path d="M959.8 1819.5V1824.7" stroke="#000" stroke-width="1.5"/>
<path d="M977.1 1819.5V1822.3" stroke="#000" stroke-width="1.5"/>
<path d="M994.4 1819.5V1824.7" stroke="#000" stroke-width="1.5"/>
<path d="M1011.7 1819.5V1822.3" stroke="#000" stroke-width="1.5"/>
<path d="M1029 1819.5V1824.7" stroke="#000" stroke-width="1.5"/>
<path d="M1046.3 1819.5V1822.3" stroke="#000" stroke-width="1.5"/>
<path d="M1063.6 1819.5V1824.7" stroke="#000" stroke-width="1.5"/>
<path d="M1080.9 1819.5V1822.3" stroke="#000" stroke-width="1.5"/>
<path d="M1098.2 1819.5V1824.7" stroke="#000" stroke-width="1.5"/>
<path d="M1115.5 1819.5V1822.3" stroke="#000" stroke-width="1.5"/>
<path d="M1132.8 1819.5V1824.7" stroke="#000" stroke-width="1.5"/>
<text x="843" y="1842.2" font-size="17" stroke="#000" stroke-width="0.3" textLength="26.5" lengthAdjust="spacingAndGlyphs">-80</text>
<text x="877.6" y="1842.2" font-size="17" stroke="#000" stroke-width="0.3" textLength="26.5" lengthAdjust="spacingAndGlyphs">-60</text>
<text x="912.2" y="1842.2" font-size="17" stroke="#000" stroke-width="0.3" textLength="26.5" lengthAdjust="spacingAndGlyphs">-40</text>
<text x="946.8" y="1842.2" font-size="17" stroke="#000" stroke-width="0.3" textLength="26.5" lengthAdjust="spacingAndGlyphs">-20</text>
<text x="989.6" y="1842.2" font-size="17" stroke="#000" stroke-width="0.3" textLength="10.2" lengthAdjust="spacingAndGlyphs">0</text>
<text x="1019.1" y="1842.2" font-size="17" stroke="#000" stroke-width="0.3" textLength="20.4" lengthAdjust="spacingAndGlyphs">20</text>
<text x="1053.7" y="1842.2" font-size="17" stroke="#000" stroke-width="0.3" textLength="20.4" lengthAdjust="spacingAndGlyphs">40</text>
<text x="1088.3" y="1842.2" font-size="17" stroke="#000" stroke-width="0.3" textLength="20.4" lengthAdjust="spacingAndGlyphs">60</text>
<text x="1122.9" y="1842.2" font-size="17" stroke="#000" stroke-width="0.3" textLength="20.4" lengthAdjust="spacingAndGlyphs">80</text>
<text x="960.2" y="1861.5" font-size="18.5" stroke="#000" stroke-width="0.3" textLength="62.1" lengthAdjust="spacingAndGlyphs">V [mV]</text>
<text transform="translate(812.5 1709) scale(0.94 1) rotate(-90)" font-size="20" text-anchor="middle" stroke="#000" stroke-width="0.35">I [normalized]</text>
<text x="877.8" y="1636.5" font-size="18.3" stroke="#000" stroke-width="0.3" textLength="66.3" lengthAdjust="spacingAndGlyphs">Orai1 +</text>
<text x="963" y="1714.8" font-size="18.5" stroke="#000" stroke-width="0.3" textLength="74.6" lengthAdjust="spacingAndGlyphs">+ STIM1</text>
<text x="963" y="1738.4" font-size="18.5" stroke="#000" stroke-width="0.3" textLength="19.6" lengthAdjust="spacingAndGlyphs">or</text>
<text x="963" y="1762.5" font-size="18.5" stroke="#000" stroke-width="0.3" textLength="177.1" lengthAdjust="spacingAndGlyphs">+ STIM1 C-terminal</text>
<text x="963" y="1786.2" font-size="18.5" stroke="#000" stroke-width="0.3" textLength="83.9" lengthAdjust="spacingAndGlyphs">fragment</text>
<path d="M1269.3 537.9L1272.6 537.9L1272.9 612.6L1273.8 601.8L1274.2 601.3L1274.7 598.5L1275.1 596.9L1275.6 595.4L1276 593.3L1276.5 592.3L1277 590.9L1277.4 590.5L1277.9 588.5L1278.3 586L1278.8 586.1L1279.2 585.8L1279.7 586.1L1280.1 586.4L1280.6 586.2L1281 586.1L1281.5 583.8L1282 584L1282.4 584L1282.9 583.8L1283.3 581.8L1283.8 579.4L1284.2 581L1284.7 581L1285.1 582.2L1285.6 578.7L1286.1 581.6L1286.5 580.2L1287 580.6L1287.4 580.7L1287.9 579.6L1288.3 581.5L1288.8 579.3L1289.2 580.1L1289.7 579.3L1290.1 578.6L1290.6 578.1L1291.1 577.2L1291.5 580.4L1292 578.8L1292.4 578.4L1292.9 578.2L1293.3 577.4L1293.8 578.3L1294.2 577.7L1294.7 578.8L1295.2 577.8L1295.6 578.3L1296.1 578.5L1296.5 577.9L1297 577.4L1297.4 576.1L1297.9 577.1L1298.3 576.3L1298.8 577.4L1299.2 574.2L1299.7 574.3L1300.2 576.6L1300.6 576.6L1301.1 574.3L1301.5 576.5L1302 574.6L1302.4 574.3L1302.9 575.5L1303.3 575.8L1303.8 575L1304.2 574.3L1304.7 576.9L1305.2 577.4L1305.6 577L1306.1 577.4L1306.5 576.3L1307 576.2L1307.4 576.2L1307.9 574.9L1308.3 575.7L1308.8 576L1309.3 576.2L1309.7 576.1L1310.2 575.7L1310.6 575.9L1311.1 575.5L1311.5 575.4L1312 575.1L1312.4 577.2L1312.9 576.1L1313.3 576.1L1313.8 576.8L1314.3 575.3L1314.7 577.1L1315.2 576L1315.6 576.3L1316.1 577.6L1316.5 576.5L1317 575.3L1317.4 574.5L1317.9 575.6L1318.4 573.7L1318.8 576.5L1319.3 575.5L1319.7 577.1L1320.2 576.3L1320.6 576.8L1321.1 575.8L1321.5 574.7L1322 575.2L1322.4 574.9L1322.9 574.9L1323.4 575L1323.8 574.9L1324.3 575.3L1324.7 575.5L1325.2 575.9L1325.6 576.1L1326.1 577.3L1326.5 575.4L1327 574.4L1327.5 577.2L1327.9 577.5L1328.4 576.5L1328.8 576.1L1329.3 575L1329.7 575L1330.2 574L1330.6 573.4L1331.1 574.5L1331.5 575.5L1332 575L1332.5 577.5L1332.9 575.7L1333.4 574.1L1333.8 574.8L1334.3 574L1334.7 574.8L1335.2 575.8L1335.6 576.8L1336.1 575.7L1336.6 573.5L1337 576.6L1337.5 574.7L1337.9 575.6L1338.4 576.6L1338.8 573.6L1339.3 573.4L1339.7 576L1340.2 577.4L1340.6 577.4L1341.1 575.3L1341.6 574.6L1342 574.8L1342.5 575.8L1342.9 576.2L1343.4 576.4L1343.8 576L1344.3 575.8L1344.7 573.9L1345.2 574.9L1345.6 574L1346.1 574.6L1346.6 577L1347 575.8L1347.5 577.2L1347.9 577.2L1348.4 575.8L1348.8 574.8L1349.3 577.1L1349.7 574.8L1350.2 576.9L1350.7 576L1351.1 574.1L1351.6 576.6L1352 575.6L1352.5 575.1L1352.9 575.4L1353.4 575.2L1353.8 575.5L1354.3 574.5L1354.7 575.5L1355.2 574.1L1355.7 575.7L1356.1 577.5L1356.6 574.5L1357 576.4L1357.5 574.6L1357.9 573.6L1358.4 575.4L1358.8 574.3L1359.3 573.7L1359.8 574L1360.2 572.5L1360.7 574.8L1361.1 574.7L1361.6 575.3L1362 574.5L1362.5 575.7L1362.9 575.9L1363.4 574.2L1363.8 575.1L1364.3 574.3L1364.8 573.7L1365.2 575.5L1365.7 576.4L1366.1 575.2L1366.6 574.7L1367 574.8L1367.5 574L1367.9 574.6L1368.4 574.8L1368.9 575.2L1369.3 575.7L1369.8 573.2L1370.2 574.2L1370.7 573.7L1371.1 573.3L1371.6 575.6L1372 576L1372.5 574.9L1372.9 575.2L1373.4 574.2L1373.9 573.5L1374.3 574.8L1374.8 577.3L1375.2 574.9L1375.7 575.6L1376.1 574.8L1376.6 575.5L1377 575.2L1377.5 575L1378 575.1L1378.4 575.2L1378.9 574.8L1379.3 574.4L1379.8 572.7L1380.2 573.2L1380.7 572.8L1381.1 574.4L1381.6 574.9L1382 574.5L1382.5 574.7L1383 573.4L1383.4 576.6L1383.9 576L1384.3 574.4L1384.8 575.6L1385.2 573.7L1385.7 574.6L1386.1 574.9L1386.6 574.1L1387 573.7L1387.5 573.6L1388 573.8L1388.4 574.6L1388.9 574.2L1389.3 574.5L1389.8 574.9L1390.2 573.9L1390.7 574L1391.1 574.7L1391.6 574.9L1392.1 574.1L1392.5 574.1L1393 572.8L1393.4 571.1L1393.9 573.8L1394.3 573.4L1394.8 572.3L1395.2 572.4L1395.7 571.7L1396.1 573.2L1396.6 571.9L1397.1 573.3L1397.5 571.9L1398 572.7L1398.4 575.9L1398.9 575.2L1399.3 573.4L1399.8 574.9L1400.2 573L1400.7 572.3L1401.2 572.9L1401.6 574.4L1402.1 574L1402.5 573.7L1403 573.8L1403.4 573.5L1403.9 571.6L1404.3 572.5L1404.8 573.6L1405.2 573L1405.7 573.6L1406.2 573.3L1406.6 575.2L1407.1 575.9L1407.5 573.4L1408 575.4L1408.4 575.2L1408.9 576.3L1409.3 574.7L1409.8 573.6L1410.3 573.4L1410.7 573.3L1411.2 573.3L1411.6 572.9L1412.1 572.4L1412.5 571.7L1413 573.6L1413.4 572.9L1413.9 572L1414.3 571.9L1414.8 573.1L1415.3 571.2L1415.7 572.8L1416.2 573.2L1416.6 573L1417.1 574.5L1417.5 572.9L1418 574.7L1418.4 574.2L1418.9 574.6L1419.4 574.2L1419.8 574.2L1420.3 572L1420.7 574.2L1421.2 574.1L1421.6 574.1L1422.1 573.4L1422.5 572.3L1423 571.2L1423.4 570.7L1423.9 571.5L1424.4 573.3L1424.8 573.2L1425.3 571.9L1425.7 571.6L1426.2 572.7L1426.6 573L1427.1 574.1L1427.5 572.7L1428 572.1L1428.5 574L1428.9 572.4L1429.4 573.1L1429.8 572.2L1430.3 570.3L1430.7 570.5L1431.2 571.2L1431.6 572.9L1432.1 572.4L1432.5 573.3L1433 572.5L1433.5 571.7L1433.9 571.9L1434.4 571.9L1434.8 571.3L1435.3 571.9L1435.7 570.8L1436.2 571.8L1436.6 571.9L1437.1 572.1L1437.5 571.1L1438 569.5L1438.5 572L1438.9 571.8L1439.4 572.2L1439.8 570.3L1440.3 568L1440.7 570.4L1441.2 569.8L1441.6 571.4L1442.1 572.8L1442.6 570.5L1443 570.1L1443.5 571.3L1443.9 570.8L1444.4 570.6L1444.8 571.3L1445.3 571.5L1445.7 568.8L1446.2 567.9L1446.6 569.7L1447.1 571.2L1447.6 569.7L1448 571L1448.5 570.4L1448.9 570L1449.4 570.2L1449.8 571L1450.3 571.5L1450.7 570.4L1451.2 570L1451.7 571.3L1452.1 571.6L1452.6 573.5L1453 573L1453.5 568.8L1453.9 567.5L1454.4 567.7L1454.8 569.9L1455.3 570.2L1455.7 569.7L1456.2 568.9L1456.7 570.2L1457.1 568.8L1457.6 567.6L1458 568.9L1458.5 568.4L1458.9 570.2L1459.4 570L1459.8 570.3L1460.3 570L1460.8 569.7L1461.2 567.3L1461.7 569.5L1462.1 570.6L1462.6 570L1463 571.4L1463.5 571.8L1463.9 570.5L1464.4 569.6L1464.8 569.6L1465.3 571.7L1465.8 570.4L1466.2 569.8L1466.7 569.9L1467.1 571.8L1467.6 568.8L1468 570.3L1468.5 573L1468.9 570.7L1469.4 569.6L1469.9 570.3L1470.3 570.3L1470.8 571.1L1471.2 570.9L1471.7 572.2L1472.1 570.5L1472.6 570.9L1473 570.8L1473.5 572.3L1473.9 570.9L1474.4 570.9L1474.9 573L1475.3 571.6L1475.8 570.3L1476.2 570.2L1476.7 571.5L1477.1 570.2L1477.6 569L1478 571.2L1478.5 569.6L1478.9 570.1L1479.4 572L1479.9 571.6L1480.3 569.5L1480.8 571.2L1481.2 569.6L1481.7 569.9L1482.1 570L1482.6 570.9L1483 570.9L1483.5 570.7L1484 570.6L1484.4 571.3L1484.9 571.7L1485.3 571.5L1485.8 570.1L1486.2 571.1L1486.7 569.4L1487.1 569.5L1487.6 568.8L1488 570.1L1488.5 569.3L1489 569L1489.4 569.4L1489.9 568.5L1490.3 566.9L1490.8 571.4L1491.2 570.4L1491.7 571.8L1492.1 571.6L1492.6 568.8L1493.1 570.4L1493.5 570.8L1494 570.6L1494.4 570.6L1494.9 568.8L1495.3 569.5L1495.8 569.4L1496.2 570.5L1496.7 569.9L1497.1 570.7L1497.6 571.3L1498.1 569.8L1498.5 571L1499 570.9L1499.4 570.1L1499.9 568.1L1500.3 569.7" fill="none" stroke="#000" stroke-width="2.2" stroke-linejoin="round"/>
<path d="M1269.3 537.9L1272.9 537.9L1273.1 616.9L1273.5 617.4L1274 613.8L1274.5 607.3L1274.9 604L1275.4 602.8L1275.8 600.2L1276.3 599.1L1276.7 598.1L1277.2 598.2L1277.6 597.2L1278.1 597.2L1278.5 597.1L1279 596.7L1279.5 595.6L1279.9 595.3L1280.4 594.2L1280.8 594.3L1281.3 595.1L1281.7 594.7L1282.2 595.2L1282.6 594.8L1283.1 595L1283.5 595.2L1284 594.8L1284.5 593.6L1284.9 594.7L1285.4 594L1285.8 593.8L1286.3 594.4L1286.7 594L1287.2 593.9L1287.6 592.5L1288.1 593.6L1288.6 594.1L1289 593.4L1289.5 594L1289.9 593.1L1290.4 594.7L1290.8 595.2L1291.3 596L1291.7 596.1L1292.2 595.4L1292.6 595.2L1293.1 595.6L1293.6 596.1L1294 596.8L1294.5 595.5L1294.9 595L1295.4 595L1295.8 594.4L1296.3 595.8L1296.7 597.1L1297.2 598.4L1297.7 598.2L1298.1 597.7L1298.6 597L1299 597.7L1299.5 598.9L1299.9 597.3L1300.4 596.7L1300.8 598.3L1301.3 597.5L1301.7 599.6L1302.2 598.5L1302.7 600L1303.1 599.8L1303.6 598.7L1304 598.9L1304.5 598L1304.9 599.3L1305.4 598.8L1305.8 598.6L1306.3 599.4L1306.8 599.5L1307.2 599.2L1307.7 599.6L1308.1 599.9L1308.6 600.4L1309 601.6L1309.5 601.6L1309.9 601.7L1310.4 600.4L1310.8 601.8L1311.3 602L1311.8 603.4L1312.2 601.8L1312.7 602.1L1313.1 601.6L1313.6 601.4L1314 601.5L1314.5 600.8L1314.9 600.8L1315.4 601.1L1315.9 601.2L1316.3 602.1L1316.8 603.3L1317.2 602.6L1317.7 602.8L1318.1 602.5L1318.6 603.3L1319 603.4L1319.5 603.9L1319.9 603.2L1320.4 603.5L1320.9 604.1L1321.3 603.7L1321.8 604.6L1322.2 605.1L1322.7 605.2L1323.1 605L1323.6 605.3L1324 604.7L1324.5 605.5L1324.9 605.4L1325.4 606.3L1325.9 607L1326.3 606.3L1326.8 605L1327.2 604.5L1327.7 604.7L1328.1 606.4L1328.6 606.4L1329 606.5L1329.5 606.5L1330 606.4L1330.4 606.5L1330.9 606.3L1331.3 605.9L1331.8 605.7L1332.2 607.1L1332.7 606.6L1333.1 607.4L1333.6 608.2L1334 607.9L1334.5 607.6L1335 607.3L1335.4 607.8L1335.9 607.6L1336.3 607.5L1336.8 607.9L1337.2 607.5L1337.7 608.8L1338.1 608.5L1338.6 609.4L1339.1 610.2L1339.5 609L1340 609.2L1340.4 608.6L1340.9 609L1341.3 608.8L1341.8 608.6L1342.2 609.1L1342.7 609.6L1343.1 609.9L1343.6 610.3L1344.1 609.8L1344.5 609.9L1345 610.4L1345.4 611.2L1345.9 610.2L1346.3 610.5L1346.8 611.8L1347.2 610.1L1347.7 610.4L1348.2 610.1L1348.6 609.3L1349.1 610.4L1349.5 609.6L1350 611.8L1350.4 611.5L1350.9 611L1351.3 612.5L1351.8 611.3L1352.2 611.9L1352.7 612.4L1353.2 613.3L1353.6 612.1L1354.1 612.7L1354.5 611.7L1355 613.1L1355.4 613.2L1355.9 612.4L1356.3 613.9L1356.8 612.4L1357.3 612.4L1357.7 611L1358.2 612L1358.6 612.3L1359.1 612.9L1359.5 614.1L1360 613.7L1360.4 612.9L1360.9 614.3L1361.3 614.2L1361.8 614.4L1362.3 613.4L1362.7 614.9L1363.2 613.7L1363.6 613.2L1364.1 614.4L1364.5 614.3L1365 613.6L1365.4 615L1365.9 614.2L1366.4 614.8L1366.8 613.9L1367.3 615.3L1367.7 615.1L1368.2 614.4L1368.6 615L1369.1 615.1L1369.5 615.1L1370 614.3L1370.4 615L1370.9 614.6L1371.4 615.9L1371.8 615.7L1372.3 615.6L1372.7 616L1373.2 615.9L1373.6 615.1L1374.1 615.4L1374.5 615.5L1375 615.4L1375.4 615.6L1375.9 616.8L1376.4 617.1L1376.8 616.2L1377.3 616.1L1377.7 616.7L1378.2 616.8L1378.6 617.3L1379.1 617.1L1379.5 617.1L1380 616.6L1380.5 616.7L1380.9 617.1L1381.4 617.6L1381.8 617.4L1382.3 617.8L1382.7 616.6L1383.2 618.3L1383.6 617.7L1384.1 617.9L1384.5 616.9L1385 617.1L1385.5 617.4L1385.9 617.4L1386.4 617.8L1386.8 619L1387.3 617.3L1387.7 618.8L1388.2 618.8L1388.6 618.5L1389.1 617.5L1389.6 617.9L1390 617.9L1390.5 618.6L1390.9 617.4L1391.4 618.3L1391.8 616.9L1392.3 617.9L1392.7 618.7L1393.2 619L1393.6 618.3L1394.1 618L1394.6 617.5L1395 617.8L1395.5 618.3L1395.9 618.4L1396.4 619.4L1396.8 619.4L1397.3 618.5L1397.7 618.5L1398.2 617.9L1398.7 619.3L1399.1 618.9L1399.6 619.5L1400 618.2L1400.5 618.6L1400.9 619.8L1401.4 619.8L1401.8 618.6L1402.3 618.8L1402.7 618.8L1403.2 619.9L1403.7 620L1404.1 619.7L1404.6 620L1405 619.4L1405.5 618.1L1405.9 618.5L1406.4 619.5L1406.8 619.4L1407.3 620.2L1407.8 620.3L1408.2 619.9L1408.7 620.5L1409.1 620.5L1409.6 619.8L1410 619L1410.5 619.6L1410.9 620.9L1411.4 621.1L1411.8 620.4L1412.3 620.6L1412.8 620.4L1413.2 621.1L1413.7 619.5L1414.1 621.6L1414.6 622.1L1415 620.5L1415.5 621.1L1415.9 620.8L1416.4 621.8L1416.8 620.9L1417.3 621.8L1417.8 621.5L1418.2 620.6L1418.7 620.5L1419.1 621.3L1419.6 622.3L1420 621.6L1420.5 620.5L1420.9 621.1L1421.4 622L1421.9 622L1422.3 621.2L1422.8 623L1423.2 623L1423.7 622.2L1424.1 622.1L1424.6 622.2L1425 621.2L1425.5 621L1425.9 622.2L1426.4 622L1426.9 622.5L1427.3 622.4L1427.8 621.8L1428.2 621.4L1428.7 621.5L1429.1 622.9L1429.6 623.4L1430 623.1L1430.5 623.7L1431 622.2L1431.4 622.4L1431.9 623.1L1432.3 623L1432.8 622.8L1433.2 621.6L1433.7 622.4L1434.1 622.7L1434.6 622L1435 623.7L1435.5 623.8L1436 623L1436.4 622.8L1436.9 624L1437.3 624.1L1437.8 623.3L1438.2 623.9L1438.7 624.1L1439.1 623.8L1439.6 621L1440.1 623.4L1440.5 623.7L1441 623.8L1441.4 624.1L1441.9 623.7L1442.3 623L1442.8 622.9L1443.2 623.4L1443.7 622.8L1444.1 623L1444.6 624.8L1445.1 624.9L1445.5 624.1L1446 623.8L1446.4 624.8L1446.9 624.8L1447.3 624.5L1447.8 624.1L1448.2 626.1L1448.7 624.7L1449.2 624.4L1449.6 624.7L1450.1 625L1450.5 625.6L1451 624.9L1451.4 624.3L1451.9 624.5L1452.3 624.7L1452.8 624.8L1453.2 624.8L1453.7 624.3L1454.2 625L1454.6 625.7L1455.1 625.5L1455.5 625.9L1456 625.7L1456.4 625L1456.9 624.7L1457.3 624.9L1457.8 625.1L1458.3 624.5L1458.7 624.3L1459.2 624.8L1459.6 625.3L1460.1 625.2L1460.5 625.1L1461 625.1L1461.4 625.6L1461.9 625.9L1462.3 625.2L1462.8 623.9L1463.3 624.3L1463.7 624.9L1464.2 625.1L1464.6 625.4L1465.1 625.6L1465.5 625.7L1466 624.9L1466.4 626.2L1466.9 624.5L1467.3 624.5L1467.8 625.8L1468.3 626.5L1468.7 626.2L1469.2 625.3L1469.6 625.9L1470.1 626.5L1470.5 625.3L1471 626.1L1471.4 625.4L1471.9 625.9L1472.4 626.6L1472.8 625.6L1473.3 625.3L1473.7 625.3L1474.2 624.9L1474.6 624.8L1475.1 626.1L1475.5 626.1L1476 626L1476.4 626.7L1476.9 624.9L1477.4 626.4L1477.8 627L1478.3 626.1L1478.7 625.8L1479.2 625.3L1479.6 625.5L1480.1 626.2L1480.5 625.5L1481 626.3L1481.5 624.9L1481.9 626.3L1482.4 626.7L1482.8 624.2L1483.3 624.9L1483.7 626.3L1484.2 626.1L1484.6 626.3L1485.1 627.6L1485.5 626.6L1486 625.4L1486.5 626.2L1486.9 626.5L1487.4 626L1487.8 625.7L1488.3 625.5L1488.7 624.2L1489.2 625.7L1489.6 626.7L1490.1 625.8L1490.6 626.2L1491 626.1L1491.5 627.1L1491.9 625.3L1492.4 625.4L1492.8 624.7L1493.3 625.9L1493.7 627L1494.2 626.1L1494.6 625.9L1495.1 626.5L1495.6 625.8L1496 627.6L1496.5 627.1L1496.9 628L1497.4 627.6L1497.8 627.4L1498.3 628.4L1498.7 628.1L1499.2 627.3L1499.7 627.5L1500.1 627.5L1500.6 627.6" fill="none" stroke="#DF3123" stroke-width="2.2" stroke-linejoin="round"/>
<path d="M1264 531H1572.3" stroke="#000" stroke-width="1.5"/>
<path d="M1269 487.7V721.4" stroke="#000" stroke-width="1.9"/>
<path d="M1268 720.4H1500.3" stroke="#000" stroke-width="1.9"/>
<path d="M1500.3 720.8H1572.3" stroke="#000" stroke-width="1"/>
<path d="M1266.4 488.1H1269" stroke="#000" stroke-width="1.5"/>
<path d="M1263.8 531H1269" stroke="#000" stroke-width="1.5"/>
<path d="M1266.4 574H1269" stroke="#000" stroke-width="1.5"/>
<path d="M1263.8 616.9H1269" stroke="#000" stroke-width="1.5"/>
<path d="M1266.4 659.8H1269" stroke="#000" stroke-width="1.5"/>
<path d="M1263.8 702.8H1269" stroke="#000" stroke-width="1.5"/>
<path d="M1266.4 488.4H1269" stroke="#000" stroke-width="1.4"/>
<text x="1249.7" y="538" font-size="19.5" stroke="#000" stroke-width="0.3" textLength="11.3" lengthAdjust="spacingAndGlyphs">0</text>
<text x="1243" y="623.9" font-size="19.5" stroke="#000" stroke-width="0.3" textLength="18" lengthAdjust="spacingAndGlyphs">-1</text>
<text x="1243" y="709.8" font-size="19.5" stroke="#000" stroke-width="0.3" textLength="18" lengthAdjust="spacingAndGlyphs">-2</text>
<path d="M1269 720.4V725.4" stroke="#000" stroke-width="1.5"/>
<path d="M1306.9 720.4V723.2" stroke="#000" stroke-width="1.5"/>
<path d="M1344.8 720.4V725.4" stroke="#000" stroke-width="1.5"/>
<path d="M1382.7 720.4V723.2" stroke="#000" stroke-width="1.5"/>
<path d="M1420.7 720.4V725.4" stroke="#000" stroke-width="1.5"/>
<path d="M1458.6 720.4V723.2" stroke="#000" stroke-width="1.5"/>
<path d="M1496.5 720.4V725.4" stroke="#000" stroke-width="1.5"/>
<path d="M1534.4 720.4V723.2" stroke="#000" stroke-width="1.2"/>
<path d="M1572.3 720.4V725.4" stroke="#000" stroke-width="1.2"/>
<text x="1263.4" y="744.7" font-size="19.5" stroke="#000" stroke-width="0.3" textLength="11.3" lengthAdjust="spacingAndGlyphs">0</text>
<text x="1327.9" y="744.7" font-size="19.5" stroke="#000" stroke-width="0.3" textLength="33.8" lengthAdjust="spacingAndGlyphs">500</text>
<text x="1398.1" y="744.7" font-size="19.5" stroke="#000" stroke-width="0.3" textLength="45.1" lengthAdjust="spacingAndGlyphs">1000</text>
<text x="1473.9" y="744.7" font-size="19.5" stroke="#000" stroke-width="0.3" textLength="45.1" lengthAdjust="spacingAndGlyphs">1500</text>
<text x="1549.7" y="744.7" font-size="19.5" stroke="#000" stroke-width="0.3" textLength="45.1" lengthAdjust="spacingAndGlyphs">2000</text>
<text x="1372.9" y="767.4" font-size="19.5" stroke="#000" stroke-width="0.3" textLength="93.6" lengthAdjust="spacingAndGlyphs">time [ms]</text>
<text transform="translate(1225.1 597) scale(0.92 1) rotate(-90)" font-size="21.2" text-anchor="middle" stroke="#000" stroke-width="0.35">I [normalized]</text>
<text x="1279" y="515.4" font-size="19.5" stroke="#000" stroke-width="0.3" textLength="174.4" lengthAdjust="spacingAndGlyphs">STIM1:Orai1 ratio</text>
<text x="1507" y="580" font-size="20" stroke="#000" stroke-width="0.3" textLength="29.9" lengthAdjust="spacingAndGlyphs">2:1</text>
<text x="1507" y="633.5" font-size="20" stroke="#DF3123" stroke-width="0.3" fill="#DF3123" textLength="29.9" lengthAdjust="spacingAndGlyphs">1:2</text>
<path d="M1262.7 971.3L1265.7 973L1266.2 1048.7L1266.7 1041.4L1267.2 1037.7L1267.6 1031.6L1268.1 1029.4L1268.5 1029.4L1269 1027.3L1269.4 1022.6L1269.9 1020.8L1270.4 1020.3L1270.8 1018.7L1271.3 1019.1L1271.7 1016.4L1272.2 1015L1272.6 1016.2L1273.1 1015.8L1273.5 1014.6L1274 1014.5L1274.5 1013.3L1274.9 1014.6L1275.4 1013.6L1275.8 1012.4L1276.3 1012L1276.7 1010.9L1277.2 1012.8L1277.7 1010.3L1278.1 1010L1278.6 1011.9L1279 1011.1L1279.5 1010.5L1279.9 1012.3L1280.4 1012.2L1280.8 1010.7L1281.3 1012.5L1281.8 1011.6L1282.2 1010.9L1282.7 1010.9L1283.1 1009.4L1283.6 1009.7L1284 1010.3L1284.5 1008.2L1284.9 1009.8L1285.4 1010.1L1285.9 1011L1286.3 1009.4L1286.8 1010.3L1287.2 1009.6L1287.7 1009.8L1288.1 1010.3L1288.6 1008.6L1289 1009.1L1289.5 1011.1L1290 1009.8L1290.4 1010.7L1290.9 1007.8L1291.3 1009.9L1291.8 1009.7L1292.2 1009.1L1292.7 1008.1L1293.1 1010.6L1293.6 1009.7L1294.1 1007.9L1294.5 1006.8L1295 1007.8L1295.4 1008.6L1295.9 1009.1L1296.3 1009.4L1296.8 1006.4L1297.2 1006.2L1297.7 1007.8L1298.2 1007.1L1298.6 1008.4L1299.1 1009.7L1299.5 1006.3L1300 1009.3L1300.4 1008.9L1300.9 1008.2L1301.3 1007.7L1301.8 1008.4L1302.3 1008.5L1302.7 1007.4L1303.2 1007.3L1303.6 1008.2L1304.1 1007.3L1304.5 1008.7L1305 1009.2L1305.4 1009.1L1305.9 1008.3L1306.4 1007.1L1306.8 1007.3L1307.3 1008.8L1307.7 1008.3L1308.2 1007.2L1308.6 1006.6L1309.1 1006L1309.5 1007.2L1310 1007.9L1310.5 1006.1L1310.9 1006.6L1311.4 1006.7L1311.8 1005.1L1312.3 1006.7L1312.7 1008.1L1313.2 1005.8L1313.7 1005.8L1314.1 1008.3L1314.6 1006.9L1315 1006.6L1315.5 1007.3L1315.9 1007.2L1316.4 1005.6L1316.8 1005.8L1317.3 1006L1317.8 1006.5L1318.2 1006.9L1318.7 1006.7L1319.1 1006L1319.6 1005L1320 1007L1320.5 1006.6L1320.9 1008.5L1321.4 1006.8L1321.9 1004.6L1322.3 1006.6L1322.8 1005.7L1323.2 1005.4L1323.7 1005.7L1324.1 1007.6L1324.6 1005.4L1325 1006.9L1325.5 1006.5L1326 1007.1L1326.4 1007.1L1326.9 1006.2L1327.3 1007.2L1327.8 1006.3L1328.2 1005.3L1328.7 1007.3L1329.1 1007.4L1329.6 1006.8L1330.1 1005.1L1330.5 1006.4L1331 1006.9L1331.4 1006.9L1331.9 1005.4L1332.3 1005.8L1332.8 1006.7L1333.2 1006.6L1333.7 1004.1L1334.2 1005.7L1334.6 1006.1L1335.1 1009L1335.5 1007.9L1336 1008.6L1336.4 1007.2L1336.9 1006.3L1337.3 1006.9L1337.8 1006.3L1338.3 1006.5L1338.7 1005L1339.2 1005.2L1339.6 1007.5L1340.1 1005.7L1340.5 1007.4L1341 1006.1L1341.4 1008L1341.9 1007.4L1342.4 1004.9L1342.8 1008.3L1343.3 1009.5L1343.7 1005.6L1344.2 1004.6L1344.6 1005.5L1345.1 1006.6L1345.6 1006.8L1346 1007L1346.5 1005.1L1346.9 1005.1L1347.4 1005.9L1347.8 1006.8L1348.3 1007.4L1348.7 1007.2L1349.2 1006.9L1349.7 1006.5L1350.1 1006.3L1350.6 1007.7L1351 1007L1351.5 1006.5L1351.9 1008.3L1352.4 1007.2L1352.8 1007L1353.3 1010.1L1353.8 1007.4L1354.2 1008.3L1354.7 1007.5L1355.1 1006.8L1355.6 1007.3L1356 1005.9L1356.5 1006.5L1356.9 1010L1357.4 1007.9L1357.9 1005.3L1358.3 1005.7L1358.8 1005.1L1359.2 1004.7L1359.7 1006.7L1360.1 1005L1360.6 1007.7L1361 1006.9L1361.5 1005.1L1362 1007L1362.4 1006.5L1362.9 1007.2L1363.3 1006.5L1363.8 1008L1364.2 1006.3L1364.7 1005.3L1365.1 1007.2L1365.6 1006.4L1366.1 1006.5L1366.5 1006.8L1367 1004.7L1367.4 1007.6L1367.9 1006.3L1368.3 1006.1L1368.8 1007.2L1369.2 1006.3L1369.7 1007.2L1370.2 1006L1370.6 1006.2L1371.1 1005L1371.5 1006.4L1372 1005.4L1372.4 1005.5L1372.9 1007.2L1373.3 1004.2L1373.8 1005.9L1374.3 1005.4L1374.7 1006.4L1375.2 1006.4L1375.6 1007.2L1376.1 1005.7L1376.5 1005.3L1377 1004.6L1377.4 1005.1L1377.9 1005.9L1378.4 1006.1L1378.8 1006.3L1379.3 1006.5L1379.7 1005.6L1380.2 1005.4L1380.6 1006.1L1381.1 1006.4L1381.6 1006.9L1382 1005.9L1382.5 1006.2L1382.9 1007.3L1383.4 1005.2L1383.8 1006.9L1384.3 1007.1L1384.7 1005.6L1385.2 1005.7L1385.7 1005.1L1386.1 1005.2L1386.6 1004L1387 1006.1L1387.5 1003.5L1387.9 1004.1L1388.4 1005.6L1388.8 1005.3L1389.3 1006.8L1389.8 1006.2L1390.2 1004.2L1390.7 1004L1391.1 1004.7L1391.6 1006.4L1392 1006L1392.5 1006L1392.9 1007.6L1393.4 1004L1393.9 1005.5L1394.3 1006.2L1394.8 1006.1L1395.2 1006L1395.7 1004.6L1396.1 1004.3L1396.6 1004.1L1397 1005.6L1397.5 1005.4L1398 1004.6L1398.4 1003.3L1398.9 1005.2L1399.3 1003.8L1399.8 1003.4L1400.2 1003.5L1400.7 1006.9L1401.1 1004.1L1401.6 1003.9L1402.1 1004.1L1402.5 1004.6L1403 1005.9L1403.4 1007.3L1403.9 1007.6L1404.3 1006.1L1404.8 1005.4L1405.2 1004.3L1405.7 1003.1L1406.2 1002.6L1406.6 1003.5L1407.1 1004.3L1407.5 1004.1L1408 1003.5L1408.4 1005.2L1408.9 1004.3L1409.3 1002.8L1409.8 1004.3L1410.3 1007.1L1410.7 1004.5L1411.2 1005.2L1411.6 1004.8L1412.1 1005L1412.5 1005.6L1413 1005.6L1413.4 1007.2L1413.9 1004.1L1414.4 1005.6L1414.8 1005.4L1415.3 1008.1L1415.7 1006.7L1416.2 1004.5L1416.6 1004.3L1417.1 1003.5L1417.6 1003.5L1418 1004.2L1418.5 1004.8L1418.9 1005.9L1419.4 1005.4L1419.8 1004L1420.3 1004.6L1420.7 1004L1421.2 1005.3L1421.7 1003.5L1422.1 1006.3L1422.6 1005.8L1423 1004L1423.5 1003.2L1423.9 1002.4L1424.4 1002.9L1424.8 1004.2L1425.3 1004.6L1425.8 1005.4L1426.2 1006.2L1426.7 1005.8L1427.1 1004.1L1427.6 1002.5L1428 1003.3L1428.5 1004.5L1428.9 1001.6L1429.4 1004.4L1429.9 1002.8L1430.3 1003.1L1430.8 1001.3L1431.2 1003.2L1431.7 1002.7L1432.1 1002.6L1432.6 1001.1L1433 1001.9L1433.5 1002.4L1434 1002.6L1434.4 1002.6L1434.9 1002.9L1435.3 1001.8L1435.8 1002.4L1436.2 1003.3L1436.7 1003.2L1437.1 1002.6L1437.6 1003.7L1438.1 1000.7L1438.5 1001.3L1439 1002.1L1439.4 1000.8L1439.9 1001.6L1440.3 1001.6L1440.8 1000.8L1441.2 1001L1441.7 1000.8L1442.2 1000.8L1442.6 1001.4L1443.1 1002.1L1443.5 1002.7L1444 1001.6L1444.4 999.9L1444.9 1000.6L1445.3 1002.3L1445.8 999.5L1446.3 1001.7L1446.7 1000.1L1447.2 1002.8L1447.6 1003.1L1448.1 1002.2L1448.5 1002.2L1449 1001.1L1449.4 1003.3L1449.9 1000.1L1450.4 1002L1450.8 1002.8L1451.3 1004.8L1451.7 1001.8L1452.2 1001.1L1452.6 1001.8L1453.1 1001.9L1453.6 1000.9L1454 1001L1454.5 1001.9L1454.9 1001.7L1455.4 1000.7L1455.8 1001.5L1456.3 1003.3L1456.7 1001.5L1457.2 1000.8L1457.7 1002.3L1458.1 1001.9L1458.6 1002.7L1459 1001.6L1459.5 1002.5L1459.9 1002.3L1460.4 1003.1L1460.8 1002.1L1461.3 1001.8L1461.8 1002L1462.2 1004.2L1462.7 1002.5L1463.1 1002.9L1463.6 1003.5L1464 1004L1464.5 1002.7L1464.9 1003.7L1465.4 1003.1L1465.9 1002.8L1466.3 1002.6L1466.8 1001.5L1467.2 1001.6L1467.7 1003.5L1468.1 1004.6L1468.6 1004.4L1469 1002.9L1469.5 1002.7L1470 1003.6L1470.4 1005L1470.9 1003.7L1471.3 1002.3L1471.8 1003.4L1472.2 1003.8L1472.7 1002.1L1473.1 1002.1L1473.6 1004.8L1474.1 1000.3L1474.5 1001.7L1475 1003.6L1475.4 1003.6L1475.9 1003.7L1476.3 1001.3L1476.8 1002.5L1477.2 1003.1L1477.7 1003.1L1478.2 1002.7L1478.6 1003.1L1479.1 1002L1479.5 1002.5L1480 1003.4L1480.4 1003.2L1480.9 1002.5L1481.3 1003.6L1481.8 1003.9L1482.3 1002.2L1482.7 1002.6L1483.2 1003L1483.6 1003.7L1484.1 1000.7L1484.5 1002.3L1485 1003.4L1485.5 1002.2L1485.9 1001.6L1486.4 1002L1486.8 1002.2L1487.3 1002.6L1487.7 1001.3L1488.2 1002.5L1488.6 1003.2L1489.1 1001.7L1489.6 1003.1L1490 1003.6L1490.5 1000.5L1490.9 1001.6L1491.4 1001.1L1491.8 1001.7L1492.3 1001.7L1492.7 1001.2L1493.2 1000.4L1493.7 1002L1494.1 1001.5" fill="none" stroke="#000" stroke-width="2.2" stroke-linejoin="round"/>
<path d="M1262.7 971.3L1266.3 971.3L1266.5 1048.7L1266.7 1047.5L1267.2 1048.9L1267.6 1053.4L1268.1 1053L1268.5 1056.5L1269 1058.5L1269.4 1058.4L1269.9 1060.5L1270.4 1061.1L1270.8 1063.9L1271.3 1066L1271.7 1068.9L1272.2 1067.7L1272.6 1070.1L1273.1 1070.3L1273.5 1071.6L1274 1074.5L1274.5 1073.4L1274.9 1074.8L1275.4 1077.2L1275.8 1077.5L1276.3 1077.5L1276.7 1079.7L1277.2 1080.4L1277.7 1080.2L1278.1 1082.8L1278.6 1084.4L1279 1085.1L1279.5 1086.4L1279.9 1086.1L1280.4 1087.1L1280.8 1087.9L1281.3 1090.8L1281.8 1090L1282.2 1091.6L1282.7 1093L1283.1 1092.7L1283.6 1093.1L1284 1094.7L1284.5 1096.6L1284.9 1099.1L1285.4 1099.8L1285.9 1099.8L1286.3 1099L1286.8 1101.2L1287.2 1102.5L1287.7 1103.6L1288.1 1105.3L1288.6 1106.8L1289 1106.3L1289.5 1107.9L1290 1109.4L1290.4 1108.5L1290.9 1108.5L1291.3 1109.4L1291.8 1109.7L1292.2 1110.4L1292.7 1113.7L1293.1 1114.1L1293.6 1112.4L1294.1 1113L1294.5 1116.2L1295 1115.4L1295.4 1117.2L1295.9 1116.4L1296.3 1117.8L1296.8 1118.4L1297.2 1118.8L1297.7 1119.7L1298.2 1119L1298.6 1119.8L1299.1 1120.4L1299.5 1122.1L1300 1121.4L1300.4 1120.6L1300.9 1123.1L1301.3 1122.7L1301.8 1122.6L1302.3 1123.8L1302.7 1125L1303.2 1125L1303.6 1125.7L1304.1 1126.6L1304.5 1127.7L1305 1126.1L1305.4 1127.2L1305.9 1127.7L1306.4 1127.2L1306.8 1128.1L1307.3 1127.5L1307.7 1129.2L1308.2 1129.6L1308.6 1128.6L1309.1 1127.5L1309.5 1126.9L1310 1128.2L1310.5 1130L1310.9 1128.9L1311.4 1130.8L1311.8 1134L1312.3 1132.5L1312.7 1132.4L1313.2 1132.2L1313.7 1135.3L1314.1 1133.4L1314.6 1134.5L1315 1133.6L1315.5 1133.7L1315.9 1133.9L1316.4 1132.5L1316.8 1133.2L1317.3 1133.2L1317.8 1134.5L1318.2 1136.4L1318.7 1136.1L1319.1 1137.8L1319.6 1136.6L1320 1136.5L1320.5 1137.2L1320.9 1138L1321.4 1136.9L1321.9 1137.8L1322.3 1137.2L1322.8 1137.2L1323.2 1138.1L1323.7 1137.8L1324.1 1137.8L1324.6 1139.5L1325 1139.4L1325.5 1138.2L1326 1138.1L1326.4 1138.4L1326.9 1138.4L1327.3 1139.4L1327.8 1140.8L1328.2 1140.3L1328.7 1139.9L1329.1 1140.6L1329.6 1140.7L1330.1 1140L1330.5 1139.5L1331 1139.6L1331.4 1141.3L1331.9 1141.2L1332.3 1142.1L1332.8 1140.6L1333.2 1139.1L1333.7 1140.4L1334.2 1140.2L1334.6 1141.2L1335.1 1141.8L1335.5 1142.1L1336 1142.1L1336.4 1142.1L1336.9 1141.5L1337.3 1141.3L1337.8 1142.5L1338.3 1145.6L1338.7 1146L1339.2 1144.5L1339.6 1144.8L1340.1 1143.2L1340.5 1143.2L1341 1143.6L1341.4 1143L1341.9 1144.1L1342.4 1146.3L1342.8 1143.9L1343.3 1146.3L1343.7 1144L1344.2 1144.5L1344.6 1145L1345.1 1144.4L1345.6 1144.6L1346 1145L1346.5 1145.7L1346.9 1144.4L1347.4 1145L1347.8 1144.7L1348.3 1144.2L1348.7 1145.1L1349.2 1146.2L1349.7 1147.4L1350.1 1147.4L1350.6 1146.4L1351 1147.7L1351.5 1146.2L1351.9 1145.3L1352.4 1146.1L1352.8 1145.8L1353.3 1145.6L1353.8 1146.9L1354.2 1146.6L1354.7 1146.3L1355.1 1147.4L1355.6 1145L1356 1146.1L1356.5 1146.5L1356.9 1147.1L1357.4 1146.5L1357.9 1145L1358.3 1146.7L1358.8 1145.6L1359.2 1145.4L1359.7 1145.2L1360.1 1143.6L1360.6 1145.1L1361 1145.4L1361.5 1146.3L1362 1146.8L1362.4 1145.9L1362.9 1145.3L1363.3 1145.9L1363.8 1147L1364.2 1145.4L1364.7 1145.8L1365.1 1147L1365.6 1144.5L1366.1 1145.4L1366.5 1146.3L1367 1145.8L1367.4 1143.9L1367.9 1145L1368.3 1145.4L1368.8 1147.8L1369.2 1145.6L1369.7 1146.6L1370.2 1145.8L1370.6 1145.8L1371.1 1145.2L1371.5 1144.9L1372 1145.6L1372.4 1146.5L1372.9 1145.1L1373.3 1145.3L1373.8 1144.9L1374.3 1143.1L1374.7 1143.9L1375.2 1143.6L1375.6 1145.2L1376.1 1143L1376.5 1144.7L1377 1145.3L1377.4 1145.8L1377.9 1145.2L1378.4 1144.8L1378.8 1145L1379.3 1145.2L1379.7 1143.6L1380.2 1145.3L1380.6 1144.3L1381.1 1145.6L1381.6 1144.3L1382 1145.6L1382.5 1145.8L1382.9 1143L1383.4 1142.3L1383.8 1143.6L1384.3 1146.3L1384.7 1145.8L1385.2 1144.6L1385.7 1144.8L1386.1 1145.4L1386.6 1143.9L1387 1144.6L1387.5 1144.6L1387.9 1144.1L1388.4 1144.5L1388.8 1142L1389.3 1143.1L1389.8 1146L1390.2 1145L1390.7 1146L1391.1 1142.1L1391.6 1142.9L1392 1143.8L1392.5 1144L1392.9 1143.5L1393.4 1144.1L1393.9 1144L1394.3 1143.8L1394.8 1144.5L1395.2 1143L1395.7 1144L1396.1 1143.8L1396.6 1142.8L1397 1142.5L1397.5 1144L1398 1143.6L1398.4 1144.5L1398.9 1143.7L1399.3 1144L1399.8 1143.6L1400.2 1143.9L1400.7 1142.9L1401.1 1143.2L1401.6 1143.4L1402.1 1143.5L1402.5 1141.3L1403 1142.1L1403.4 1142.6L1403.9 1143L1404.3 1143.6L1404.8 1142.4L1405.2 1141.9L1405.7 1142.4L1406.2 1143.6L1406.6 1142.4L1407.1 1143.2L1407.5 1144.2L1408 1141.9L1408.4 1142.4L1408.9 1142.6L1409.3 1141.7L1409.8 1142.7L1410.3 1143.2L1410.7 1140.6L1411.2 1143.2L1411.6 1143.6L1412.1 1143.1L1412.5 1144.8L1413 1143L1413.4 1143.7L1413.9 1145.3L1414.4 1143.4L1414.8 1144.9L1415.3 1143.7L1415.7 1144L1416.2 1143L1416.6 1141L1417.1 1143.1L1417.6 1143.3L1418 1142.7L1418.5 1143L1418.9 1142.3L1419.4 1143L1419.8 1144L1420.3 1143.4L1420.7 1142.9L1421.2 1142.7L1421.7 1142.8L1422.1 1142.8L1422.6 1142L1423 1141.4L1423.5 1141.3L1423.9 1142.1L1424.4 1142.3L1424.8 1144L1425.3 1141.6L1425.8 1142.8L1426.2 1142.9L1426.7 1141.7L1427.1 1142L1427.6 1140.1L1428 1139.3L1428.5 1141.4L1428.9 1139.2L1429.4 1139.3L1429.9 1137.9L1430.3 1139.3L1430.8 1139.6L1431.2 1139.6L1431.7 1140.1L1432.1 1140.4L1432.6 1140.9L1433 1140.1L1433.5 1139.1L1434 1138.9L1434.4 1138.3L1434.9 1141.2L1435.3 1137L1435.8 1139.1L1436.2 1138.7L1436.7 1138.9L1437.1 1141.5L1437.6 1137.8L1438.1 1136.7L1438.5 1139.9L1439 1139.2L1439.4 1138.2L1439.9 1137.9L1440.3 1137.5L1440.8 1137.1L1441.2 1137.2L1441.7 1137.8L1442.2 1137L1442.6 1139.6L1443.1 1136.3L1443.5 1135.8L1444 1137.8L1444.4 1138.2L1444.9 1138.6L1445.3 1137.3L1445.8 1138.8L1446.3 1136.8L1446.7 1135.6L1447.2 1137.9L1447.6 1138.2L1448.1 1137L1448.5 1135.8L1449 1136.5L1449.4 1136.7L1449.9 1136.6L1450.4 1137.5L1450.8 1137.5L1451.3 1138.4L1451.7 1138.8L1452.2 1137.3L1452.6 1137.4L1453.1 1137.6L1453.6 1136.8L1454 1137.1L1454.5 1136.8L1454.9 1138.2L1455.4 1138.3L1455.8 1134.9L1456.3 1136.3L1456.7 1137.4L1457.2 1135.2L1457.7 1137.3L1458.1 1136.2L1458.6 1136.1L1459 1137.7L1459.5 1136.6L1459.9 1136.3L1460.4 1139.5L1460.8 1136.4L1461.3 1136.8L1461.8 1137.2L1462.2 1137.2L1462.7 1136.8L1463.1 1136.7L1463.6 1136.8L1464 1135L1464.5 1133.4L1464.9 1136.7L1465.4 1134.6L1465.9 1135.8L1466.3 1132.8L1466.8 1132.8L1467.2 1135.7L1467.7 1136.4L1468.1 1136.9L1468.6 1136.5L1469 1136.3L1469.5 1138.5L1470 1137.5L1470.4 1136.8L1470.9 1135.6L1471.3 1136.1L1471.8 1136.3L1472.2 1135.8L1472.7 1135.4L1473.1 1131.5L1473.6 1135.2L1474.1 1134.5L1474.5 1135.5L1475 1134.4L1475.4 1134.8L1475.9 1136.3L1476.3 1137.5L1476.8 1135.9L1477.2 1139.2L1477.7 1137.3L1478.2 1136.9L1478.6 1136.3L1479.1 1136L1479.5 1133.9L1480 1134.4L1480.4 1135L1480.9 1135L1481.3 1135.6L1481.8 1135.3L1482.3 1134.6L1482.7 1135.2L1483.2 1136.3L1483.6 1135.6L1484.1 1134L1484.5 1135.1L1485 1134.6L1485.5 1134.6L1485.9 1133.4L1486.4 1134.1L1486.8 1136.2L1487.3 1133.9L1487.7 1131.8L1488.2 1133.5L1488.6 1132.5L1489.1 1131L1489.6 1133.3L1490 1132.2L1490.5 1132.7L1490.9 1133.2L1491.4 1131.9L1491.8 1133.4L1492.3 1132L1492.7 1131.2L1493.2 1130.5L1493.7 1131.7L1494.1 1131.5" fill="none" stroke="#DF3123" stroke-width="2.4" stroke-linejoin="round"/>
<path d="M1257.4 962.7H1566.2" stroke="#000" stroke-width="1.5"/>
<path d="M1262.4 920V1152.5" stroke="#000" stroke-width="1.9"/>
<path d="M1261.4 1151.5H1494.2" stroke="#000" stroke-width="1.9"/>
<path d="M1494.2 1151.9H1566.2" stroke="#000" stroke-width="1"/>
<path d="M1259.8 919.7H1262.4" stroke="#000" stroke-width="1.5"/>
<path d="M1257.2 962.7H1262.4" stroke="#000" stroke-width="1.5"/>
<path d="M1259.8 1005.7H1262.4" stroke="#000" stroke-width="1.5"/>
<path d="M1257.2 1048.7H1262.4" stroke="#000" stroke-width="1.5"/>
<path d="M1259.8 1091.7H1262.4" stroke="#000" stroke-width="1.5"/>
<path d="M1257.2 1134.7H1262.4" stroke="#000" stroke-width="1.5"/>
<path d="M1259.8 920.7H1262.4" stroke="#000" stroke-width="1.4"/>
<text x="1243.1" y="969.7" font-size="19.5" stroke="#000" stroke-width="0.3" textLength="11.3" lengthAdjust="spacingAndGlyphs">0</text>
<text x="1236.4" y="1055.7" font-size="19.5" stroke="#000" stroke-width="0.3" textLength="18" lengthAdjust="spacingAndGlyphs">-1</text>
<text x="1236.4" y="1141.7" font-size="19.5" stroke="#000" stroke-width="0.3" textLength="18" lengthAdjust="spacingAndGlyphs">-2</text>
<path d="M1262.4 1151.5V1156.5" stroke="#000" stroke-width="1.5"/>
<path d="M1300.4 1151.5V1154.3" stroke="#000" stroke-width="1.5"/>
<path d="M1338.4 1151.5V1156.5" stroke="#000" stroke-width="1.5"/>
<path d="M1376.3 1151.5V1154.3" stroke="#000" stroke-width="1.5"/>
<path d="M1414.3 1151.5V1156.5" stroke="#000" stroke-width="1.5"/>
<path d="M1452.3 1151.5V1154.3" stroke="#000" stroke-width="1.5"/>
<path d="M1490.2 1151.5V1156.5" stroke="#000" stroke-width="1.5"/>
<path d="M1528.2 1151.5V1154.3" stroke="#000" stroke-width="1.2"/>
<path d="M1566.2 1151.5V1156.5" stroke="#000" stroke-width="1.2"/>
<text x="1256.8" y="1176.3" font-size="19.5" stroke="#000" stroke-width="0.3" textLength="11.3" lengthAdjust="spacingAndGlyphs">0</text>
<text x="1321.4" y="1176.3" font-size="19.5" stroke="#000" stroke-width="0.3" textLength="33.8" lengthAdjust="spacingAndGlyphs">500</text>
<text x="1391.7" y="1176.3" font-size="19.5" stroke="#000" stroke-width="0.3" textLength="45.1" lengthAdjust="spacingAndGlyphs">1000</text>
<text x="1467.7" y="1176.3" font-size="19.5" stroke="#000" stroke-width="0.3" textLength="45.1" lengthAdjust="spacingAndGlyphs">1500</text>
<text x="1543.6" y="1176.3" font-size="19.5" stroke="#000" stroke-width="0.3" textLength="45.1" lengthAdjust="spacingAndGlyphs">2000</text>
<text x="1366.6" y="1198.5" font-size="19.5" stroke="#000" stroke-width="0.3" textLength="93.6" lengthAdjust="spacingAndGlyphs">time [ms]</text>
<text transform="translate(1218.1 1028) scale(0.92 1) rotate(-90)" font-size="21.2" text-anchor="middle" stroke="#000" stroke-width="0.35">I [normalized]</text>
<text x="1272.6" y="947.7" font-size="19.5" stroke="#000" stroke-width="0.3" textLength="284.3" lengthAdjust="spacingAndGlyphs">constitutive Orai TM  mutant</text>
<text x="1502" y="1011.2" font-size="20" stroke="#000" stroke-width="0.3" textLength="78.8" lengthAdjust="spacingAndGlyphs">+ STIM1</text>
<text x="1503.7" y="1130.4" font-size="20" stroke="#DF3123" stroke-width="0.3" fill="#DF3123" textLength="73.6" lengthAdjust="spacingAndGlyphs">- STIM1</text>
<path d="M1272.5 1442.6L1275.8 1442.6L1276.1 1518.1L1276.3 1516.5L1276.7 1514.4L1277.2 1512.3L1277.7 1513.1L1278.1 1510.2L1278.6 1508.9L1279 1507.7L1279.5 1505.5L1279.9 1503.7L1280.4 1505.4L1280.8 1507.6L1281.3 1506.1L1281.7 1503.1L1282.2 1502.3L1282.7 1504L1283.1 1504.6L1283.6 1504.7L1284 1502.2L1284.5 1501.1L1284.9 1502.5L1285.4 1499.5L1285.8 1500.8L1286.3 1500.6L1286.8 1502.4L1287.2 1502.4L1287.7 1506L1288.1 1504.4L1288.6 1500.5L1289 1502.6L1289.5 1501.8L1289.9 1503.9L1290.4 1502.1L1290.9 1497.6L1291.3 1501.2L1291.8 1498.3L1292.2 1497.3L1292.7 1498.5L1293.1 1498.9L1293.6 1499.3L1294 1499.2L1294.5 1500.5L1295 1499.9L1295.4 1503L1295.9 1499.7L1296.3 1500.5L1296.8 1499.9L1297.2 1500L1297.7 1502.1L1298.1 1500.2L1298.6 1498.9L1299 1500L1299.5 1498.2L1300 1498.8L1300.4 1500.4L1300.9 1501.6L1301.3 1500.3L1301.8 1502.7L1302.2 1503.6L1302.7 1501.3L1303.1 1500L1303.6 1501.5L1304.1 1499.2L1304.5 1502.3L1305 1500.5L1305.4 1500.4L1305.9 1498.7L1306.3 1498.8L1306.8 1498.5L1307.2 1501L1307.7 1498.1L1308.2 1500.5L1308.6 1500.7L1309.1 1501.8L1309.5 1502.1L1310 1502L1310.4 1501.1L1310.9 1501.7L1311.3 1502.3L1311.8 1499.8L1312.3 1500.2L1312.7 1500L1313.2 1499.3L1313.6 1500.2L1314.1 1500L1314.5 1500.3L1315 1500.4L1315.4 1500.6L1315.9 1502L1316.3 1503.1L1316.8 1500.5L1317.3 1500.9L1317.7 1500.7L1318.2 1502L1318.6 1498.7L1319.1 1499.4L1319.5 1502.9L1320 1501.4L1320.4 1501.5L1320.9 1502.2L1321.4 1503.6L1321.8 1501.7L1322.3 1501.3L1322.7 1501.3L1323.2 1502.7L1323.6 1502.5L1324.1 1503.1L1324.5 1504.6L1325 1505.5L1325.5 1502L1325.9 1502.5L1326.4 1499.8L1326.8 1503.9L1327.3 1504.4L1327.7 1504.2L1328.2 1504.6L1328.6 1503L1329.1 1504.1L1329.6 1504.6L1330 1504.1L1330.5 1506.3L1330.9 1506L1331.4 1504.1L1331.8 1503.5L1332.3 1504.9L1332.7 1504.9L1333.2 1504.6L1333.6 1502.7L1334.1 1503.5L1334.6 1504.1L1335 1503.2L1335.5 1504.5L1335.9 1503.9L1336.4 1505.9L1336.8 1504.9L1337.3 1502.5L1337.7 1506.2L1338.2 1506.4L1338.7 1505.6L1339.1 1504.2L1339.6 1505.6L1340 1503.2L1340.5 1504.8L1340.9 1504.1L1341.4 1502L1341.8 1505L1342.3 1505.6L1342.8 1506.2L1343.2 1507.8L1343.7 1506.4L1344.1 1506.1L1344.6 1507.1L1345 1507.1L1345.5 1506.5L1345.9 1505.6L1346.4 1508.3L1346.8 1507.6L1347.3 1508.6L1347.8 1510.8L1348.2 1507.5L1348.7 1508.4L1349.1 1508L1349.6 1511.1L1350 1510.9L1350.5 1508.3L1350.9 1508.9L1351.4 1510.1L1351.9 1513.1L1352.3 1510.9L1352.8 1509.5L1353.2 1508.4L1353.7 1509L1354.1 1507.8L1354.6 1509L1355 1510.2L1355.5 1511.6L1356 1509.9L1356.4 1508.7L1356.9 1509.4L1357.3 1504.9L1357.8 1510.1L1358.2 1508.3L1358.7 1507.2L1359.1 1506.9L1359.6 1505.2L1360.1 1509.6L1360.5 1505.6L1361 1508.1L1361.4 1507.5L1361.9 1506.5L1362.3 1505.2L1362.8 1505.2L1363.2 1505.4L1363.7 1507.1L1364.1 1504.9L1364.6 1508.4L1365.1 1507.8L1365.5 1507.8L1366 1508.3L1366.4 1509.4L1366.9 1507.8L1367.3 1506.7L1367.8 1509.1L1368.2 1509.9L1368.7 1507.2L1369.2 1507.8L1369.6 1505.8L1370.1 1506L1370.5 1508.7L1371 1508.3L1371.4 1509.4L1371.9 1507.8L1372.3 1511.5L1372.8 1512.2L1373.3 1507.5L1373.7 1511.4L1374.2 1511.5L1374.6 1509.8L1375.1 1510.8L1375.5 1510.1L1376 1507.1L1376.4 1510.4L1376.9 1510.2L1377.4 1509.6L1377.8 1511.5L1378.3 1511L1378.7 1508.5L1379.2 1509.1L1379.6 1508.3L1380.1 1512L1380.5 1511.7L1381 1513.2L1381.4 1511.7L1381.9 1511.7L1382.4 1510.4L1382.8 1511.3L1383.3 1510.3L1383.7 1509.9L1384.2 1509.6L1384.6 1508.9L1385.1 1510.4L1385.5 1508.1L1386 1510.9L1386.5 1513.9L1386.9 1511.7L1387.4 1510.6L1387.8 1516L1388.3 1516.1L1388.7 1515.6L1389.2 1511.7L1389.6 1510.4L1390.1 1509.1L1390.6 1510.4L1391 1513.4L1391.5 1514.4L1391.9 1512.8L1392.4 1511.6L1392.8 1509.2L1393.3 1511.5L1393.7 1513.8L1394.2 1513.1L1394.7 1512.7L1395.1 1514.1L1395.6 1513.3L1396 1512.9L1396.5 1514.4L1396.9 1511L1397.4 1511.3L1397.8 1510.6L1398.3 1513.4L1398.7 1512.6L1399.2 1514.5L1399.7 1512.7L1400.1 1510.3L1400.6 1512.2L1401 1512.5L1401.5 1511.9L1401.9 1514.2L1402.4 1514.3L1402.8 1511.6L1403.3 1513.1L1403.8 1511.2L1404.2 1514.8L1404.7 1513.5L1405.1 1514.2L1405.6 1514L1406 1515L1406.5 1514.8L1406.9 1516.1L1407.4 1514L1407.9 1512.1L1408.3 1513.4L1408.8 1510.4L1409.2 1513.5L1409.7 1514.1L1410.1 1513.5L1410.6 1515.7L1411 1515.8L1411.5 1515.6L1412 1515.5L1412.4 1514.1L1412.9 1515.4L1413.3 1515.4L1413.8 1513.8L1414.2 1513.6L1414.7 1512.6L1415.1 1512.3L1415.6 1514.4L1416 1514.1L1416.5 1515.6L1417 1512.6L1417.4 1514.6L1417.9 1514.2L1418.3 1515L1418.8 1516.6L1419.2 1514.9L1419.7 1515.4L1420.1 1514.8L1420.6 1518.2L1421.1 1516.4L1421.5 1515.7L1422 1516.4L1422.4 1515.1L1422.9 1514.6L1423.3 1514.7L1423.8 1514.9L1424.2 1514L1424.7 1514.8L1425.2 1513L1425.6 1514.3L1426.1 1517.3L1426.5 1518.1L1427 1515L1427.4 1515.6L1427.9 1515.3L1428.3 1517.3L1428.8 1519.5L1429.3 1520.3L1429.7 1519L1430.2 1516.5L1430.6 1517.5L1431.1 1517.3L1431.5 1516.1L1432 1516.1L1432.4 1517.1L1432.9 1516.7L1433.3 1516.8L1433.8 1519.3L1434.3 1517.3L1434.7 1519L1435.2 1519.5L1435.6 1519.9L1436.1 1519.9L1436.5 1516.6L1437 1520.1L1437.4 1516.6L1437.9 1516.2L1438.4 1517L1438.8 1517.8L1439.3 1519.2L1439.7 1519L1440.2 1519.2L1440.6 1521.9L1441.1 1521L1441.5 1517.4L1442 1517.2L1442.5 1517L1442.9 1517.6L1443.4 1518.5L1443.8 1519.2L1444.3 1515.2L1444.7 1515.2L1445.2 1516.8L1445.6 1519.8L1446.1 1517.5L1446.5 1517.3L1447 1517.2L1447.5 1517.9L1447.9 1514.8L1448.4 1517.4L1448.8 1518.8L1449.3 1518.4L1449.7 1519.6L1450.2 1517.3L1450.6 1517.7L1451.1 1518.1L1451.6 1518.6L1452 1517.1L1452.5 1515.2L1452.9 1517.7L1453.4 1519.1L1453.8 1515.8L1454.3 1516.3L1454.7 1517.3L1455.2 1519.4L1455.7 1520.1L1456.1 1519.4L1456.6 1518.8L1457 1521.7L1457.5 1520.6L1457.9 1518.5L1458.4 1516L1458.8 1517.1L1459.3 1515.7L1459.8 1519.9L1460.2 1521.3L1460.7 1521.7L1461.1 1520.3L1461.6 1520.5L1462 1518.4L1462.5 1517.5L1462.9 1518.6L1463.4 1519.6L1463.8 1519.8L1464.3 1519.1L1464.8 1520.2L1465.2 1519.4L1465.7 1520.7L1466.1 1519.5L1466.6 1520.5L1467 1518L1467.5 1517.1L1467.9 1521L1468.4 1521.4L1468.9 1519.7L1469.3 1517.9L1469.8 1518.5L1470.2 1517.1L1470.7 1520.9L1471.1 1519.6L1471.6 1518.2L1472 1520L1472.5 1518.3L1473 1517.9L1473.4 1520.4L1473.9 1520.6L1474.3 1520.6L1474.8 1521.7L1475.2 1519.4L1475.7 1520.5L1476.1 1521.5L1476.6 1521.4L1477.1 1524.6L1477.5 1519.8L1478 1521.4L1478.4 1520L1478.9 1518.8L1479.3 1518.5L1479.8 1517.5L1480.2 1516.2L1480.7 1518L1481.1 1519.8L1481.6 1519.9L1482.1 1520.1L1482.5 1521.5L1483 1522.2L1483.4 1522.7L1483.9 1521.4L1484.3 1521.8L1484.8 1520.8L1485.2 1520.7L1485.7 1521L1486.2 1520.3L1486.6 1522.8L1487.1 1520.1L1487.5 1521.8L1488 1521.5L1488.4 1521.2L1488.9 1520.5L1489.3 1518.8L1489.8 1516.9L1490.3 1520.1L1490.7 1517.9L1491.2 1521.4L1491.6 1518L1492.1 1518.4L1492.5 1518.1L1493 1520.5L1493.4 1522L1493.9 1522.5L1494.4 1520.8L1494.8 1519.6L1495.3 1524.7L1495.7 1518.5L1496.2 1519.1L1496.6 1518.2L1497.1 1520.1L1497.5 1522.3L1498 1522.1L1498.4 1521L1498.9 1521.8L1499.4 1520.2L1499.8 1522.6L1500.3 1523.1L1500.7 1524.6L1501.2 1522.6L1501.6 1521.9L1502.1 1517.8L1502.5 1520.1L1503 1520.8L1503.5 1523.4L1503.9 1521.8" fill="none" stroke="#000" stroke-width="2.4" stroke-linejoin="round"/>
<path d="M1272.5 1442.6L1276.1 1442.6L1276.3 1523.2L1276.3 1517.1L1276.7 1515L1277.2 1515.3L1277.7 1515.8L1278.1 1518.1L1278.6 1515.7L1279 1517.3L1279.5 1515.9L1279.9 1516.1L1280.4 1516.4L1280.8 1517.4L1281.3 1518.6L1281.7 1518L1282.2 1518.8L1282.7 1518.7L1283.1 1518L1283.6 1517.9L1284 1517.7L1284.5 1517.5L1284.9 1517.1L1285.4 1519.6L1285.8 1519.9L1286.3 1520.4L1286.8 1521L1287.2 1519.8L1287.7 1519.8L1288.1 1518.8L1288.6 1520.4L1289 1520.7L1289.5 1520.3L1289.9 1520.3L1290.4 1520.4L1290.9 1519.3L1291.3 1519.7L1291.8 1522.3L1292.2 1520.7L1292.7 1520.2L1293.1 1521.8L1293.6 1522.2L1294 1522L1294.5 1521.5L1295 1523L1295.4 1524.7L1295.9 1521.8L1296.3 1522.3L1296.8 1521.8L1297.2 1522.5L1297.7 1524L1298.1 1526.1L1298.6 1523L1299 1526L1299.5 1525.4L1300 1525.2L1300.4 1527.2L1300.9 1525.7L1301.3 1528L1301.8 1526.7L1302.2 1526.7L1302.7 1528L1303.1 1527.1L1303.6 1527.3L1304.1 1528.3L1304.5 1526.3L1305 1528L1305.4 1529L1305.9 1529.6L1306.3 1528.9L1306.8 1530.8L1307.2 1529.3L1307.7 1530.3L1308.2 1529.9L1308.6 1530.8L1309.1 1531L1309.5 1530.5L1310 1530.8L1310.4 1528.3L1310.9 1529.6L1311.3 1530.7L1311.8 1531.2L1312.3 1531.5L1312.7 1532.3L1313.2 1531L1313.6 1531.6L1314.1 1531.6L1314.5 1533.1L1315 1534.5L1315.4 1532.8L1315.9 1531.7L1316.3 1532.5L1316.8 1534.4L1317.3 1533.7L1317.7 1534.2L1318.2 1531.8L1318.6 1533.6L1319.1 1533.1L1319.5 1535L1320 1533.1L1320.4 1531.6L1320.9 1534.5L1321.4 1535.2L1321.8 1535.6L1322.3 1536.7L1322.7 1535.2L1323.2 1534.7L1323.6 1535.5L1324.1 1535.1L1324.5 1535.8L1325 1536.5L1325.5 1537.3L1325.9 1537.7L1326.4 1536.9L1326.8 1538.7L1327.3 1538.1L1327.7 1537.5L1328.2 1536.2L1328.6 1538L1329.1 1539.9L1329.6 1538.5L1330 1537.6L1330.5 1539.3L1330.9 1539.2L1331.4 1538.3L1331.8 1538.3L1332.3 1538.6L1332.7 1537.4L1333.2 1538.4L1333.6 1538L1334.1 1537.9L1334.6 1539.3L1335 1539.1L1335.5 1538.8L1335.9 1540.1L1336.4 1539.1L1336.8 1539.3L1337.3 1541.7L1337.7 1543.3L1338.2 1541.5L1338.7 1542.4L1339.1 1542.3L1339.6 1542.1L1340 1542.5L1340.5 1541.1L1340.9 1541.6L1341.4 1540L1341.8 1541.4L1342.3 1543.2L1342.8 1542.4L1343.2 1543.6L1343.7 1542.8L1344.1 1542.2L1344.6 1541.6L1345 1541.6L1345.5 1543L1345.9 1543L1346.4 1542.3L1346.8 1542.8L1347.3 1543L1347.8 1544.2L1348.2 1543.3L1348.7 1545.6L1349.1 1543.9L1349.6 1543.8L1350 1542.8L1350.5 1545L1350.9 1544.9L1351.4 1544.9L1351.9 1544.8L1352.3 1543.2L1352.8 1544L1353.2 1544.2L1353.7 1543.8L1354.1 1544.3L1354.6 1544.4L1355 1543.3L1355.5 1543.5L1356 1544.2L1356.4 1544.5L1356.9 1545.8L1357.3 1547.3L1357.8 1545.2L1358.2 1545.5L1358.7 1544.7L1359.1 1545.2L1359.6 1545.1L1360.1 1546.3L1360.5 1546.5L1361 1545.7L1361.4 1547.1L1361.9 1546.4L1362.3 1546.5L1362.8 1546.8L1363.2 1546.6L1363.7 1547.1L1364.1 1547.8L1364.6 1548.7L1365.1 1547.8L1365.5 1547.5L1366 1546L1366.4 1548.1L1366.9 1546.6L1367.3 1548.8L1367.8 1548.6L1368.2 1546.4L1368.7 1547.9L1369.2 1547.3L1369.6 1549.6L1370.1 1548.4L1370.5 1549.4L1371 1551L1371.4 1545.9L1371.9 1548.2L1372.3 1547.4L1372.8 1548.4L1373.3 1548.3L1373.7 1549.5L1374.2 1549.3L1374.6 1548L1375.1 1546.8L1375.5 1548.8L1376 1547.9L1376.4 1546.3L1376.9 1548.7L1377.4 1547.9L1377.8 1549.9L1378.3 1550.3L1378.7 1549L1379.2 1549.2L1379.6 1550.7L1380.1 1549.8L1380.5 1550.7L1381 1551.6L1381.4 1552.7L1381.9 1551.2L1382.4 1550.6L1382.8 1550.7L1383.3 1549.9L1383.7 1550.7L1384.2 1551.6L1384.6 1551.9L1385.1 1550.6L1385.5 1550.5L1386 1552L1386.5 1550.8L1386.9 1551L1387.4 1550.5L1387.8 1549.7L1388.3 1550.8L1388.7 1550.3L1389.2 1550.1L1389.6 1552.1L1390.1 1551.4L1390.6 1552.7L1391 1552.6L1391.5 1552.1L1391.9 1551.3L1392.4 1550.9L1392.8 1551.9L1393.3 1552.4L1393.7 1551.7L1394.2 1551L1394.7 1552L1395.1 1551.5L1395.6 1553.6L1396 1554.1L1396.5 1552.9L1396.9 1552.8L1397.4 1553.7L1397.8 1553.1L1398.3 1552.6L1398.7 1552.4L1399.2 1554.6L1399.7 1553.7L1400.1 1550.7L1400.6 1553.3L1401 1553.2L1401.5 1554.6L1401.9 1553.5L1402.4 1553.4L1402.8 1553.3L1403.3 1552.1L1403.8 1553.4L1404.2 1555.4L1404.7 1554L1405.1 1554.1L1405.6 1555.2L1406 1555.6L1406.5 1556.2L1406.9 1554.1L1407.4 1553.9L1407.9 1554.8L1408.3 1556.4L1408.8 1556L1409.2 1556.1L1409.7 1555.8L1410.1 1555.1L1410.6 1555.1L1411 1553.3L1411.5 1554.5L1412 1555.3L1412.4 1556.2L1412.9 1556L1413.3 1556.8L1413.8 1555.7L1414.2 1556.1L1414.7 1554.4L1415.1 1555.3L1415.6 1557.5L1416 1555.3L1416.5 1558.6L1417 1554.8L1417.4 1555.1L1417.9 1559.5L1418.3 1558.8L1418.8 1558.6L1419.2 1556.7L1419.7 1557.6L1420.1 1557.3L1420.6 1557.3L1421.1 1558.5L1421.5 1558.7L1422 1558.6L1422.4 1558.2L1422.9 1561.1L1423.3 1560.1L1423.8 1558.9L1424.2 1557L1424.7 1560L1425.2 1560.6L1425.6 1561.2L1426.1 1558.4L1426.5 1558.8L1427 1557.1L1427.4 1558.7L1427.9 1557.9L1428.3 1557L1428.8 1559.4L1429.3 1561.2L1429.7 1558.4L1430.2 1559.5L1430.6 1556.9L1431.1 1556.4L1431.5 1558.3L1432 1560.6L1432.4 1559.9L1432.9 1559.2L1433.3 1559.9L1433.8 1559.2L1434.3 1557.9L1434.7 1557.9L1435.2 1560.5L1435.6 1560.5L1436.1 1559.6L1436.5 1560.7L1437 1561.2L1437.4 1562.3L1437.9 1559.1L1438.4 1558.8L1438.8 1561L1439.3 1562L1439.7 1561.3L1440.2 1559.9L1440.6 1561.1L1441.1 1559.4L1441.5 1561L1442 1559.5L1442.5 1559.8L1442.9 1561.4L1443.4 1560.8L1443.8 1560.7L1444.3 1561L1444.7 1558.5L1445.2 1559L1445.6 1562.5L1446.1 1561.2L1446.5 1562.8L1447 1563.2L1447.5 1562L1447.9 1561.7L1448.4 1562.1L1448.8 1563.3L1449.3 1562.7L1449.7 1562.1L1450.2 1561.1L1450.6 1561.5L1451.1 1560.8L1451.6 1560.3L1452 1561.9L1452.5 1561.6L1452.9 1561L1453.4 1561.8L1453.8 1560.2L1454.3 1560L1454.7 1560.5L1455.2 1560.8L1455.7 1563.3L1456.1 1562.5L1456.6 1560.2L1457 1561.8L1457.5 1562.4L1457.9 1562.8L1458.4 1563.7L1458.8 1563.9L1459.3 1562.6L1459.8 1563.2L1460.2 1564.2L1460.7 1562.2L1461.1 1562.9L1461.6 1563.2L1462 1561.9L1462.5 1563.6L1462.9 1564.5L1463.4 1565.9L1463.8 1565.5L1464.3 1563.4L1464.8 1563.2L1465.2 1562.5L1465.7 1560.6L1466.1 1561.8L1466.6 1561.9L1467 1562.1L1467.5 1564.3L1467.9 1563.2L1468.4 1563.6L1468.9 1563.5L1469.3 1564.4L1469.8 1565.8L1470.2 1564.8L1470.7 1565.4L1471.1 1565.6L1471.6 1565.1L1472 1564.4L1472.5 1563.5L1473 1564.6L1473.4 1563.8L1473.9 1562.4L1474.3 1566.4L1474.8 1564L1475.2 1563.5L1475.7 1563L1476.1 1565.6L1476.6 1567.4L1477.1 1564.6L1477.5 1565.6L1478 1566L1478.4 1566L1478.9 1565.2L1479.3 1565.2L1479.8 1563L1480.2 1565L1480.7 1565.3L1481.1 1565.2L1481.6 1566.2L1482.1 1565.5L1482.5 1567.3L1483 1568.5L1483.4 1566.4L1483.9 1567.1L1484.3 1565.5L1484.8 1564.5L1485.2 1566.7L1485.7 1568L1486.2 1566.9L1486.6 1568.2L1487.1 1563.7L1487.5 1569.2L1488 1567.5L1488.4 1566.2L1488.9 1567.2L1489.3 1567.8L1489.8 1565.5L1490.3 1569.6L1490.7 1568.3L1491.2 1569L1491.6 1567.4L1492.1 1567.5L1492.5 1565.1L1493 1565.7L1493.4 1567L1493.9 1567.8L1494.4 1566.2L1494.8 1567.3L1495.3 1568L1495.7 1567.8L1496.2 1566.9L1496.6 1565.8L1497.1 1569.2L1497.5 1569.7L1498 1568.2L1498.4 1569L1498.9 1569.2L1499.4 1567.6L1499.8 1567.9L1500.3 1567.9L1500.7 1568.9L1501.2 1568L1501.6 1570L1502.1 1570.1L1502.5 1568.9L1503 1567.6L1503.5 1567.6L1503.9 1569.2" fill="none" stroke="#DF3123" stroke-width="2.4" stroke-linejoin="round"/>
<path d="M1267.2 1434H1575.7" stroke="#000" stroke-width="1.5"/>
<path d="M1272.2 1390.4V1623" stroke="#000" stroke-width="1.9"/>
<path d="M1271.2 1622H1503.7" stroke="#000" stroke-width="1.9"/>
<path d="M1503.7 1622.4H1575.7" stroke="#000" stroke-width="1"/>
<path d="M1269.6 1391.1H1272.2" stroke="#000" stroke-width="1.5"/>
<path d="M1267 1434H1272.2" stroke="#000" stroke-width="1.5"/>
<path d="M1269.6 1476.9H1272.2" stroke="#000" stroke-width="1.5"/>
<path d="M1267 1519.8H1272.2" stroke="#000" stroke-width="1.5"/>
<path d="M1269.6 1562.7H1272.2" stroke="#000" stroke-width="1.5"/>
<path d="M1267 1605.6H1272.2" stroke="#000" stroke-width="1.5"/>
<path d="M1269.6 1391.1H1272.2" stroke="#000" stroke-width="1.4"/>
<text x="1252.9" y="1441" font-size="19.5" stroke="#000" stroke-width="0.3" textLength="11.3" lengthAdjust="spacingAndGlyphs">0</text>
<text x="1246.2" y="1526.8" font-size="19.5" stroke="#000" stroke-width="0.3" textLength="18" lengthAdjust="spacingAndGlyphs">-1</text>
<text x="1246.2" y="1612.6" font-size="19.5" stroke="#000" stroke-width="0.3" textLength="18" lengthAdjust="spacingAndGlyphs">-2</text>
<path d="M1272.2 1622V1627" stroke="#000" stroke-width="1.5"/>
<path d="M1310.1 1622V1624.8" stroke="#000" stroke-width="1.5"/>
<path d="M1348.1 1622V1627" stroke="#000" stroke-width="1.5"/>
<path d="M1386 1622V1624.8" stroke="#000" stroke-width="1.5"/>
<path d="M1424 1622V1627" stroke="#000" stroke-width="1.5"/>
<path d="M1461.9 1622V1624.8" stroke="#000" stroke-width="1.5"/>
<path d="M1499.8 1622V1627" stroke="#000" stroke-width="1.5"/>
<path d="M1537.8 1622V1624.8" stroke="#000" stroke-width="1.2"/>
<path d="M1575.7 1622V1627" stroke="#000" stroke-width="1.2"/>
<text x="1266.6" y="1646.5" font-size="19.5" stroke="#000" stroke-width="0.3" textLength="11.3" lengthAdjust="spacingAndGlyphs">0</text>
<text x="1331.2" y="1646.5" font-size="19.5" stroke="#000" stroke-width="0.3" textLength="33.8" lengthAdjust="spacingAndGlyphs">500</text>
<text x="1401.4" y="1646.5" font-size="19.5" stroke="#000" stroke-width="0.3" textLength="45.1" lengthAdjust="spacingAndGlyphs">1000</text>
<text x="1477.3" y="1646.5" font-size="19.5" stroke="#000" stroke-width="0.3" textLength="45.1" lengthAdjust="spacingAndGlyphs">1500</text>
<text x="1553.1" y="1646.5" font-size="19.5" stroke="#000" stroke-width="0.3" textLength="45.1" lengthAdjust="spacingAndGlyphs">2000</text>
<text x="1376.2" y="1669.2" font-size="19.5" stroke="#000" stroke-width="0.3" textLength="93.6" lengthAdjust="spacingAndGlyphs">time [ms]</text>
<text transform="translate(1228.6 1499.4) scale(0.92 1) rotate(-90)" font-size="21.2" text-anchor="middle" stroke="#000" stroke-width="0.35">I [normalized]</text>
<text x="1300.6" y="1419.5" font-size="19.5" stroke="#000" stroke-width="0.3" textLength="53.9" lengthAdjust="spacingAndGlyphs">Orai1</text>
<text x="1462.9" y="1505.5" font-size="20" stroke="#000" stroke-width="0.3" textLength="78.8" lengthAdjust="spacingAndGlyphs">+ STIM1</text>
<text x="1405.7" y="1594.7" font-size="20" stroke="#DF3123" stroke-width="0.3" fill="#DF3123" textLength="142.8" lengthAdjust="spacingAndGlyphs">+ STIM1 1-474</text>
<clipPath id="cf5"><rect x="1197.2" y="1900" width="400" height="330"/></clipPath>
<g clip-path="url(#cf5)">
<path d="M1281.1 1969.2L1284.4 1969.2L1284.7 2049.7L1285.1 2040.6L1285.6 2040.5L1286 2038.8L1286.5 2035.3L1286.9 2033.2L1287.4 2034L1287.8 2033.7L1288.3 2034.2L1288.8 2035L1289.2 2037.1L1289.7 2038.1L1290.1 2031.7L1290.6 2031.7L1291 2033.1L1291.5 2031.6L1291.9 2029.4L1292.4 2032.6L1292.9 2035.7L1293.3 2031.4L1293.8 2031.3L1294.2 2033.5L1294.7 2031.6L1295.1 2032.8L1295.6 2034.9L1296 2031.5L1296.5 2030L1296.9 2033.6L1297.4 2035.6L1297.9 2036L1298.3 2035.6L1298.8 2031.6L1299.2 2034L1299.7 2035.1L1300.1 2034.3L1300.6 2034.3L1301 2033.6L1301.5 2035L1302 2034.9L1302.4 2035.9L1302.9 2035.4L1303.3 2034.6L1303.8 2036.5L1304.2 2034.4L1304.7 2038.2L1305.1 2034.1L1305.6 2038.8L1306.1 2039.5L1306.5 2037L1307 2039.7L1307.4 2040L1307.9 2039.7L1308.3 2036.6L1308.8 2037L1309.2 2039.9L1309.7 2037.2L1310.2 2038.4L1310.6 2038.5L1311.1 2037.5L1311.5 2039.8L1312 2037.7L1312.4 2040.8L1312.9 2037.7L1313.3 2037.6L1313.8 2036.3L1314.2 2038.3L1314.7 2041.2L1315.2 2041.5L1315.6 2039.3L1316.1 2037.7L1316.5 2036.6L1317 2039.3L1317.4 2040L1317.9 2043.4L1318.3 2043.2L1318.8 2042.6L1319.3 2041.7L1319.7 2040.1L1320.2 2041.9L1320.6 2043.1L1321.1 2044.2L1321.5 2044.5L1322 2042.7L1322.4 2044.9L1322.9 2044.6L1323.4 2044.5L1323.8 2042.7L1324.3 2043.8L1324.7 2047L1325.2 2042.8L1325.6 2045.5L1326.1 2046.1L1326.5 2045.2L1327 2046.7L1327.5 2046.4L1327.9 2043.7L1328.4 2045.6L1328.8 2046.2L1329.3 2044.3L1329.7 2042.5L1330.2 2046.1L1330.6 2047.8L1331.1 2049.5L1331.5 2047.1L1332 2050.6L1332.5 2047.2L1332.9 2046.7L1333.4 2046.7L1333.8 2046.8L1334.3 2049.2L1334.7 2047.3L1335.2 2050.4L1335.6 2048.4L1336.1 2049.6L1336.6 2049.9L1337 2051.8L1337.5 2048L1337.9 2051.5L1338.4 2049.5L1338.8 2046.1L1339.3 2049.1L1339.7 2053L1340.2 2048.9L1340.7 2048L1341.1 2047.7L1341.6 2050.8L1342 2049.8L1342.5 2054.3L1342.9 2052.4L1343.4 2054.2L1343.8 2052.9L1344.3 2052.1L1344.8 2048.6L1345.2 2050.3L1345.7 2051.4L1346.1 2051.5L1346.6 2051.7L1347 2051.5L1347.5 2051.1L1347.9 2051.6L1348.4 2053.3L1348.8 2051.8L1349.3 2055.7L1349.8 2054.4L1350.2 2054.2L1350.7 2056.2L1351.1 2052.9L1351.6 2054.1L1352 2056.6L1352.5 2053.9L1352.9 2055.9L1353.4 2056.2L1353.9 2057.2L1354.3 2053.5L1354.8 2055L1355.2 2052L1355.7 2053.5L1356.1 2056.5L1356.6 2054.2L1357 2058.2L1357.5 2057L1358 2057.9L1358.4 2055.1L1358.9 2057.7L1359.3 2056.1L1359.8 2058.8L1360.2 2056.6L1360.7 2057.3L1361.1 2056.3L1361.6 2056.9L1362.1 2057.4L1362.5 2056.5L1363 2060.1L1363.4 2059.1L1363.9 2056.2L1364.3 2057.2L1364.8 2057.3L1365.2 2057.1L1365.7 2059.5L1366.1 2056.8L1366.6 2059.1L1367.1 2058.4L1367.5 2056.9L1368 2058.3L1368.4 2056.6L1368.9 2057.5L1369.3 2057.5L1369.8 2058.7L1370.2 2059.6L1370.7 2058.8L1371.2 2058.3L1371.6 2059.5L1372.1 2061.7L1372.5 2061L1373 2058.4L1373.4 2061.4L1373.9 2057.9L1374.3 2057.3L1374.8 2061.2L1375.3 2057.3L1375.7 2058.2L1376.2 2060L1376.6 2060.7L1377.1 2062.1L1377.5 2060L1378 2062L1378.4 2059.2L1378.9 2062.9L1379.3 2061.9L1379.8 2059.9L1380.3 2060.7L1380.7 2060.7L1381.2 2057.8L1381.6 2058L1382.1 2059.7L1382.5 2061.8L1383 2059.9L1383.4 2061.8L1383.9 2059.9L1384.4 2062.5L1384.8 2061L1385.3 2058.9L1385.7 2062.8L1386.2 2063.1L1386.6 2064.7L1387.1 2065.4L1387.5 2062.6L1388 2064.8L1388.5 2066.2L1388.9 2068.8L1389.4 2066L1389.8 2066.3L1390.3 2064.9L1390.7 2062.3L1391.2 2062.2L1391.6 2063.7L1392.1 2063.8L1392.6 2061.1L1393 2060.7L1393.5 2063.1L1393.9 2062.8L1394.4 2065L1394.8 2066.8L1395.3 2068.4L1395.7 2065.8L1396.2 2065.2L1396.6 2067.3L1397.1 2065.4L1397.6 2062.9L1398 2064.4L1398.5 2066L1398.9 2063.6L1399.4 2064.5L1399.8 2066.8L1400.3 2069.7L1400.7 2066.4L1401.2 2064.2L1401.7 2066L1402.1 2066.1L1402.6 2067L1403 2065.5L1403.5 2066.3L1403.9 2065.8L1404.4 2064.8L1404.8 2065.5L1405.3 2064.6L1405.8 2067.2L1406.2 2069.9L1406.7 2068L1407.1 2062.6L1407.6 2063.1L1408 2066.8L1408.5 2067.2L1408.9 2068.8L1409.4 2068L1409.9 2068.2L1410.3 2068.9L1410.8 2066.9L1411.2 2067.4L1411.7 2066.3L1412.1 2066.2L1412.6 2069.7L1413 2070.1L1413.5 2068.7L1413.9 2068.6L1414.4 2068L1414.9 2068.3L1415.3 2068.4L1415.8 2067.6L1416.2 2068.5L1416.7 2068.2L1417.1 2067.4L1417.6 2065.3L1418 2067.7L1418.5 2068L1419 2068.1L1419.4 2069.4L1419.9 2071L1420.3 2070.2L1420.8 2069.1L1421.2 2070.5L1421.7 2070L1422.1 2069.8L1422.6 2067.5L1423.1 2067.7L1423.5 2067.5L1424 2068.1L1424.4 2067.3L1424.9 2069L1425.3 2069.9L1425.8 2068.1L1426.2 2068.7L1426.7 2071.5L1427.2 2069.7L1427.6 2069.2L1428.1 2070.9L1428.5 2070.7L1429 2068.5L1429.4 2069L1429.9 2070.6L1430.3 2071.7L1430.8 2068.9L1431.2 2069.5L1431.7 2068.3L1432.2 2069.7L1432.6 2070.1L1433.1 2069.3L1433.5 2073.6L1434 2074.7L1434.4 2072.7L1434.9 2071.5L1435.3 2072.4L1435.8 2069.8L1436.3 2071L1436.7 2070.5L1437.2 2071.9L1437.6 2070.1L1438.1 2071.5L1438.5 2068.2L1439 2070.9L1439.4 2069.1L1439.9 2070.9L1440.4 2067.5L1440.8 2071.4L1441.3 2073.1L1441.7 2069.3L1442.2 2070.7L1442.6 2071.8L1443.1 2071L1443.5 2067.3L1444 2070.7L1444.5 2072.1L1444.9 2070.7L1445.4 2071.5L1445.8 2070.6L1446.3 2072.5L1446.7 2069.7L1447.2 2069.4L1447.6 2072.5L1448.1 2070.5L1448.5 2072.8L1449 2072.3L1449.5 2074.6L1449.9 2072.3L1450.4 2071.3L1450.8 2074.1L1451.3 2072.6L1451.7 2072.2L1452.2 2072.6L1452.6 2074.2L1453.1 2074.7L1453.6 2073.8L1454 2071.5L1454.5 2072.6L1454.9 2074.3L1455.4 2073.6L1455.8 2072.8L1456.3 2073.8L1456.7 2072.9L1457.2 2075L1457.7 2072.4L1458.1 2070L1458.6 2073.6L1459 2072.1L1459.5 2073.7L1459.9 2074.3L1460.4 2071.3L1460.8 2072.5L1461.3 2071L1461.8 2075L1462.2 2074.9L1462.7 2076L1463.1 2074.8L1463.6 2077.9L1464 2076.6L1464.5 2076.4L1464.9 2072.5L1465.4 2073.8L1465.8 2074L1466.3 2074.1L1466.8 2076.6L1467.2 2072.8L1467.7 2072.8L1468.1 2073.9L1468.6 2073.8L1469 2073.2L1469.5 2075.4L1469.9 2076.2L1470.4 2074.6L1470.9 2070.9L1471.3 2072.1L1471.8 2074L1472.2 2074.9L1472.7 2074.1L1473.1 2074.4L1473.6 2073.3L1474 2075.5L1474.5 2076.6L1475 2079.6L1475.4 2077.6L1475.9 2074.8L1476.3 2077.3L1476.8 2075.9L1477.2 2076.8L1477.7 2074.4L1478.1 2074.1L1478.6 2074.1L1479 2076.2L1479.5 2076.2L1480 2076.3L1480.4 2078.1L1480.9 2077.4L1481.3 2076.4L1481.8 2075.8L1482.2 2076.7L1482.7 2078.1L1483.1 2077.4L1483.6 2078.7L1484.1 2076.4L1484.5 2076.1L1485 2074.6L1485.4 2073L1485.9 2078.2L1486.3 2075.5L1486.8 2076.4L1487.2 2073.6L1487.7 2071.1L1488.2 2072.4L1488.6 2073.5L1489.1 2076.6L1489.5 2078.2L1490 2079.1L1490.4 2075.5L1490.9 2076.3L1491.3 2079.5L1491.8 2078.5L1492.3 2076L1492.7 2075.2L1493.2 2076.2L1493.6 2075.8L1494.1 2079L1494.5 2077.7L1495 2077.4L1495.4 2078.5L1495.9 2079.4L1496.3 2075.7L1496.8 2073L1497.3 2075L1497.7 2074.5L1498.2 2077.1L1498.6 2079.9L1499.1 2079L1499.5 2075.7L1500 2076.2L1500.4 2077.8L1500.9 2077.8L1501.4 2076.7L1501.8 2075.9L1502.3 2079L1502.7 2078.1L1503.2 2077.1L1503.6 2076.9L1504.1 2079.1L1504.5 2075L1505 2077.8L1505.5 2077.9L1505.9 2079.4L1506.4 2077.7L1506.8 2078.9L1507.3 2078L1507.7 2078.7L1508.2 2079.2L1508.6 2079.4L1509.1 2079L1509.6 2075.6L1510 2077L1510.5 2078.5L1510.9 2077.3L1511.4 2079.2L1511.8 2080.4L1512.3 2078.4" fill="none" stroke="#000" stroke-width="2.8" stroke-linejoin="round"/>
<path d="M1281.1 1969.2L1284.7 1969.2L1284.9 2051.4L1285.1 2046.6L1285.6 2046.5L1286 2046.4L1286.5 2047L1286.9 2046.7L1287.4 2046.7L1287.8 2046.8L1288.3 2045.6L1288.8 2047.2L1289.2 2048.8L1289.7 2048.1L1290.1 2047L1290.6 2048L1291 2046.3L1291.5 2046.9L1291.9 2047.9L1292.4 2047.9L1292.9 2048.8L1293.3 2048L1293.8 2046.6L1294.2 2047.9L1294.7 2047.2L1295.1 2048.3L1295.6 2048L1296 2047.8L1296.5 2047.2L1296.9 2048.3L1297.4 2050.6L1297.9 2050.6L1298.3 2051.1L1298.8 2051.7L1299.2 2051L1299.7 2051L1300.1 2050.6L1300.6 2050.9L1301 2050.2L1301.5 2052.2L1302 2052.9L1302.4 2052.9L1302.9 2052L1303.3 2052.8L1303.8 2051.5L1304.2 2052.6L1304.7 2053.7L1305.1 2053.3L1305.6 2051.4L1306.1 2052L1306.5 2052.9L1307 2052.8L1307.4 2053.5L1307.9 2055L1308.3 2055.4L1308.8 2055.2L1309.2 2054.1L1309.7 2055.8L1310.2 2056.3L1310.6 2054.3L1311.1 2054.8L1311.5 2056.5L1312 2056L1312.4 2056.7L1312.9 2056.6L1313.3 2057.1L1313.8 2057.1L1314.2 2057.9L1314.7 2059.7L1315.2 2058.7L1315.6 2058.6L1316.1 2057.2L1316.5 2059.7L1317 2058.1L1317.4 2059.5L1317.9 2059.3L1318.3 2058.3L1318.8 2057.9L1319.3 2059L1319.7 2059.4L1320.2 2058.1L1320.6 2060.1L1321.1 2057.9L1321.5 2059.9L1322 2060.5L1322.4 2060.9L1322.9 2061.9L1323.4 2060.1L1323.8 2060.1L1324.3 2060.8L1324.7 2061.4L1325.2 2059.6L1325.6 2061.2L1326.1 2064.1L1326.5 2060.9L1327 2061.6L1327.5 2062.1L1327.9 2061.1L1328.4 2061.9L1328.8 2062.5L1329.3 2061.6L1329.7 2062.6L1330.2 2062.2L1330.6 2062.5L1331.1 2062.7L1331.5 2063.9L1332 2063.6L1332.5 2062.1L1332.9 2063.1L1333.4 2066.3L1333.8 2064.9L1334.3 2065.9L1334.7 2065.4L1335.2 2065.4L1335.6 2064.7L1336.1 2064.3L1336.6 2065L1337 2064.7L1337.5 2064.3L1337.9 2064.9L1338.4 2066.2L1338.8 2066.1L1339.3 2065.7L1339.7 2063.4L1340.2 2065.5L1340.7 2066.5L1341.1 2067.7L1341.6 2065.8L1342 2065.1L1342.5 2067.7L1342.9 2067.7L1343.4 2067.5L1343.8 2066.9L1344.3 2067.6L1344.8 2067.2L1345.2 2068.4L1345.7 2068.8L1346.1 2067.4L1346.6 2066.7L1347 2067.1L1347.5 2069.2L1347.9 2069.8L1348.4 2067.6L1348.8 2068.2L1349.3 2069.3L1349.8 2069.3L1350.2 2069.9L1350.7 2071.2L1351.1 2069.3L1351.6 2068.6L1352 2070.1L1352.5 2069.4L1352.9 2069L1353.4 2068.4L1353.9 2068.3L1354.3 2069L1354.8 2072.5L1355.2 2072.2L1355.7 2070.5L1356.1 2070.8L1356.6 2071L1357 2070.8L1357.5 2070.9L1358 2071.7L1358.4 2072.5L1358.9 2072.7L1359.3 2072.2L1359.8 2071.1L1360.2 2071.7L1360.7 2071.8L1361.1 2071.7L1361.6 2072.1L1362.1 2073.3L1362.5 2072.8L1363 2073.1L1363.4 2073.9L1363.9 2073.7L1364.3 2073.9L1364.8 2073.3L1365.2 2075.1L1365.7 2075L1366.1 2073.7L1366.6 2074.7L1367.1 2076L1367.5 2074.7L1368 2073.9L1368.4 2074.5L1368.9 2073.7L1369.3 2072.9L1369.8 2072.9L1370.2 2074.7L1370.7 2074.6L1371.2 2073.8L1371.6 2073.6L1372.1 2075.3L1372.5 2075.7L1373 2075L1373.4 2075.2L1373.9 2073.5L1374.3 2074.3L1374.8 2076.1L1375.3 2076.3L1375.7 2075.2L1376.2 2075.6L1376.6 2076.1L1377.1 2076.3L1377.5 2075.8L1378 2076.2L1378.4 2075.6L1378.9 2077L1379.3 2075.9L1379.8 2074.7L1380.3 2075.4L1380.7 2075.3L1381.2 2076.9L1381.6 2076.4L1382.1 2076.2L1382.5 2076.6L1383 2076.2L1383.4 2074.9L1383.9 2077.5L1384.4 2076.5L1384.8 2077.3L1385.3 2077.1L1385.7 2077.8L1386.2 2078L1386.6 2077.7L1387.1 2079.4L1387.5 2078.5L1388 2077.1L1388.5 2076.5L1388.9 2077.7L1389.4 2078.6L1389.8 2078.6L1390.3 2078.7L1390.7 2075.8L1391.2 2079.4L1391.6 2079.7L1392.1 2078.3L1392.6 2079.1L1393 2078.2L1393.5 2078.5L1393.9 2078.4L1394.4 2079.2L1394.8 2077.7L1395.3 2078.3L1395.7 2077.5L1396.2 2078.6L1396.6 2079.1L1397.1 2078.6L1397.6 2078.7L1398 2079.8L1398.5 2078.7L1398.9 2078.1L1399.4 2078.7L1399.8 2079.5L1400.3 2079.9L1400.7 2079.6L1401.2 2078.1L1401.7 2077.4L1402.1 2078.9L1402.6 2079.1L1403 2079.8L1403.5 2077.8L1403.9 2079.8L1404.4 2078.7L1404.8 2079.7L1405.3 2079.3L1405.8 2081.3L1406.2 2079.8L1406.7 2079.9L1407.1 2079L1407.6 2081L1408 2080.4L1408.5 2080.8L1408.9 2080.2L1409.4 2079.7L1409.9 2079.5L1410.3 2080.7L1410.8 2080.6L1411.2 2079.7L1411.7 2079.2L1412.1 2079.7L1412.6 2081.3L1413 2081.7L1413.5 2078.9L1413.9 2080.2L1414.4 2081L1414.9 2080.9L1415.3 2080.8L1415.8 2080.4L1416.2 2079.3L1416.7 2078.3L1417.1 2080.4L1417.6 2080.2L1418 2078.4L1418.5 2081L1419 2081.8L1419.4 2080.4L1419.9 2081.7L1420.3 2082.6L1420.8 2081.9L1421.2 2081.6L1421.7 2079.5L1422.1 2080L1422.6 2080.6L1423.1 2081L1423.5 2081L1424 2080.7L1424.4 2081.7L1424.9 2082.1L1425.3 2082.8L1425.8 2080.4L1426.2 2081.3L1426.7 2082L1427.2 2080.4L1427.6 2081.1L1428.1 2082L1428.5 2082.4L1429 2081.7L1429.4 2081.5L1429.9 2082.2L1430.3 2081.8L1430.8 2082.2L1431.2 2081.2L1431.7 2082.8L1432.2 2082.7L1432.6 2081.3L1433.1 2082.8L1433.5 2081.5L1434 2080.9L1434.4 2081.8L1434.9 2081.9L1435.3 2080.9L1435.8 2082.9L1436.3 2082.3L1436.7 2081.1L1437.2 2081.3L1437.6 2083.6L1438.1 2084.2L1438.5 2084.6L1439 2082.7L1439.4 2081.8L1439.9 2082.6L1440.4 2083.4L1440.8 2082.8L1441.3 2080.9L1441.7 2082.4L1442.2 2083.2L1442.6 2084.7L1443.1 2085.5L1443.5 2083.8L1444 2084.4L1444.5 2084.5L1444.9 2083.7L1445.4 2083.7L1445.8 2084.5L1446.3 2084.5L1446.7 2084.8L1447.2 2081.5L1447.6 2083L1448.1 2083.7L1448.5 2084.2L1449 2084.4L1449.5 2085.7L1449.9 2085.2L1450.4 2084.4L1450.8 2083.5L1451.3 2084.6L1451.7 2084.7L1452.2 2084.5L1452.6 2083.1L1453.1 2084.2L1453.6 2084.3L1454 2083.8L1454.5 2082.3L1454.9 2082.6L1455.4 2084.8L1455.8 2084.4L1456.3 2083.5L1456.7 2085.2L1457.2 2085L1457.7 2084.7L1458.1 2085.1L1458.6 2086.2L1459 2084.3L1459.5 2085.5L1459.9 2085.4L1460.4 2083.2L1460.8 2084.4L1461.3 2084.2L1461.8 2084.6L1462.2 2085.5L1462.7 2085.2L1463.1 2083.8L1463.6 2084.4L1464 2085.4L1464.5 2086.6L1464.9 2086.5L1465.4 2085.1L1465.8 2084L1466.3 2085.3L1466.8 2085.6L1467.2 2084.5L1467.7 2086.1L1468.1 2084.8L1468.6 2085.5L1469 2085.9L1469.5 2084.8L1469.9 2086.3L1470.4 2086.8L1470.9 2085.9L1471.3 2085.7L1471.8 2086.1L1472.2 2085.2L1472.7 2086.3L1473.1 2085.5L1473.6 2084.6L1474 2084.6L1474.5 2086.2L1475 2085.7L1475.4 2083.9L1475.9 2084.8L1476.3 2086.4L1476.8 2085.8L1477.2 2086.4L1477.7 2087L1478.1 2085.6L1478.6 2087.3L1479 2086L1479.5 2086.2L1480 2086.8L1480.4 2084.7L1480.9 2085.1L1481.3 2085.1L1481.8 2086.4L1482.2 2083.5L1482.7 2084.4L1483.1 2084.3L1483.6 2083.5L1484.1 2084.7L1484.5 2084.5L1485 2084.7L1485.4 2083.2L1485.9 2084.2L1486.3 2084.6L1486.8 2086.9L1487.2 2087L1487.7 2088L1488.2 2087.3L1488.6 2085.9L1489.1 2085.3L1489.5 2086.1L1490 2085.3L1490.4 2083.7L1490.9 2086L1491.3 2084.9L1491.8 2084.8L1492.3 2087L1492.7 2085.4L1493.2 2086.3L1493.6 2087.8L1494.1 2086.5L1494.5 2087.3L1495 2087.1L1495.4 2086.7L1495.9 2086.1L1496.3 2085.4L1496.8 2084.8L1497.3 2086.8L1497.7 2085.9L1498.2 2086.5L1498.6 2086.6L1499.1 2086.1L1499.5 2085.7L1500 2086.6L1500.4 2086.1L1500.9 2085.5L1501.4 2087.2L1501.8 2086.1L1502.3 2086.5L1502.7 2085.7L1503.2 2085.9L1503.6 2086.1L1504.1 2086.9L1504.5 2086.2L1505 2085.8L1505.5 2085.7L1505.9 2087L1506.4 2086.1L1506.8 2086.2L1507.3 2086.5L1507.7 2086.4L1508.2 2087.2L1508.6 2085.7L1509.1 2086.8L1509.6 2087L1510 2086.1L1510.5 2085L1510.9 2086.2L1511.4 2085.9L1511.8 2087.7L1512.3 2088.6" fill="none" stroke="#DF3123" stroke-width="2.2" stroke-linejoin="round"/>
<path d="M1275.8 1965.8H1584.3" stroke="#000" stroke-width="1.5"/>
<path d="M1280.8 1922.7V2154.8" stroke="#000" stroke-width="1.9"/>
<path d="M1279.8 2153.8H1512.4" stroke="#000" stroke-width="1.9"/>
<path d="M1512.4 2154.2H1584.3" stroke="#000" stroke-width="1"/>
<path d="M1278.2 1923H1280.8" stroke="#000" stroke-width="1.5"/>
<path d="M1275.6 1965.8H1280.8" stroke="#000" stroke-width="1.5"/>
<path d="M1278.2 2008.6H1280.8" stroke="#000" stroke-width="1.5"/>
<path d="M1275.6 2051.4H1280.8" stroke="#000" stroke-width="1.5"/>
<path d="M1278.2 2094.2H1280.8" stroke="#000" stroke-width="1.5"/>
<path d="M1275.6 2137H1280.8" stroke="#000" stroke-width="1.5"/>
<path d="M1278.2 1923.4H1280.8" stroke="#000" stroke-width="1.4"/>
<text x="1261.5" y="1972.8" font-size="19.5" stroke="#000" stroke-width="0.3" textLength="11.3" lengthAdjust="spacingAndGlyphs">0</text>
<text x="1254.8" y="2058.4" font-size="19.5" stroke="#000" stroke-width="0.3" textLength="18" lengthAdjust="spacingAndGlyphs">-1</text>
<text x="1254.8" y="2144" font-size="19.5" stroke="#000" stroke-width="0.3" textLength="18" lengthAdjust="spacingAndGlyphs">-2</text>
<path d="M1280.8 2153.8V2158.8" stroke="#000" stroke-width="1.5"/>
<path d="M1318.7 2153.8V2156.6" stroke="#000" stroke-width="1.5"/>
<path d="M1356.7 2153.8V2158.8" stroke="#000" stroke-width="1.5"/>
<path d="M1394.6 2153.8V2156.6" stroke="#000" stroke-width="1.5"/>
<path d="M1432.5 2153.8V2158.8" stroke="#000" stroke-width="1.5"/>
<path d="M1470.5 2153.8V2156.6" stroke="#000" stroke-width="1.5"/>
<path d="M1508.4 2153.8V2158.8" stroke="#000" stroke-width="1.5"/>
<path d="M1546.4 2153.8V2156.6" stroke="#000" stroke-width="1.2"/>
<path d="M1584.3 2153.8V2158.8" stroke="#000" stroke-width="1.2"/>
<text x="1275.2" y="2178.5" font-size="19.5" stroke="#000" stroke-width="0.3" textLength="11.3" lengthAdjust="spacingAndGlyphs">0</text>
<text x="1339.8" y="2178.5" font-size="19.5" stroke="#000" stroke-width="0.3" textLength="33.8" lengthAdjust="spacingAndGlyphs">500</text>
<text x="1410" y="2178.5" font-size="19.5" stroke="#000" stroke-width="0.3" textLength="45.1" lengthAdjust="spacingAndGlyphs">1000</text>
<text x="1485.9" y="2178.5" font-size="19.5" stroke="#000" stroke-width="0.3" textLength="45.1" lengthAdjust="spacingAndGlyphs">1500</text>
<text x="1561.7" y="2178.5" font-size="19.5" stroke="#000" stroke-width="0.3" textLength="45.1" lengthAdjust="spacingAndGlyphs">2000</text>
<text x="1385.4" y="2201.2" font-size="19.5" stroke="#000" stroke-width="0.3" textLength="93.6" lengthAdjust="spacingAndGlyphs">time [ms]</text>
<text transform="translate(1237.6 2031.7) scale(0.92 1) rotate(-90)" font-size="21.2" text-anchor="middle" stroke="#000" stroke-width="0.35">I [normalized]</text>
<text x="1308.5" y="1951.8" font-size="19.5" stroke="#000" stroke-width="0.3" textLength="53.9" lengthAdjust="spacingAndGlyphs">Orai1</text>
<text x="1378.9" y="2055.5" font-size="20" stroke="#000" stroke-width="0.3" textLength="166.7" lengthAdjust="spacingAndGlyphs">+ STIM1 233-685</text>
<text x="1376" y="2119.5" font-size="20" stroke="#DF3123" stroke-width="0.3" fill="#DF3123" textLength="166.7" lengthAdjust="spacingAndGlyphs">+ STIM1 233-474</text>
</g>
<path d="M1696.5 580.1L1704 590.7L1718.7 592.5L1726.7 587.3L1747.1 587.8L1756.2 585.7L1788 585.7L1794.8 588.4L1801.6 587.1L1817.5 586.6L1833.4 582.6L1839.1 582.6L1847 586.2L1854.9 590.3L1861.8 603.2L1869.7 619L1878.8 629.2L1890.1 639.4L1900.3 651.9L1907.2 655.3L1915.1 658.7L1921.9 665L1929.9 661.4L1936.7 662.1L1944.6 658.2L1952.6 660.9L1960.5 659.1L1967.3 670L1975.3 665L1982.1 665.5L1997.5 659.1" fill="none" stroke="#DF3123" stroke-width="2.9" stroke-linejoin="round"/>
<path d="M1696.5 585.1L1710.8 585.7L1722.2 586.6L1733.5 588L1747.1 590.3L1756.2 591.8L1774.4 592.3L1788 591.8L1794.8 594.8L1801.6 595.9L1810.7 593L1822 593L1833.4 593.7L1847 593L1853.8 600.9L1862.9 624.7L1869.7 642.4L1876.5 659.8L1884.5 670L1891.3 680.2L1906 675.7L1915.1 679L1921.9 677.5L1931 679.5L1953.7 677.9L1960.5 678.6L1967.3 678.6L1974.1 685.8L1983.2 678.4L1990 678.4L1997.5 682.4" fill="none" stroke="#000" stroke-width="2.9" stroke-linejoin="round"/>
<path d="M1691.5 564.4H1997.5" stroke="#000" stroke-width="1.5"/>
<path d="M1696.5 501.8V731.6" stroke="#000" stroke-width="2.2"/>
<path d="M1695.5 730.6H1998.5" stroke="#000" stroke-width="2"/>
<path d="M1693.7 502.1H1696.5" stroke="#000" stroke-width="1.6"/>
<path d="M1691 522.9H1696.5" stroke="#000" stroke-width="1.6"/>
<path d="M1693.7 543.7H1696.5" stroke="#000" stroke-width="1.6"/>
<path d="M1691 564.4H1696.5" stroke="#000" stroke-width="1.6"/>
<path d="M1693.7 585.2H1696.5" stroke="#000" stroke-width="1.6"/>
<path d="M1691 606H1696.5" stroke="#000" stroke-width="1.6"/>
<path d="M1693.7 626.8H1696.5" stroke="#000" stroke-width="1.6"/>
<path d="M1691 647.5H1696.5" stroke="#000" stroke-width="1.6"/>
<path d="M1693.7 668.3H1696.5" stroke="#000" stroke-width="1.6"/>
<path d="M1691 689.1H1696.5" stroke="#000" stroke-width="1.6"/>
<path d="M1693.7 709.8H1696.5" stroke="#000" stroke-width="1.6"/>
<path d="M1691 730.6H1696.5" stroke="#000" stroke-width="1.6"/>
<text x="1676.6" y="529.7" font-size="19" stroke="#000" stroke-width="0.3" textLength="11.4" lengthAdjust="spacingAndGlyphs">2</text>
<text x="1676.6" y="571.3" font-size="19" stroke="#000" stroke-width="0.3" textLength="11.4" lengthAdjust="spacingAndGlyphs">0</text>
<text x="1669.8" y="612.8" font-size="19" stroke="#000" stroke-width="0.3" textLength="18.2" lengthAdjust="spacingAndGlyphs">-2</text>
<text x="1669.8" y="654.4" font-size="19" stroke="#000" stroke-width="0.3" textLength="18.2" lengthAdjust="spacingAndGlyphs">-4</text>
<text x="1669.8" y="695.9" font-size="19" stroke="#000" stroke-width="0.3" textLength="18.2" lengthAdjust="spacingAndGlyphs">-6</text>
<text x="1669.8" y="737.4" font-size="19" stroke="#000" stroke-width="0.3" textLength="18.2" lengthAdjust="spacingAndGlyphs">-8</text>
<path d="M1696.5 730.6V735.6" stroke="#000" stroke-width="1.6"/>
<path d="M1734.1 730.6V733.4" stroke="#000" stroke-width="1.6"/>
<path d="M1771.8 730.6V735.6" stroke="#000" stroke-width="1.6"/>
<path d="M1809.4 730.6V733.4" stroke="#000" stroke-width="1.6"/>
<path d="M1847 730.6V735.6" stroke="#000" stroke-width="1.6"/>
<path d="M1884.6 730.6V733.4" stroke="#000" stroke-width="1.6"/>
<path d="M1922.2 730.6V735.6" stroke="#000" stroke-width="1.6"/>
<path d="M1959.9 730.6V733.4" stroke="#000" stroke-width="1.6"/>
<path d="M1997.5 730.6V735.6" stroke="#000" stroke-width="1.6"/>
<text x="1690.8" y="755" font-size="19" stroke="#000" stroke-width="0.3" textLength="11.4" lengthAdjust="spacingAndGlyphs">0</text>
<text x="1760.3" y="755" font-size="19" stroke="#000" stroke-width="0.3" textLength="22.8" lengthAdjust="spacingAndGlyphs">50</text>
<text x="1829.9" y="755" font-size="19" stroke="#000" stroke-width="0.3" textLength="34.2" lengthAdjust="spacingAndGlyphs">100</text>
<text x="1905.1" y="755" font-size="19" stroke="#000" stroke-width="0.3" textLength="34.2" lengthAdjust="spacingAndGlyphs">150</text>
<text x="1980.4" y="755" font-size="19" stroke="#000" stroke-width="0.3" textLength="34.2" lengthAdjust="spacingAndGlyphs">200</text>
<text x="1828.9" y="773" font-size="19.5" stroke="#000" stroke-width="0.3" textLength="74.9" lengthAdjust="spacingAndGlyphs">time [s]</text>
<text transform="translate(1653 630) scale(0.92 1) rotate(-90)" font-size="21.1" text-anchor="middle" stroke="#000" stroke-width="0.35">I [normalized]</text>
<rect x="1698.8" y="714.7" width="123.2" height="13" fill="#fff" stroke="#000" stroke-width="1.8"/>
<rect x="1822" y="714.7" width="179.4" height="13" fill="#C0C0C0" stroke="#000" stroke-width="1.8"/>
<text x="1705" y="533.6" font-size="19.5" stroke="#000" stroke-width="0.3" textLength="174.4" lengthAdjust="spacingAndGlyphs">STIM1:Orai1 ratio</text>
<text x="1832.3" y="646" font-size="20" stroke="#000" stroke-width="0.3" textLength="30.1" lengthAdjust="spacingAndGlyphs">2:1</text>
<text x="1956" y="650.5" font-size="20" stroke="#DF3123" stroke-width="0.3" fill="#DF3123" textLength="30.1" lengthAdjust="spacingAndGlyphs">1:2</text>
<text><tspan x="1771.6" y="711.8" font-size="19.5" stroke="#000" stroke-width="0.3" textLength="26.9" lengthAdjust="spacingAndGlyphs">Ca</tspan><tspan x="1798.2" y="700.4" font-size="19.5" stroke="#000" stroke-width="0.3" textLength="24" lengthAdjust="spacingAndGlyphs">2+</tspan></text>
<text><tspan x="1898" y="709.5" font-size="19.5" stroke="#000" stroke-width="0.3" textLength="26.9" lengthAdjust="spacingAndGlyphs">Na</tspan><tspan x="1925.3" y="697" font-size="19.5" stroke="#000" stroke-width="0.3" textLength="12.3" lengthAdjust="spacingAndGlyphs">+</tspan> <tspan x="1942.4" y="709.5" font-size="19.5" stroke="#000" stroke-width="0.3" textLength="55" lengthAdjust="spacingAndGlyphs">- DVF</tspan></text>
<path d="M1690 1012.2L1697.5 1022.9L1712.2 1024.7L1720.2 1019.5L1740.6 1019.9L1749.6 1017.9L1781.4 1017.9L1788.2 1020.6L1795 1019.3L1810.9 1018.8L1826.7 1014.7L1832.4 1014.7L1840.3 1018.3L1848.3 1022.4L1855.1 1035.3L1863 1051.2L1872.1 1061.4L1883.4 1071.6L1893.6 1084.1L1900.4 1087.5L1908.4 1090.9L1915.2 1097.2L1923.1 1093.6L1929.9 1094.3L1937.9 1090.4L1945.8 1093.2L1953.7 1091.3L1960.5 1102.2L1968.5 1097.2L1975.3 1097.7L1990.7 1091.3" fill="none" stroke="#000" stroke-width="2.9" stroke-linejoin="round"/>
<path d="M1690 1017L1697.3 1019.9L1706.3 1019.3L1720 1021.1L1733.6 1022.7L1751.7 1026.5L1765.3 1027.2L1779 1026.1L1788 1029.9L1794.8 1030.6L1801.7 1027.9L1810.7 1027.2L1817.5 1024.5L1840.2 1024.2L1847 1020.4L1856.1 1012L1862.9 1009.7L1881.1 1007.5L1915.1 1006.8L1924.2 1007.7L1944.6 1006.3L1956 1006.8L1983.2 1006.3L1990.7 1008.6" fill="none" stroke="#DF3123" stroke-width="2.9" stroke-linejoin="round"/>
<path d="M1685 996.6H1990.7" stroke="#000" stroke-width="1.5"/>
<path d="M1690 933.6V1163.9" stroke="#000" stroke-width="2.2"/>
<path d="M1689 1162.9H1991.7" stroke="#000" stroke-width="2"/>
<path d="M1687.2 934.2H1690" stroke="#000" stroke-width="1.6"/>
<path d="M1684.5 955H1690" stroke="#000" stroke-width="1.6"/>
<path d="M1687.2 975.8H1690" stroke="#000" stroke-width="1.6"/>
<path d="M1684.5 996.6H1690" stroke="#000" stroke-width="1.6"/>
<path d="M1687.2 1017.4H1690" stroke="#000" stroke-width="1.6"/>
<path d="M1684.5 1038.2H1690" stroke="#000" stroke-width="1.6"/>
<path d="M1687.2 1059H1690" stroke="#000" stroke-width="1.6"/>
<path d="M1684.5 1079.7H1690" stroke="#000" stroke-width="1.6"/>
<path d="M1687.2 1100.5H1690" stroke="#000" stroke-width="1.6"/>
<path d="M1684.5 1121.3H1690" stroke="#000" stroke-width="1.6"/>
<path d="M1687.2 1142.1H1690" stroke="#000" stroke-width="1.6"/>
<path d="M1684.5 1162.9H1690" stroke="#000" stroke-width="1.6"/>
<text x="1670.1" y="961.8" font-size="19" stroke="#000" stroke-width="0.3" textLength="11.4" lengthAdjust="spacingAndGlyphs">2</text>
<text x="1670.1" y="1003.4" font-size="19" stroke="#000" stroke-width="0.3" textLength="11.4" lengthAdjust="spacingAndGlyphs">0</text>
<text x="1663.3" y="1045" font-size="19" stroke="#000" stroke-width="0.3" textLength="18.2" lengthAdjust="spacingAndGlyphs">-2</text>
<text x="1663.3" y="1086.6" font-size="19" stroke="#000" stroke-width="0.3" textLength="18.2" lengthAdjust="spacingAndGlyphs">-4</text>
<text x="1663.3" y="1128.2" font-size="19" stroke="#000" stroke-width="0.3" textLength="18.2" lengthAdjust="spacingAndGlyphs">-6</text>
<text x="1663.3" y="1169.7" font-size="19" stroke="#000" stroke-width="0.3" textLength="18.2" lengthAdjust="spacingAndGlyphs">-8</text>
<path d="M1690 1162.9V1167.9" stroke="#000" stroke-width="1.6"/>
<path d="M1727.6 1162.9V1165.7" stroke="#000" stroke-width="1.6"/>
<path d="M1765.2 1162.9V1167.9" stroke="#000" stroke-width="1.6"/>
<path d="M1802.8 1162.9V1165.7" stroke="#000" stroke-width="1.6"/>
<path d="M1840.3 1162.9V1167.9" stroke="#000" stroke-width="1.6"/>
<path d="M1877.9 1162.9V1165.7" stroke="#000" stroke-width="1.6"/>
<path d="M1915.5 1162.9V1167.9" stroke="#000" stroke-width="1.6"/>
<path d="M1953.1 1162.9V1165.7" stroke="#000" stroke-width="1.6"/>
<path d="M1990.7 1162.9V1167.9" stroke="#000" stroke-width="1.6"/>
<text x="1684.3" y="1186.5" font-size="19" stroke="#000" stroke-width="0.3" textLength="11.4" lengthAdjust="spacingAndGlyphs">0</text>
<text x="1753.8" y="1186.5" font-size="19" stroke="#000" stroke-width="0.3" textLength="22.8" lengthAdjust="spacingAndGlyphs">50</text>
<text x="1823.2" y="1186.5" font-size="19" stroke="#000" stroke-width="0.3" textLength="34.2" lengthAdjust="spacingAndGlyphs">100</text>
<text x="1898.4" y="1186.5" font-size="19" stroke="#000" stroke-width="0.3" textLength="34.2" lengthAdjust="spacingAndGlyphs">150</text>
<text x="1973.6" y="1186.5" font-size="19" stroke="#000" stroke-width="0.3" textLength="34.2" lengthAdjust="spacingAndGlyphs">200</text>
<text x="1822.1" y="1204.9" font-size="19.5" stroke="#000" stroke-width="0.3" textLength="74.9" lengthAdjust="spacingAndGlyphs">time [s]</text>
<text transform="translate(1646 1061.6) scale(0.92 1) rotate(-90)" font-size="21.1" text-anchor="middle" stroke="#000" stroke-width="0.35">I [normalized]</text>
<rect x="1692.2" y="1146.8" width="123" height="12.7" fill="#fff" stroke="#000" stroke-width="1.8"/>
<rect x="1815.2" y="1146.8" width="179.4" height="12.7" fill="#C0C0C0" stroke="#000" stroke-width="1.8"/>
<text x="1698.3" y="966.3" font-size="19.5" stroke="#000" stroke-width="0.3" textLength="242.2" lengthAdjust="spacingAndGlyphs">constitutive Orai mutant</text>
<text x="1925.3" y="1029.4" font-size="20" stroke="#DF3123" stroke-width="0.3" fill="#DF3123" textLength="68.2" lengthAdjust="spacingAndGlyphs">-STIM1</text>
<text x="1914" y="1082.3" font-size="20" stroke="#000" stroke-width="0.3" textLength="73.4" lengthAdjust="spacingAndGlyphs">+STIM1</text>
<text><tspan x="1764.8" y="1144" font-size="19.5" stroke="#000" stroke-width="0.3" textLength="26.9" lengthAdjust="spacingAndGlyphs">Ca</tspan><tspan x="1791.4" y="1132.6" font-size="19.5" stroke="#000" stroke-width="0.3" textLength="24" lengthAdjust="spacingAndGlyphs">2+</tspan></text>
<text><tspan x="1891.3" y="1141.3" font-size="19.5" stroke="#000" stroke-width="0.3" textLength="26.9" lengthAdjust="spacingAndGlyphs">Na</tspan><tspan x="1918.6" y="1128.8" font-size="19.5" stroke="#000" stroke-width="0.3" textLength="12.3" lengthAdjust="spacingAndGlyphs">+</tspan> <tspan x="1935.7" y="1141.3" font-size="19.5" stroke="#000" stroke-width="0.3" textLength="55" lengthAdjust="spacingAndGlyphs">- DVF</tspan></text>
<path d="M1698.8 1481.8L1713.1 1482.5L1724.5 1483.4L1735.8 1484.8L1749.4 1487L1758.5 1488.6L1776.7 1489.1L1790.3 1488.6L1797.1 1491.6L1803.9 1492.7L1813 1489.7L1824.3 1489.7L1835.7 1490.4L1849.3 1489.7L1856.1 1497.7L1865.2 1521.5L1872 1539.2L1878.8 1556.7L1886.8 1566.9L1893.6 1577.2L1908.3 1572.6L1917.4 1576L1924.2 1574.4L1933.3 1576.5L1956 1574.9L1962.8 1575.6L1969.6 1575.6L1976.4 1582.8L1985.5 1575.3L1992.3 1575.3L1999.8 1579.4" fill="none" stroke="#000" stroke-width="2.9" stroke-linejoin="round"/>
<path d="M1698.8 1482.1L1722.2 1481.4L1747.2 1480.7L1767.6 1479.6L1792.6 1480.3L1813 1482.5L1826.6 1483.2L1834.5 1480.9L1842.5 1472.7L1849.3 1470.7L1856.1 1475L1864.1 1480.3L1872 1481.8L1879.9 1491.6L1887.9 1494.6L1897 1500.7L1906 1509.8L1915.1 1520.1L1926.5 1534.9L1940.1 1550.8L1946.9 1567.9L1953.7 1580.4L1962.8 1591.7L1970.7 1602L1977.6 1610.6L1985.5 1606.5L1992.3 1597.4L1999.8 1603.1" fill="none" stroke="#DF3123" stroke-width="2.9" stroke-linejoin="round"/>
<path d="M1693.8 1461.1H1999.8" stroke="#000" stroke-width="1.5"/>
<path d="M1698.8 1398.4V1628.7" stroke="#000" stroke-width="2.2"/>
<path d="M1697.8 1627.7H2000.8" stroke="#000" stroke-width="2"/>
<path d="M1696 1398.7H1698.8" stroke="#000" stroke-width="1.6"/>
<path d="M1693.3 1419.5H1698.8" stroke="#000" stroke-width="1.6"/>
<path d="M1696 1440.3H1698.8" stroke="#000" stroke-width="1.6"/>
<path d="M1693.3 1461.1H1698.8" stroke="#000" stroke-width="1.6"/>
<path d="M1696 1482H1698.8" stroke="#000" stroke-width="1.6"/>
<path d="M1693.3 1502.8H1698.8" stroke="#000" stroke-width="1.6"/>
<path d="M1696 1523.6H1698.8" stroke="#000" stroke-width="1.6"/>
<path d="M1693.3 1544.4H1698.8" stroke="#000" stroke-width="1.6"/>
<path d="M1696 1565.2H1698.8" stroke="#000" stroke-width="1.6"/>
<path d="M1693.3 1586.1H1698.8" stroke="#000" stroke-width="1.6"/>
<path d="M1696 1606.9H1698.8" stroke="#000" stroke-width="1.6"/>
<path d="M1693.3 1627.7H1698.8" stroke="#000" stroke-width="1.6"/>
<text x="1679.1" y="1426.3" font-size="19" stroke="#000" stroke-width="0.3" textLength="11.4" lengthAdjust="spacingAndGlyphs">2</text>
<text x="1679.1" y="1468" font-size="19" stroke="#000" stroke-width="0.3" textLength="11.4" lengthAdjust="spacingAndGlyphs">0</text>
<text x="1672.3" y="1509.6" font-size="19" stroke="#000" stroke-width="0.3" textLength="18.2" lengthAdjust="spacingAndGlyphs">-2</text>
<text x="1672.3" y="1551.3" font-size="19" stroke="#000" stroke-width="0.3" textLength="18.2" lengthAdjust="spacingAndGlyphs">-4</text>
<text x="1672.3" y="1592.9" font-size="19" stroke="#000" stroke-width="0.3" textLength="18.2" lengthAdjust="spacingAndGlyphs">-6</text>
<text x="1672.3" y="1634.5" font-size="19" stroke="#000" stroke-width="0.3" textLength="18.2" lengthAdjust="spacingAndGlyphs">-8</text>
<path d="M1698.8 1627.7V1632.7" stroke="#000" stroke-width="1.6"/>
<path d="M1736.4 1627.7V1630.5" stroke="#000" stroke-width="1.6"/>
<path d="M1774 1627.7V1632.7" stroke="#000" stroke-width="1.6"/>
<path d="M1811.7 1627.7V1630.5" stroke="#000" stroke-width="1.6"/>
<path d="M1849.3 1627.7V1632.7" stroke="#000" stroke-width="1.6"/>
<path d="M1886.9 1627.7V1630.5" stroke="#000" stroke-width="1.6"/>
<path d="M1924.5 1627.7V1632.7" stroke="#000" stroke-width="1.6"/>
<path d="M1962.2 1627.7V1630.5" stroke="#000" stroke-width="1.6"/>
<path d="M1999.8 1627.7V1632.7" stroke="#000" stroke-width="1.6"/>
<text x="1693.1" y="1651.5" font-size="19" stroke="#000" stroke-width="0.3" textLength="11.4" lengthAdjust="spacingAndGlyphs">0</text>
<text x="1762.6" y="1651.5" font-size="19" stroke="#000" stroke-width="0.3" textLength="22.8" lengthAdjust="spacingAndGlyphs">50</text>
<text x="1832.2" y="1651.5" font-size="19" stroke="#000" stroke-width="0.3" textLength="34.2" lengthAdjust="spacingAndGlyphs">100</text>
<text x="1907.4" y="1651.5" font-size="19" stroke="#000" stroke-width="0.3" textLength="34.2" lengthAdjust="spacingAndGlyphs">150</text>
<text x="1982.7" y="1651.5" font-size="19" stroke="#000" stroke-width="0.3" textLength="34.2" lengthAdjust="spacingAndGlyphs">200</text>
<text x="1831.2" y="1669.7" font-size="19.5" stroke="#000" stroke-width="0.3" textLength="74.9" lengthAdjust="spacingAndGlyphs">time [s]</text>
<text transform="translate(1655 1526.6) scale(0.92 1) rotate(-90)" font-size="21.1" text-anchor="middle" stroke="#000" stroke-width="0.35">I [normalized]</text>
<rect x="1701.3" y="1611.3" width="123" height="13" fill="#fff" stroke="#000" stroke-width="1.8"/>
<rect x="1824.3" y="1611.3" width="179.4" height="13" fill="#C0C0C0" stroke="#000" stroke-width="1.8"/>
<text x="1708.5" y="1430.6" font-size="19.5" stroke="#000" stroke-width="0.3" textLength="53.9" lengthAdjust="spacingAndGlyphs">Orai1</text>
<text x="1911.7" y="1508" font-size="20" stroke="#DF3123" stroke-width="0.3" fill="#DF3123" textLength="79.2" lengthAdjust="spacingAndGlyphs">+ STIM1</text>
<text x="1935.6" y="1534" font-size="20" stroke="#DF3123" stroke-width="0.3" fill="#DF3123" textLength="53.2" lengthAdjust="spacingAndGlyphs">1-474</text>
<text x="1781.6" y="1546.4" font-size="20" stroke="#000" stroke-width="0.3" textLength="79.2" lengthAdjust="spacingAndGlyphs">+ STIM1</text>
<text><tspan x="1773.7" y="1608.4" font-size="19.5" stroke="#000" stroke-width="0.3" textLength="26.9" lengthAdjust="spacingAndGlyphs">Ca</tspan><tspan x="1800.3" y="1597" font-size="19.5" stroke="#000" stroke-width="0.3" textLength="24" lengthAdjust="spacingAndGlyphs">2+</tspan></text>
<text><tspan x="1900.4" y="1606" font-size="19.5" stroke="#000" stroke-width="0.3" textLength="26.9" lengthAdjust="spacingAndGlyphs">Na</tspan><tspan x="1927.7" y="1593.5" font-size="19.5" stroke="#000" stroke-width="0.3" textLength="12.3" lengthAdjust="spacingAndGlyphs">+</tspan> <tspan x="1944.8" y="1606" font-size="19.5" stroke="#000" stroke-width="0.3" textLength="55" lengthAdjust="spacingAndGlyphs">- DVF</tspan></text>
<path d="M1690.8 2001.7L1698.3 1999.9L1715.3 2002.2L1756.2 2003.5L1801.6 2004.5L1833.4 2002.9L1840.2 1999.5L1849.3 1993.8L1856.1 1991.1L1864.1 1990.8L1878.8 1993.1L1915.1 1992.2L1949.2 1992.9L1991.9 1993.6" fill="none" stroke="#DF3123" stroke-width="2.9" stroke-linejoin="round"/>
<path d="M1690.8 2006.3L1697.2 2006.3L1705.1 2004.5L1713.1 2007.4L1728.9 2004.5L1736.9 2007L1751.7 2005.4L1778.9 2005.8L1788 2004.5L1797.1 2002.9L1810.7 2005.1L1818.6 2003.5L1826.6 2006.3L1833.4 2005.1L1843.6 2005.1L1849.3 2006.3L1852.7 2058.5L1856.1 2118L1859.5 2088L1864.1 2059.6L1870.9 2036.5L1878.8 2033.5L1886.8 2023.3L1894.7 2019.9L1908.3 2016.5L1916.3 2019.9L1931 2018.1L1946.9 2018.8L1953.8 2019.9L1960.6 2016.5L1969.6 2017.6L1977.6 2014.9" fill="none" stroke="#000" stroke-width="2.9" stroke-linejoin="round"/>
<path d="M1685.8 1981.5H1991.9" stroke="#000" stroke-width="1.5"/>
<path d="M1690.8 1935.6V2166.2" stroke="#000" stroke-width="2.2"/>
<path d="M1689.8 2165.2H1992.9" stroke="#000" stroke-width="2"/>
<path d="M1685.3 1935.6H1690.8" stroke="#000" stroke-width="1.6"/>
<path d="M1688 1958.6H1690.8" stroke="#000" stroke-width="1.6"/>
<path d="M1685.3 1981.5H1690.8" stroke="#000" stroke-width="1.6"/>
<path d="M1688 2004.5H1690.8" stroke="#000" stroke-width="1.6"/>
<path d="M1685.3 2027.4H1690.8" stroke="#000" stroke-width="1.6"/>
<path d="M1688 2050.4H1690.8" stroke="#000" stroke-width="1.6"/>
<path d="M1685.3 2073.4H1690.8" stroke="#000" stroke-width="1.6"/>
<path d="M1688 2096.3H1690.8" stroke="#000" stroke-width="1.6"/>
<path d="M1685.3 2119.3H1690.8" stroke="#000" stroke-width="1.6"/>
<path d="M1688 2142.2H1690.8" stroke="#000" stroke-width="1.6"/>
<path d="M1685.3 2165.2H1690.8" stroke="#000" stroke-width="1.6"/>
<text x="1671.1" y="1942.4" font-size="19" stroke="#000" stroke-width="0.3" textLength="11.4" lengthAdjust="spacingAndGlyphs">2</text>
<text x="1671.1" y="1988.4" font-size="19" stroke="#000" stroke-width="0.3" textLength="11.4" lengthAdjust="spacingAndGlyphs">0</text>
<text x="1664.3" y="2034.3" font-size="19" stroke="#000" stroke-width="0.3" textLength="18.2" lengthAdjust="spacingAndGlyphs">-2</text>
<text x="1664.3" y="2080.2" font-size="19" stroke="#000" stroke-width="0.3" textLength="18.2" lengthAdjust="spacingAndGlyphs">-4</text>
<text x="1664.3" y="2126.1" font-size="19" stroke="#000" stroke-width="0.3" textLength="18.2" lengthAdjust="spacingAndGlyphs">-6</text>
<text x="1664.3" y="2172" font-size="19" stroke="#000" stroke-width="0.3" textLength="18.2" lengthAdjust="spacingAndGlyphs">-8</text>
<path d="M1690.8 2165.2V2170.2" stroke="#000" stroke-width="1.6"/>
<path d="M1766.1 2165.2V2168" stroke="#000" stroke-width="1.6"/>
<path d="M1841.3 2165.2V2170.2" stroke="#000" stroke-width="1.6"/>
<path d="M1916.6 2165.2V2168" stroke="#000" stroke-width="1.6"/>
<path d="M1991.9 2165.2V2170.2" stroke="#000" stroke-width="1.6"/>
<text x="1685.1" y="2190.6" font-size="19" stroke="#000" stroke-width="0.3" textLength="11.4" lengthAdjust="spacingAndGlyphs">0</text>
<text x="1824.2" y="2190.6" font-size="19" stroke="#000" stroke-width="0.3" textLength="34.2" lengthAdjust="spacingAndGlyphs">100</text>
<text x="1974.8" y="2190.6" font-size="19" stroke="#000" stroke-width="0.3" textLength="34.2" lengthAdjust="spacingAndGlyphs">200</text>
<text x="1807.3" y="2211" font-size="19.5" stroke="#000" stroke-width="0.3" textLength="74.9" lengthAdjust="spacingAndGlyphs">time [s]</text>
<text transform="translate(1647 2046.4) scale(0.92 1) rotate(-90)" font-size="21.1" text-anchor="middle" stroke="#000" stroke-width="0.35">I [pA/pF]</text>
<rect x="1834.5" y="2149.3" width="162.3" height="14" fill="#C0C0C0" stroke="#000" stroke-width="1.8"/>
<text x="1711.3" y="1959.5" font-size="19.5" stroke="#000" stroke-width="0.3" textLength="72" lengthAdjust="spacingAndGlyphs">Orai1 +</text>
<text x="1704.4" y="2032.3" font-size="20" stroke="#DF3123" stroke-width="0.3" fill="#DF3123" textLength="61.3" lengthAdjust="spacingAndGlyphs">STIM1</text>
<text x="1704.4" y="2058.2" font-size="20" stroke="#DF3123" stroke-width="0.3" fill="#DF3123" textLength="76.3" lengthAdjust="spacingAndGlyphs">344-449</text>
<text x="1704.4" y="2085" font-size="20" stroke="#DF3123" stroke-width="0.3" fill="#DF3123" textLength="58.9" lengthAdjust="spacingAndGlyphs">(CAD)</text>
<text x="1869" y="2080.5" font-size="20" stroke="#000" stroke-width="0.3" textLength="94.8" lengthAdjust="spacingAndGlyphs">STIM1 CT</text>
<text><tspan x="1910.6" y="2140.2" font-size="20" stroke="#000" stroke-width="0.3" textLength="27.6" lengthAdjust="spacingAndGlyphs">Na</tspan><tspan x="1937.5" y="2131" font-size="12" stroke="#000" stroke-width="0.3" textLength="7.6" lengthAdjust="spacingAndGlyphs">+</tspan><tspan x="1945" y="2140.2" font-size="20" stroke="#000" stroke-width="0.3" textLength="50.4" lengthAdjust="spacingAndGlyphs">-DVF</tspan></text>
</svg>
</body>
</html>
